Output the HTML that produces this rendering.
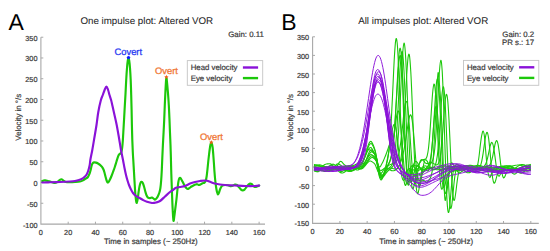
<!DOCTYPE html>
<html><head><meta charset="utf-8"><style>
html,body{margin:0;padding:0;background:#fff;}
svg{display:block;}
text{font-family:"Liberation Sans", sans-serif;stroke-width:0.2px;text-rendering:geometricPrecision;}
.tk{font-size:7.3px;fill:#3a3a3a;stroke:#3a3a3a;}
.lb{font-size:7.85px;fill:#3a3a3a;stroke:#3a3a3a;}
.lg{font-size:7.8px;fill:#3a3a3a;stroke:#3a3a3a;}
.ti{font-size:9.75px;fill:#262626;stroke:#262626;stroke-width:0.05px;}
.big{font-size:23px;fill:#000;}
</style></head><body>
<svg width="550" height="251" viewBox="0 0 550 251" xmlns="http://www.w3.org/2000/svg">
<path d="M40.90 37.20V224.10H265.00" fill="none" stroke="#a8a8a8" stroke-width="1.1"/>
<text x="37.50" y="227.51" text-anchor="end" class="tk">-100</text>
<path d="M40.90 203.25h2.4" stroke="#a8a8a8" stroke-width="1"/>
<text x="37.50" y="206.75" text-anchor="end" class="tk">-50</text>
<path d="M40.90 182.50h2.4" stroke="#a8a8a8" stroke-width="1"/>
<text x="37.50" y="186.00" text-anchor="end" class="tk">0</text>
<path d="M40.90 161.75h2.4" stroke="#a8a8a8" stroke-width="1"/>
<text x="37.50" y="165.25" text-anchor="end" class="tk">50</text>
<path d="M40.90 140.99h2.4" stroke="#a8a8a8" stroke-width="1"/>
<text x="37.50" y="144.49" text-anchor="end" class="tk">100</text>
<path d="M40.90 120.23h2.4" stroke="#a8a8a8" stroke-width="1"/>
<text x="37.50" y="123.73" text-anchor="end" class="tk">150</text>
<path d="M40.90 99.48h2.4" stroke="#a8a8a8" stroke-width="1"/>
<text x="37.50" y="102.98" text-anchor="end" class="tk">200</text>
<path d="M40.90 78.72h2.4" stroke="#a8a8a8" stroke-width="1"/>
<text x="37.50" y="82.22" text-anchor="end" class="tk">250</text>
<path d="M40.90 57.97h2.4" stroke="#a8a8a8" stroke-width="1"/>
<text x="37.50" y="61.47" text-anchor="end" class="tk">300</text>
<path d="M40.90 37.22h2.4" stroke="#a8a8a8" stroke-width="1"/>
<text x="37.50" y="40.72" text-anchor="end" class="tk">350</text>
<text x="40.90" y="234.70" text-anchor="middle" class="tk">0</text>
<path d="M68.18 224.10v-2.4" stroke="#a8a8a8" stroke-width="1"/>
<text x="68.18" y="234.70" text-anchor="middle" class="tk">20</text>
<path d="M95.45 224.10v-2.4" stroke="#a8a8a8" stroke-width="1"/>
<text x="95.45" y="234.70" text-anchor="middle" class="tk">40</text>
<path d="M122.73 224.10v-2.4" stroke="#a8a8a8" stroke-width="1"/>
<text x="122.73" y="234.70" text-anchor="middle" class="tk">60</text>
<path d="M150.00 224.10v-2.4" stroke="#a8a8a8" stroke-width="1"/>
<text x="150.00" y="234.70" text-anchor="middle" class="tk">80</text>
<path d="M177.28 224.10v-2.4" stroke="#a8a8a8" stroke-width="1"/>
<text x="177.28" y="234.70" text-anchor="middle" class="tk">100</text>
<path d="M204.56 224.10v-2.4" stroke="#a8a8a8" stroke-width="1"/>
<text x="204.56" y="234.70" text-anchor="middle" class="tk">120</text>
<path d="M231.83 224.10v-2.4" stroke="#a8a8a8" stroke-width="1"/>
<text x="231.83" y="234.70" text-anchor="middle" class="tk">140</text>
<path d="M259.11 224.10v-2.4" stroke="#a8a8a8" stroke-width="1"/>
<text x="259.11" y="234.70" text-anchor="middle" class="tk">160</text>
<path d="M312.60 36.80V223.40H538.80" fill="none" stroke="#a8a8a8" stroke-width="1.1"/>
<text x="309.20" y="226.30" text-anchor="end" class="tk">-150</text>
<path d="M312.60 204.20h2.4" stroke="#a8a8a8" stroke-width="1"/>
<text x="309.20" y="207.70" text-anchor="end" class="tk">-100</text>
<path d="M312.60 185.60h2.4" stroke="#a8a8a8" stroke-width="1"/>
<text x="309.20" y="189.10" text-anchor="end" class="tk">-50</text>
<path d="M312.60 167.00h2.4" stroke="#a8a8a8" stroke-width="1"/>
<text x="309.20" y="170.50" text-anchor="end" class="tk">0</text>
<path d="M312.60 148.40h2.4" stroke="#a8a8a8" stroke-width="1"/>
<text x="309.20" y="151.90" text-anchor="end" class="tk">50</text>
<path d="M312.60 129.80h2.4" stroke="#a8a8a8" stroke-width="1"/>
<text x="309.20" y="133.30" text-anchor="end" class="tk">100</text>
<path d="M312.60 111.20h2.4" stroke="#a8a8a8" stroke-width="1"/>
<text x="309.20" y="114.70" text-anchor="end" class="tk">150</text>
<path d="M312.60 92.60h2.4" stroke="#a8a8a8" stroke-width="1"/>
<text x="309.20" y="96.10" text-anchor="end" class="tk">200</text>
<path d="M312.60 74.00h2.4" stroke="#a8a8a8" stroke-width="1"/>
<text x="309.20" y="77.50" text-anchor="end" class="tk">250</text>
<path d="M312.60 55.40h2.4" stroke="#a8a8a8" stroke-width="1"/>
<text x="309.20" y="58.90" text-anchor="end" class="tk">300</text>
<path d="M312.60 36.80h2.4" stroke="#a8a8a8" stroke-width="1"/>
<text x="309.20" y="40.30" text-anchor="end" class="tk">350</text>
<text x="312.60" y="234.00" text-anchor="middle" class="tk">0</text>
<path d="M339.88 223.40v-2.4" stroke="#a8a8a8" stroke-width="1"/>
<text x="339.88" y="234.00" text-anchor="middle" class="tk">20</text>
<path d="M367.15 223.40v-2.4" stroke="#a8a8a8" stroke-width="1"/>
<text x="367.15" y="234.00" text-anchor="middle" class="tk">40</text>
<path d="M394.43 223.40v-2.4" stroke="#a8a8a8" stroke-width="1"/>
<text x="394.43" y="234.00" text-anchor="middle" class="tk">60</text>
<path d="M421.70 223.40v-2.4" stroke="#a8a8a8" stroke-width="1"/>
<text x="421.70" y="234.00" text-anchor="middle" class="tk">80</text>
<path d="M448.98 223.40v-2.4" stroke="#a8a8a8" stroke-width="1"/>
<text x="448.98" y="234.00" text-anchor="middle" class="tk">100</text>
<path d="M476.26 223.40v-2.4" stroke="#a8a8a8" stroke-width="1"/>
<text x="476.26" y="234.00" text-anchor="middle" class="tk">120</text>
<path d="M503.53 223.40v-2.4" stroke="#a8a8a8" stroke-width="1"/>
<text x="503.53" y="234.00" text-anchor="middle" class="tk">140</text>
<path d="M530.81 223.40v-2.4" stroke="#a8a8a8" stroke-width="1"/>
<text x="530.81" y="234.00" text-anchor="middle" class="tk">160</text>
<text x="8.6" y="29.7" class="big">A</text>
<text x="281.3" y="29.8" class="big">B</text>
<text x="80.4" y="24.4" class="ti">One impulse plot: Altered VOR</text>
<text x="358.2" y="24.4" class="ti">All impulses plot: Altered VOR</text>
<text x="263.9" y="36.6" text-anchor="end" class="lb">Gain: 0.11</text>
<text x="534.2" y="36.6" text-anchor="end" class="lb">Gain: 0.2</text>
<text x="534.2" y="45.1" text-anchor="end" class="lb">PR s.: 17</text>
<text x="150.9" y="243.9" text-anchor="middle" class="lb">Time in samples (~ 250Hz)</text>
<text x="426.2" y="243.9" text-anchor="middle" class="lb">Time in samples (~ 250Hz)</text>
<text transform="translate(20.5 117.3) rotate(-90)" text-anchor="middle" class="lb">Velocity in °/s</text>
<text transform="translate(292.6 117.4) rotate(-90)" text-anchor="middle" class="lb">Velocity in °/s</text>
<path d="M42.20 181.00C42.42 180.93 43.03 180.70 43.50 180.60C43.97 180.50 44.25 180.33 45.00 180.40C45.75 180.47 47.17 180.80 48.00 181.00C48.83 181.20 49.33 181.40 50.00 181.60C50.67 181.80 51.17 181.97 52.00 182.20C52.83 182.43 54.17 183.00 55.00 183.00C55.83 183.00 56.25 182.67 57.00 182.20C57.75 181.73 58.75 180.68 59.50 180.20C60.25 179.72 60.83 179.23 61.50 179.30C62.17 179.37 62.75 180.15 63.50 180.60C64.25 181.05 64.92 181.73 66.00 182.00C67.08 182.27 68.50 182.20 70.00 182.20C71.50 182.20 73.33 182.12 75.00 182.00C76.67 181.88 78.67 181.77 80.00 181.50C81.33 181.23 82.17 180.82 83.00 180.40C83.83 179.98 84.20 179.53 85.00 179.00C85.80 178.47 87.03 178.12 87.80 177.20C88.57 176.28 89.10 174.78 89.60 173.50C90.10 172.22 90.47 170.78 90.80 169.50C91.13 168.22 91.30 166.83 91.60 165.80C91.90 164.77 92.20 163.87 92.60 163.30C93.00 162.73 93.43 162.52 94.00 162.40C94.57 162.28 95.33 162.42 96.00 162.60C96.67 162.78 97.33 163.13 98.00 163.50C98.67 163.87 99.33 164.25 100.00 164.80C100.67 165.35 101.42 166.02 102.00 166.80C102.58 167.58 103.07 168.47 103.50 169.50C103.93 170.53 104.25 171.75 104.60 173.00C104.95 174.25 105.27 175.75 105.60 177.00C105.93 178.25 106.23 179.57 106.60 180.50C106.97 181.43 107.40 182.47 107.80 182.60C108.20 182.73 108.60 181.90 109.00 181.30C109.40 180.70 109.78 179.88 110.20 179.00C110.62 178.12 111.03 177.17 111.50 176.00C111.97 174.83 112.45 173.50 113.00 172.00C113.55 170.50 114.22 168.75 114.80 167.00C115.38 165.25 115.90 163.40 116.50 161.50C117.10 159.60 117.82 156.90 118.40 155.60C118.98 154.30 119.52 154.27 120.00 153.70C120.48 153.13 120.93 153.23 121.30 152.20C121.67 151.17 121.95 149.37 122.20 147.50C122.45 145.63 122.58 144.08 122.80 141.00C123.02 137.92 123.27 133.00 123.50 129.00C123.73 125.00 123.98 120.83 124.20 117.00C124.42 113.17 124.58 109.83 124.80 106.00C125.02 102.17 125.27 98.33 125.50 94.00C125.73 89.67 125.95 84.33 126.20 80.00C126.45 75.67 126.73 71.25 127.00 68.00C127.27 64.75 127.55 62.20 127.80 60.50C128.05 58.80 128.27 57.80 128.50 57.80C128.73 57.80 128.95 58.80 129.20 60.50C129.45 62.20 129.75 64.75 130.00 68.00C130.25 71.25 130.50 75.50 130.70 80.00C130.90 84.50 131.05 90.00 131.20 95.00C131.35 100.00 131.48 105.00 131.60 110.00C131.72 115.00 131.78 120.00 131.90 125.00C132.02 130.00 132.15 135.50 132.30 140.00C132.45 144.50 132.62 148.33 132.80 152.00C132.98 155.67 133.18 158.33 133.40 162.00C133.62 165.67 133.87 170.00 134.10 174.00C134.33 178.00 134.57 182.33 134.80 186.00C135.03 189.67 135.22 193.20 135.50 196.00C135.78 198.80 136.15 202.22 136.50 202.80C136.85 203.38 137.25 201.30 137.60 199.50C137.95 197.70 138.27 194.25 138.60 192.00C138.93 189.75 139.27 187.57 139.60 186.00C139.93 184.43 140.27 183.30 140.60 182.60C140.93 181.90 141.23 181.73 141.60 181.80C141.97 181.87 142.40 182.22 142.80 183.00C143.20 183.78 143.58 185.08 144.00 186.50C144.42 187.92 144.87 190.00 145.30 191.50C145.73 193.00 146.15 194.48 146.60 195.50C147.05 196.52 147.43 197.17 148.00 197.60C148.57 198.03 149.33 198.10 150.00 198.10C150.67 198.10 151.40 197.52 152.00 197.60C152.60 197.68 153.10 198.27 153.60 198.60C154.10 198.93 154.52 199.63 155.00 199.60C155.48 199.57 156.00 199.00 156.50 198.40C157.00 197.80 157.52 196.98 158.00 196.00C158.48 195.02 159.00 193.83 159.40 192.50C159.80 191.17 160.10 190.08 160.40 188.00C160.70 185.92 160.97 183.00 161.20 180.00C161.43 177.00 161.62 173.67 161.80 170.00C161.98 166.33 162.12 162.17 162.30 158.00C162.48 153.83 162.68 149.33 162.90 145.00C163.12 140.67 163.38 136.17 163.60 132.00C163.82 127.83 164.00 124.50 164.20 120.00C164.40 115.50 164.60 109.67 164.80 105.00C165.00 100.33 165.20 96.00 165.40 92.00C165.60 88.00 165.83 83.45 166.00 81.00C166.17 78.55 166.25 77.30 166.40 77.30C166.55 77.30 166.65 78.55 166.90 81.00C167.15 83.45 167.58 88.00 167.90 92.00C168.22 96.00 168.53 100.33 168.80 105.00C169.07 109.67 169.30 115.33 169.50 120.00C169.70 124.67 169.83 128.83 170.00 133.00C170.17 137.17 170.35 140.83 170.50 145.00C170.65 149.17 170.78 153.83 170.90 158.00C171.02 162.17 171.08 166.00 171.20 170.00C171.32 174.00 171.45 177.67 171.60 182.00C171.75 186.33 171.92 191.33 172.10 196.00C172.28 200.67 172.47 205.87 172.70 210.00C172.93 214.13 173.20 219.97 173.50 220.80C173.80 221.63 174.17 217.30 174.50 215.00C174.83 212.70 175.17 209.67 175.50 207.00C175.83 204.33 176.18 201.83 176.50 199.00C176.82 196.17 177.12 192.67 177.40 190.00C177.68 187.33 177.93 184.83 178.20 183.00C178.47 181.17 178.70 179.87 179.00 179.00C179.30 178.13 179.67 177.83 180.00 177.80C180.33 177.77 180.58 178.18 181.00 178.80C181.42 179.42 182.00 180.55 182.50 181.50C183.00 182.45 183.45 183.50 184.00 184.50C184.55 185.50 185.20 186.75 185.80 187.50C186.40 188.25 186.98 188.92 187.60 189.00C188.22 189.08 188.85 188.42 189.50 188.00C190.15 187.58 190.83 186.92 191.50 186.50C192.17 186.08 192.83 185.82 193.50 185.50C194.17 185.18 194.88 184.82 195.50 184.60C196.12 184.38 196.62 184.13 197.20 184.20C197.78 184.27 198.40 184.98 199.00 185.00C199.60 185.02 200.22 184.58 200.80 184.30C201.38 184.02 201.88 183.58 202.50 183.30C203.12 183.02 203.95 183.07 204.50 182.60C205.05 182.13 205.43 181.60 205.80 180.50C206.17 179.40 206.42 177.92 206.70 176.00C206.98 174.08 207.23 171.50 207.50 169.00C207.77 166.50 208.03 163.50 208.30 161.00C208.57 158.50 208.83 156.17 209.10 154.00C209.37 151.83 209.65 149.67 209.90 148.00C210.15 146.33 210.37 144.95 210.60 144.00C210.83 143.05 211.07 142.30 211.30 142.30C211.53 142.30 211.77 143.05 212.00 144.00C212.23 144.95 212.48 146.17 212.70 148.00C212.92 149.83 213.10 152.50 213.30 155.00C213.50 157.50 213.70 160.17 213.90 163.00C214.10 165.83 214.28 169.17 214.50 172.00C214.72 174.83 214.95 177.58 215.20 180.00C215.45 182.42 215.70 184.50 216.00 186.50C216.30 188.50 216.67 190.68 217.00 192.00C217.33 193.32 217.67 194.32 218.00 194.40C218.33 194.48 218.67 193.32 219.00 192.50C219.33 191.68 219.63 190.42 220.00 189.50C220.37 188.58 220.78 187.65 221.20 187.00C221.62 186.35 221.87 185.93 222.50 185.60C223.13 185.27 224.08 185.07 225.00 185.00C225.92 184.93 227.00 185.00 228.00 185.20C229.00 185.40 230.17 186.13 231.00 186.20C231.83 186.27 232.33 185.87 233.00 185.60C233.67 185.33 234.33 184.70 235.00 184.60C235.67 184.50 236.33 184.57 237.00 185.00C237.67 185.43 238.33 186.43 239.00 187.20C239.67 187.97 240.38 189.07 241.00 189.60C241.62 190.13 242.12 190.40 242.70 190.40C243.28 190.40 243.87 190.17 244.50 189.60C245.13 189.03 245.83 187.85 246.50 187.00C247.17 186.15 247.92 185.07 248.50 184.50C249.08 183.93 249.50 183.68 250.00 183.60C250.50 183.52 251.00 183.68 251.50 184.00C252.00 184.32 252.42 185.00 253.00 185.50C253.58 186.00 254.33 186.82 255.00 187.00C255.67 187.18 256.30 186.83 257.00 186.60C257.70 186.37 258.83 185.77 259.20 185.60" fill="none" stroke="#1cc80a" stroke-width="2.15" stroke-linejoin="round" stroke-linecap="round"/>
<path d="M42.20 182.50C43.50 182.47 47.03 182.38 50.00 182.30C52.97 182.22 56.67 182.13 60.00 182.00C63.33 181.87 67.50 181.67 70.00 181.50C72.50 181.33 73.67 181.22 75.00 181.00C76.33 180.78 76.90 180.53 78.00 180.20C79.10 179.87 80.48 179.57 81.60 179.00C82.72 178.43 83.83 177.60 84.70 176.80C85.57 176.00 86.20 175.25 86.80 174.20C87.40 173.15 87.83 171.95 88.30 170.50C88.77 169.05 89.23 167.42 89.60 165.50C89.97 163.58 90.05 161.58 90.50 159.00C90.95 156.42 91.63 153.67 92.30 150.00C92.97 146.33 93.80 141.17 94.50 137.00C95.20 132.83 95.87 129.17 96.50 125.00C97.13 120.83 97.57 116.17 98.30 112.00C99.03 107.83 100.15 102.83 100.90 100.00C101.65 97.17 102.18 96.67 102.80 95.00C103.42 93.33 104.00 91.42 104.60 90.00C105.20 88.58 105.82 86.50 106.40 86.50C106.98 86.50 107.58 88.58 108.10 90.00C108.62 91.42 109.00 93.33 109.50 95.00C110.00 96.67 110.60 98.17 111.10 100.00C111.60 101.83 111.93 103.50 112.50 106.00C113.07 108.50 113.80 111.83 114.50 115.00C115.20 118.17 115.95 121.17 116.70 125.00C117.45 128.83 118.28 133.83 119.00 138.00C119.72 142.17 120.33 146.33 121.00 150.00C121.67 153.67 122.42 157.00 123.00 160.00C123.58 163.00 124.00 165.50 124.50 168.00C125.00 170.50 125.50 172.92 126.00 175.00C126.50 177.08 127.00 178.83 127.50 180.50C128.00 182.17 128.42 183.50 129.00 185.00C129.58 186.50 130.33 188.17 131.00 189.50C131.67 190.83 132.17 191.92 133.00 193.00C133.83 194.08 134.83 195.13 136.00 196.00C137.17 196.87 138.83 197.53 140.00 198.20C141.17 198.87 141.83 199.40 143.00 200.00C144.17 200.60 145.50 201.30 147.00 201.80C148.50 202.30 150.50 202.88 152.00 203.00C153.50 203.12 154.67 202.83 156.00 202.50C157.33 202.17 158.50 202.00 160.00 201.00C161.50 200.00 163.33 198.00 165.00 196.50C166.67 195.00 168.67 193.08 170.00 192.00C171.33 190.92 172.00 190.70 173.00 190.00C174.00 189.30 174.83 188.30 176.00 187.80C177.17 187.30 178.50 187.30 180.00 187.00C181.50 186.70 183.33 186.57 185.00 186.00C186.67 185.43 188.33 184.27 190.00 183.60C191.67 182.93 193.33 182.43 195.00 182.00C196.67 181.57 198.17 181.25 200.00 181.00C201.83 180.75 204.33 180.37 206.00 180.50C207.67 180.63 208.50 181.30 210.00 181.80C211.50 182.30 213.33 183.05 215.00 183.50C216.67 183.95 218.33 184.25 220.00 184.50C221.67 184.75 222.50 184.83 225.00 185.00C227.50 185.17 231.67 185.33 235.00 185.50C238.33 185.67 241.67 185.92 245.00 186.00C248.33 186.08 252.63 186.08 255.00 186.00C257.37 185.92 258.50 185.58 259.20 185.50" fill="none" stroke="#8a12d8" stroke-width="2.15" stroke-linejoin="round" stroke-linecap="round"/>
<circle cx="128.5" cy="57.6" r="1.7" fill="#0a1aff"/>
<text x="128.3" y="54.6" text-anchor="middle" style="font-size:9.4px;fill:#2a3cf2;stroke:#2a3cf2;stroke-width:0.3px">Covert</text>
<text x="166.4" y="73.9" text-anchor="middle" style="font-size:9.4px;fill:#f07838;stroke:#f07838;stroke-width:0.3px">Overt</text>
<path d="M166.40 74.80L166.99 76.29L168.59 76.39L167.35 77.41L167.75 78.96L166.40 78.10L165.05 78.96L165.45 77.41L164.21 76.39L165.81 76.29z" fill="#f05a14"/>
<text x="211.5" y="139.5" text-anchor="middle" style="font-size:9.4px;fill:#f07838;stroke:#f07838;stroke-width:0.3px">Overt</text>
<path d="M211.30 140.10L211.89 141.59L213.49 141.69L212.25 142.71L212.65 144.26L211.30 143.40L209.95 144.26L210.35 142.71L209.11 141.69L210.71 141.59z" fill="#f05a14"/>
<path d="M313.96 167.94C314.19 167.86 314.87 167.62 315.33 167.47C315.78 167.33 316.24 167.18 316.69 167.07C317.15 166.96 317.60 166.86 318.06 166.79C318.51 166.73 318.96 166.69 319.42 166.68C319.87 166.68 320.33 166.70 320.78 166.76C321.24 166.83 321.69 166.91 322.15 167.05C322.60 167.20 323.06 167.36 323.51 167.63C323.97 167.89 324.42 168.23 324.87 168.62C325.33 169.01 325.78 169.56 326.24 169.96C326.69 170.37 327.15 170.84 327.60 171.03C328.06 171.21 328.51 171.21 328.97 171.06C329.42 170.91 329.87 170.48 330.33 170.12C330.78 169.76 331.24 169.29 331.69 168.90C332.15 168.51 332.60 168.17 333.06 167.79C333.51 167.41 333.97 167.03 334.42 166.60C334.88 166.17 335.33 165.63 335.78 165.21C336.24 164.79 336.69 164.30 337.15 164.07C337.60 163.85 338.06 163.78 338.51 163.87C338.97 163.96 339.42 164.31 339.88 164.61C340.33 164.91 340.79 165.33 341.24 165.67C341.69 166.01 342.15 166.33 342.60 166.63C343.06 166.94 343.51 167.21 343.97 167.50C344.42 167.78 344.88 168.07 345.33 168.35C345.79 168.64 346.24 168.93 346.70 169.19C347.15 169.45 347.60 169.71 348.06 169.92C348.51 170.12 348.97 170.31 349.42 170.43C349.88 170.55 350.33 170.63 350.79 170.64C351.24 170.66 351.70 170.62 352.15 170.52C352.60 170.41 353.06 170.25 353.51 170.04C353.97 169.83 354.42 169.56 354.88 169.26C355.33 168.96 355.79 168.61 356.24 168.24C356.70 167.88 357.15 167.47 357.61 167.06C358.06 166.65 358.51 166.22 358.97 165.77C359.42 165.32 359.88 164.86 360.33 164.35C360.79 163.84 361.24 163.31 361.70 162.70C362.15 162.09 362.61 161.44 363.06 160.68C363.52 159.92 363.97 159.08 364.42 158.16C364.88 157.24 365.33 156.20 365.79 155.18C366.24 154.16 366.70 153.01 367.15 152.04C367.61 151.07 368.06 150.05 368.52 149.34C368.97 148.63 369.43 148.04 369.88 147.78C370.33 147.52 370.79 147.46 371.24 147.78C371.70 148.11 372.15 148.96 372.61 149.76C373.06 150.55 373.52 151.55 373.97 152.55C374.43 153.55 374.88 154.26 375.33 155.75C375.79 157.25 376.24 159.27 376.70 161.54C377.15 163.81 377.61 167.06 378.06 169.38C378.52 171.71 378.97 174.07 379.43 175.51C379.88 176.95 380.34 177.73 380.79 178.04C381.24 178.34 381.70 177.95 382.15 177.34C382.61 176.74 383.06 175.57 383.52 174.40C383.97 173.22 384.43 171.77 384.88 170.30C385.34 168.83 385.79 167.38 386.25 165.59C386.70 163.80 387.15 162.12 387.61 159.58C388.06 157.04 388.52 154.39 388.97 150.34C389.43 146.28 389.88 141.55 390.34 135.25C390.79 128.96 391.25 121.13 391.70 112.58C392.15 104.02 392.61 93.32 393.06 83.92C393.52 74.52 393.97 63.53 394.43 56.17C394.88 48.81 395.34 42.01 395.79 39.77C396.25 37.54 396.70 38.52 397.16 42.77C397.61 47.03 398.06 55.84 398.52 65.30C398.97 74.77 399.43 87.95 399.88 99.56C400.34 111.18 400.79 124.39 401.25 135.02C401.70 145.64 402.16 155.80 402.61 163.32C403.07 170.84 403.52 176.47 403.97 180.14C404.43 183.81 404.88 184.96 405.34 185.34C405.79 185.72 406.25 183.92 406.70 182.43C407.16 180.95 407.61 178.33 408.07 176.42C408.52 174.51 408.98 172.47 409.43 170.96C409.88 169.44 410.34 168.24 410.79 167.34C411.25 166.44 411.70 165.90 412.16 165.54C412.61 165.18 413.07 165.17 413.52 165.18C413.98 165.20 414.43 165.50 414.88 165.63C415.34 165.77 415.79 166.02 416.25 166.00C416.70 165.98 417.16 165.85 417.61 165.52C418.07 165.20 418.52 164.62 418.98 164.04C419.43 163.46 419.89 162.67 420.34 162.06C420.79 161.45 421.25 160.80 421.70 160.37C422.16 159.95 422.61 159.70 423.07 159.54C423.52 159.37 423.98 159.51 424.43 159.40C424.89 159.29 425.34 159.47 425.80 158.90C426.25 158.33 426.70 157.81 427.16 155.98C427.61 154.16 428.07 151.78 428.52 147.94C428.98 144.10 429.43 138.84 429.89 132.94C430.34 127.03 430.80 119.15 431.25 112.52C431.71 105.90 432.16 97.94 432.61 93.20C433.07 88.45 433.52 84.40 433.98 84.05C434.43 83.70 434.89 86.26 435.34 91.11C435.80 95.95 436.25 104.57 436.71 113.13C437.16 121.70 437.62 133.14 438.07 142.50C438.52 151.86 438.98 162.11 439.43 169.30C439.89 176.49 440.34 182.32 440.80 185.63C441.25 188.94 441.71 189.45 442.16 189.14C442.62 188.83 443.07 185.93 443.52 183.77C443.98 181.60 444.43 178.33 444.89 176.13C445.34 173.94 445.80 171.97 446.25 170.59C446.71 169.22 447.16 168.48 447.62 167.88C448.07 167.27 448.53 167.14 448.98 166.97C449.43 166.80 449.89 166.85 450.34 166.87C450.80 166.89 451.25 166.99 451.71 167.09C452.16 167.18 452.62 167.31 453.07 167.43C453.53 167.55 453.98 167.68 454.44 167.79C454.89 167.90 455.34 168.01 455.80 168.09C456.25 168.17 456.71 168.23 457.16 168.27C457.62 168.30 458.07 168.31 458.53 168.29C458.98 168.27 459.44 168.23 459.89 168.16C460.35 168.09 460.80 168.00 461.25 167.90C461.71 167.80 462.16 167.67 462.62 167.56C463.07 167.44 463.53 167.31 463.98 167.20C464.44 167.09 464.89 166.97 465.35 166.89C465.80 166.81 466.25 166.73 466.71 166.69C467.16 166.65 467.62 166.63 468.07 166.65C468.53 166.66 468.98 166.70 469.44 166.77C469.89 166.83 470.35 166.93 470.80 167.03C471.26 167.14 471.71 167.28 472.16 167.41C472.62 167.55 473.07 167.70 473.53 167.84C473.98 167.99 474.44 168.13 474.89 168.26C475.35 168.39 475.80 168.51 476.26 168.60C476.71 168.69 477.17 168.77 477.62 168.81C478.07 168.86 478.53 168.88 478.98 168.87C479.44 168.86 479.89 168.83 480.35 168.77C480.80 168.72 481.26 168.64 481.71 168.55C482.17 168.46 482.62 168.35 483.08 168.24C483.53 168.13 483.98 168.01 484.44 167.91C484.89 167.81 485.35 167.70 485.80 167.62C486.26 167.54 486.71 167.47 487.17 167.42C487.62 167.38 488.08 167.35 488.53 167.35C488.98 167.34 489.44 167.37 489.89 167.40C490.35 167.44 490.80 167.50 491.26 167.57C491.71 167.64 492.17 167.73 492.62 167.81C493.08 167.89 493.53 167.98 493.99 168.05C494.44 168.12 494.89 168.19 495.35 168.24C495.80 168.28 496.26 168.31 496.71 168.31C497.17 168.31 497.62 168.28 498.08 168.23C498.53 168.17 498.99 168.08 499.44 167.97C499.90 167.86 500.35 167.72 500.80 167.57C501.26 167.42 501.71 167.24 502.17 167.07C502.62 166.90 503.08 166.71 503.53 166.55C503.99 166.39 504.44 166.22 504.90 166.09C505.35 165.96 505.80 165.85 506.26 165.78C506.71 165.72 507.17 165.68 507.62 165.70C508.08 165.72 508.53 165.78 508.99 165.89C509.44 166.00 509.90 166.16 510.35 166.36C510.81 166.55 511.26 166.80 511.71 167.07C512.17 167.33 512.62 167.65 513.08 167.95C513.53 168.26 513.99 168.60 514.44 168.91C514.90 169.22 515.35 169.54 515.81 169.81C516.26 170.09 516.72 170.35 517.17 170.55C517.62 170.74 518.08 170.91 518.53 171.00C518.99 171.10 519.44 171.14 519.90 171.11C520.35 171.09 520.81 170.99 521.26 170.84C521.72 170.69 522.17 170.47 522.63 170.21C523.08 169.95 523.53 169.62 523.99 169.28C524.44 168.94 524.90 168.55 525.35 168.16C525.81 167.78 526.26 167.36 526.72 166.98C527.17 166.60 527.63 166.21 528.08 165.87C528.54 165.54 528.99 165.22 529.44 164.97C529.90 164.72 530.58 164.47 530.81 164.37" fill="none" stroke="#1cc80a" stroke-width="1.1"/>
<path d="M313.96 170.75C314.19 170.81 314.87 171.03 315.33 171.08C315.78 171.14 316.24 171.13 316.69 171.09C317.15 171.05 317.60 170.93 318.06 170.82C318.51 170.70 318.96 170.52 319.42 170.39C319.87 170.27 320.33 170.11 320.78 170.08C321.24 170.06 321.69 170.10 322.15 170.24C322.60 170.38 323.06 170.71 323.51 170.93C323.97 171.14 324.42 171.47 324.87 171.52C325.33 171.58 325.78 171.47 326.24 171.26C326.69 171.05 327.15 170.59 327.60 170.27C328.06 169.95 328.51 169.57 328.97 169.34C329.42 169.11 329.87 168.99 330.33 168.89C330.78 168.78 331.24 168.77 331.69 168.72C332.15 168.68 332.60 168.64 333.06 168.61C333.51 168.57 333.97 168.51 334.42 168.50C334.88 168.50 335.33 168.51 335.78 168.58C336.24 168.64 336.69 168.80 337.15 168.90C337.60 169.00 338.06 169.16 338.51 169.18C338.97 169.20 339.42 169.13 339.88 169.02C340.33 168.92 340.79 168.68 341.24 168.57C341.69 168.46 342.15 168.34 342.60 168.35C343.06 168.36 343.51 168.48 343.97 168.63C344.42 168.78 344.88 169.04 345.33 169.27C345.79 169.50 346.24 169.78 346.70 170.01C347.15 170.24 347.60 170.48 348.06 170.65C348.51 170.82 348.97 170.97 349.42 171.05C349.88 171.14 350.33 171.17 350.79 171.15C351.24 171.13 351.70 171.04 352.15 170.92C352.60 170.79 353.06 170.61 353.51 170.40C353.97 170.20 354.42 169.95 354.88 169.70C355.33 169.46 355.79 169.18 356.24 168.93C356.70 168.68 357.15 168.43 357.61 168.21C358.06 167.98 358.51 167.78 358.97 167.61C359.42 167.43 359.88 167.29 360.33 167.14C360.79 166.99 361.24 166.88 361.70 166.73C362.15 166.57 362.61 166.43 363.06 166.21C363.52 165.99 363.97 165.74 364.42 165.39C364.88 165.05 365.33 164.62 365.79 164.13C366.24 163.64 366.70 163.04 367.15 162.44C367.61 161.84 368.06 161.14 368.52 160.54C368.97 159.94 369.43 159.29 369.88 158.82C370.33 158.35 370.79 157.93 371.24 157.71C371.70 157.49 372.15 157.41 372.61 157.51C373.06 157.62 373.52 158.00 373.97 158.34C374.43 158.69 374.88 158.96 375.33 159.58C375.79 160.20 376.24 160.88 376.70 162.07C377.15 163.26 377.61 165.08 378.06 166.73C378.52 168.38 378.97 170.48 379.43 171.96C379.88 173.45 380.34 174.79 380.79 175.65C381.24 176.50 381.70 176.94 382.15 177.09C382.61 177.24 383.06 176.93 383.52 176.55C383.97 176.17 384.43 175.43 384.88 174.81C385.34 174.20 385.79 173.45 386.25 172.86C386.70 172.27 387.15 171.73 387.61 171.26C388.06 170.79 388.52 170.43 388.97 170.05C389.43 169.67 389.88 169.36 390.34 168.98C390.79 168.59 391.25 168.25 391.70 167.76C392.15 167.28 392.61 166.81 393.06 166.07C393.52 165.32 393.97 164.60 394.43 163.29C394.88 161.99 395.34 160.64 395.79 158.24C396.25 155.84 396.70 153.13 397.16 148.89C397.61 144.64 398.06 139.46 398.52 132.77C398.97 126.08 399.43 117.58 399.88 108.76C400.34 99.94 400.79 88.92 401.25 79.87C401.70 70.81 402.16 60.58 402.61 54.46C403.07 48.33 403.52 43.51 403.97 43.13C404.43 42.75 404.88 46.15 405.34 52.17C405.79 58.20 406.25 68.74 406.70 79.28C407.16 89.81 407.61 103.57 408.07 115.37C408.52 127.17 408.98 140.04 409.43 150.07C409.88 160.09 410.34 169.22 410.79 175.51C411.25 181.79 411.70 185.73 412.16 187.77C412.61 189.81 413.07 188.91 413.52 187.73C413.98 186.54 414.43 183.12 414.88 180.68C415.34 178.24 415.79 175.08 416.25 173.08C416.70 171.09 417.16 169.60 417.61 168.69C418.07 167.79 418.52 167.73 418.98 167.67C419.43 167.62 419.89 168.10 420.34 168.37C420.79 168.65 421.25 169.07 421.70 169.30C422.16 169.53 422.61 169.70 423.07 169.77C423.52 169.84 423.98 169.79 424.43 169.73C424.89 169.66 425.34 169.51 425.80 169.38C426.25 169.24 426.70 169.07 427.16 168.94C427.61 168.82 428.07 168.69 428.52 168.62C428.98 168.55 429.43 168.51 429.89 168.51C430.34 168.52 430.80 168.58 431.25 168.65C431.71 168.72 432.16 168.84 432.61 168.94C433.07 169.04 433.52 169.17 433.98 169.27C434.43 169.37 434.89 169.46 435.34 169.54C435.80 169.61 436.25 169.67 436.71 169.70C437.16 169.74 437.62 169.76 438.07 169.76C438.52 169.76 438.98 169.75 439.43 169.71C439.89 169.67 440.34 169.61 440.80 169.53C441.25 169.45 441.71 169.35 442.16 169.23C442.62 169.11 443.07 168.97 443.52 168.83C443.98 168.70 444.43 168.54 444.89 168.41C445.34 168.29 445.80 168.16 446.25 168.07C446.71 167.98 447.16 167.91 447.62 167.89C448.07 167.87 448.53 167.88 448.98 167.94C449.43 167.99 449.89 168.10 450.34 168.23C450.80 168.36 451.25 168.53 451.71 168.71C452.16 168.89 452.62 169.11 453.07 169.31C453.53 169.50 453.98 169.72 454.44 169.89C454.89 170.07 455.34 170.24 455.80 170.35C456.25 170.47 456.71 170.56 457.16 170.59C457.62 170.62 458.07 170.61 458.53 170.55C458.98 170.49 459.44 170.37 459.89 170.23C460.35 170.08 460.80 169.89 461.25 169.68C461.71 169.48 462.16 169.24 462.62 169.02C463.07 168.80 463.53 168.56 463.98 168.36C464.44 168.16 464.89 167.96 465.35 167.81C465.80 167.67 466.25 167.55 466.71 167.47C467.16 167.40 467.62 167.38 468.07 167.39C468.53 167.40 468.98 167.46 469.44 167.54C469.89 167.62 470.35 167.75 470.80 167.87C471.26 168.00 471.71 168.15 472.16 168.29C472.62 168.43 473.07 168.58 473.53 168.69C473.98 168.81 474.44 168.92 474.89 168.99C475.35 169.06 475.80 169.11 476.26 169.12C476.71 169.14 477.17 169.12 477.62 169.08C478.07 169.05 478.53 168.97 478.98 168.91C479.44 168.84 479.89 168.75 480.35 168.67C480.80 168.60 481.26 168.52 481.71 168.48C482.17 168.43 482.62 168.40 483.08 168.40C483.53 168.41 483.98 168.44 484.44 168.51C484.89 168.58 485.35 168.68 485.80 168.81C486.26 168.94 486.71 169.10 487.17 169.27C487.62 169.43 488.08 169.63 488.53 169.80C488.98 169.98 489.44 170.16 489.89 170.30C490.35 170.44 490.80 170.58 491.26 170.65C491.71 170.73 492.17 170.77 492.62 170.76C493.08 170.74 493.53 170.68 493.99 170.57C494.44 170.45 494.89 170.28 495.35 170.09C495.80 169.89 496.26 169.63 496.71 169.38C497.17 169.12 497.62 168.83 498.08 168.55C498.53 168.28 498.99 167.99 499.44 167.75C499.90 167.50 500.35 167.27 500.80 167.09C501.26 166.91 501.71 166.77 502.17 166.69C502.62 166.61 503.08 166.58 503.53 166.60C503.99 166.62 504.44 166.71 504.90 166.82C505.35 166.94 505.80 167.11 506.26 167.30C506.71 167.48 507.17 167.71 507.62 167.93C508.08 168.15 508.53 168.39 508.99 168.60C509.44 168.80 509.90 169.01 510.35 169.18C510.81 169.35 511.26 169.49 511.71 169.60C512.17 169.70 512.62 169.77 513.08 169.81C513.53 169.84 513.99 169.84 514.44 169.82C514.90 169.80 515.35 169.74 515.81 169.69C516.26 169.64 516.72 169.56 517.17 169.50C517.62 169.44 518.08 169.38 518.53 169.34C518.99 169.30 519.44 169.28 519.90 169.28C520.35 169.28 520.81 169.30 521.26 169.34C521.72 169.38 522.17 169.45 522.63 169.52C523.08 169.59 523.53 169.69 523.99 169.77C524.44 169.84 524.90 169.93 525.35 169.99C525.81 170.04 526.26 170.09 526.72 170.10C527.17 170.10 527.63 170.08 528.08 170.01C528.54 169.94 528.99 169.83 529.44 169.69C529.90 169.54 530.58 169.23 530.81 169.14" fill="none" stroke="#1cc80a" stroke-width="1.1"/>
<path d="M313.96 167.12C314.19 166.97 314.87 166.50 315.33 166.22C315.78 165.95 316.24 165.69 316.69 165.49C317.15 165.29 317.60 165.12 318.06 165.01C318.51 164.91 318.96 164.85 319.42 164.85C319.87 164.85 320.33 164.91 320.78 165.01C321.24 165.11 321.69 165.27 322.15 165.45C322.60 165.63 323.06 165.86 323.51 166.09C323.97 166.32 324.42 166.57 324.87 166.84C325.33 167.10 325.78 167.37 326.24 167.66C326.69 167.96 327.15 168.28 327.60 168.63C328.06 168.97 328.51 169.40 328.97 169.73C329.42 170.06 329.87 170.45 330.33 170.60C330.78 170.75 331.24 170.79 331.69 170.65C332.15 170.52 332.60 170.13 333.06 169.79C333.51 169.45 333.97 168.96 334.42 168.60C334.88 168.24 335.33 167.89 335.78 167.62C336.24 167.34 336.69 167.13 337.15 166.96C337.60 166.79 338.06 166.66 338.51 166.61C338.97 166.57 339.42 166.58 339.88 166.70C340.33 166.82 340.79 167.09 341.24 167.34C341.69 167.58 342.15 167.98 342.60 168.17C343.06 168.36 343.51 168.49 343.97 168.46C344.42 168.43 344.88 168.18 345.33 167.99C345.79 167.79 346.24 167.47 346.70 167.30C347.15 167.13 347.60 167.02 348.06 166.97C348.51 166.93 348.97 166.99 349.42 167.04C349.88 167.10 350.33 167.21 350.79 167.29C351.24 167.38 351.70 167.48 352.15 167.56C352.60 167.65 353.06 167.73 353.51 167.79C353.97 167.85 354.42 167.91 354.88 167.93C355.33 167.96 355.79 167.98 356.24 167.95C356.70 167.92 357.15 167.89 357.61 167.78C358.06 167.66 358.51 167.53 358.97 167.29C359.42 167.04 359.88 166.76 360.33 166.31C360.79 165.87 361.24 165.34 361.70 164.61C362.15 163.89 362.61 163.02 363.06 161.96C363.52 160.90 363.97 159.63 364.42 158.25C364.88 156.87 365.33 155.25 365.79 153.67C366.24 152.10 366.70 150.32 367.15 148.80C367.61 147.28 368.06 145.70 368.52 144.55C368.97 143.41 369.43 142.43 369.88 141.91C370.33 141.40 370.79 141.17 371.24 141.46C371.70 141.75 372.15 142.76 372.61 143.67C373.06 144.57 373.52 145.60 373.97 146.88C374.43 148.17 374.88 149.26 375.33 151.38C375.79 153.49 376.24 156.54 376.70 159.57C377.15 162.61 377.61 166.72 378.06 169.60C378.52 172.49 378.97 175.18 379.43 176.87C379.88 178.56 380.34 179.41 380.79 179.75C381.24 180.08 381.70 179.56 382.15 178.88C382.61 178.20 383.06 176.84 383.52 175.65C383.97 174.47 384.43 172.97 384.88 171.76C385.34 170.54 385.79 169.39 386.25 168.37C386.70 167.36 387.15 166.55 387.61 165.67C388.06 164.79 388.52 164.08 388.97 163.08C389.43 162.07 389.88 161.14 390.34 159.67C390.79 158.19 391.25 156.66 391.70 154.25C392.15 151.84 392.61 149.15 393.06 145.21C393.52 141.27 393.97 136.59 394.43 130.63C394.88 124.67 395.34 117.27 395.79 109.45C396.25 101.64 396.70 91.95 397.16 83.75C397.61 75.55 398.06 66.15 398.52 60.26C398.97 54.36 399.43 49.31 399.88 48.37C400.34 47.43 400.79 49.68 401.25 54.61C401.70 59.55 402.16 68.65 402.61 77.96C403.07 87.27 403.52 99.74 403.97 110.48C404.43 121.22 404.88 133.08 405.34 142.41C405.79 151.75 406.25 160.34 406.70 166.49C407.16 172.65 407.61 176.84 408.07 179.35C408.52 181.85 408.98 181.95 409.43 181.52C409.88 181.10 410.34 178.72 410.79 176.81C411.25 174.90 411.70 172.10 412.16 170.08C412.61 168.06 413.07 166.08 413.52 164.71C413.98 163.33 414.43 162.39 414.88 161.85C415.34 161.30 415.79 161.24 416.25 161.44C416.70 161.64 417.16 162.30 417.61 163.04C418.07 163.78 418.52 164.92 418.98 165.88C419.43 166.85 419.89 168.01 420.34 168.84C420.79 169.66 421.25 170.41 421.70 170.83C422.16 171.25 422.61 171.41 423.07 171.36C423.52 171.32 423.98 170.97 424.43 170.58C424.89 170.18 425.34 169.57 425.80 169.01C426.25 168.44 426.70 167.78 427.16 167.20C427.61 166.63 428.07 166.06 428.52 165.55C428.98 165.05 429.43 164.63 429.89 164.17C430.34 163.71 430.80 163.42 431.25 162.78C431.71 162.14 432.16 161.69 432.61 160.35C433.07 159.02 433.52 157.67 433.98 154.78C434.43 151.88 434.89 148.32 435.34 143.00C435.80 137.67 436.25 130.62 436.71 122.84C437.16 115.05 437.62 104.82 438.07 96.27C438.52 87.71 438.98 77.52 439.43 71.51C439.89 65.51 440.34 60.40 440.80 60.24C441.25 60.09 441.71 63.66 442.16 70.58C442.62 77.51 443.07 89.47 443.52 101.78C443.98 114.09 444.43 130.67 444.89 144.47C445.34 158.26 445.80 173.83 446.25 184.54C446.71 195.24 447.16 204.17 447.62 208.68C448.07 213.18 448.53 213.11 448.98 211.54C449.43 209.98 449.89 203.93 450.34 199.26C450.80 194.60 451.25 188.05 451.71 183.57C452.16 179.08 452.62 175.16 453.07 172.37C453.53 169.59 453.98 168.10 454.44 166.86C454.89 165.62 455.34 165.30 455.80 164.93C456.25 164.56 456.71 164.61 457.16 164.63C457.62 164.64 458.07 164.83 458.53 165.02C458.98 165.20 459.44 165.48 459.89 165.75C460.35 166.02 460.80 166.35 461.25 166.65C461.71 166.95 462.16 167.27 462.62 167.55C463.07 167.83 463.53 168.11 463.98 168.33C464.44 168.56 464.89 168.75 465.35 168.88C465.80 169.01 466.25 169.09 466.71 169.12C467.16 169.15 467.62 169.12 468.07 169.04C468.53 168.97 468.98 168.83 469.44 168.67C469.89 168.51 470.35 168.30 470.80 168.09C471.26 167.87 471.71 167.62 472.16 167.38C472.62 167.15 473.07 166.89 473.53 166.67C473.98 166.45 474.44 166.24 474.89 166.06C475.35 165.88 475.80 165.73 476.26 165.62C476.71 165.51 477.17 165.44 477.62 165.40C478.07 165.37 478.53 165.38 478.98 165.42C479.44 165.45 479.89 165.54 480.35 165.64C480.80 165.74 481.26 165.88 481.71 166.02C482.17 166.16 482.62 166.33 483.08 166.49C483.53 166.65 483.98 166.83 484.44 166.99C484.89 167.14 485.35 167.30 485.80 167.44C486.26 167.57 486.71 167.70 487.17 167.80C487.62 167.90 488.08 167.98 488.53 168.03C488.98 168.09 489.44 168.12 489.89 168.14C490.35 168.15 490.80 168.13 491.26 168.11C491.71 168.08 492.17 168.03 492.62 167.96C493.08 167.90 493.53 167.82 493.99 167.74C494.44 167.65 494.89 167.55 495.35 167.45C495.80 167.35 496.26 167.24 496.71 167.14C497.17 167.03 497.62 166.92 498.08 166.82C498.53 166.72 498.99 166.62 499.44 166.52C499.90 166.43 500.35 166.34 500.80 166.27C501.26 166.19 501.71 166.13 502.17 166.07C502.62 166.02 503.08 165.98 503.53 165.96C503.99 165.94 504.44 165.93 504.90 165.95C505.35 165.96 505.80 165.99 506.26 166.04C506.71 166.10 507.17 166.17 507.62 166.25C508.08 166.34 508.53 166.45 508.99 166.57C509.44 166.69 509.90 166.83 510.35 166.97C510.81 167.11 511.26 167.26 511.71 167.41C512.17 167.55 512.62 167.71 513.08 167.84C513.53 167.97 513.99 168.10 514.44 168.20C514.90 168.30 515.35 168.39 515.81 168.43C516.26 168.48 516.72 168.51 517.17 168.49C517.62 168.48 518.08 168.43 518.53 168.34C518.99 168.26 519.44 168.13 519.90 167.99C520.35 167.84 520.81 167.65 521.26 167.46C521.72 167.26 522.17 167.03 522.63 166.82C523.08 166.60 523.53 166.36 523.99 166.15C524.44 165.94 524.90 165.73 525.35 165.57C525.81 165.40 526.26 165.25 526.72 165.15C527.17 165.05 527.63 164.99 528.08 164.99C528.54 164.98 528.99 165.03 529.44 165.12C529.90 165.21 530.58 165.48 530.81 165.55" fill="none" stroke="#1cc80a" stroke-width="1.1"/>
<path d="M313.96 169.56C314.19 169.56 314.87 169.56 315.33 169.58C315.78 169.61 316.24 169.64 316.69 169.69C317.15 169.74 317.60 169.80 318.06 169.87C318.51 169.94 318.96 170.02 319.42 170.10C319.87 170.19 320.33 170.28 320.78 170.36C321.24 170.45 321.69 170.54 322.15 170.61C322.60 170.69 323.06 170.76 323.51 170.82C323.97 170.87 324.42 170.92 324.87 170.94C325.33 170.96 325.78 170.97 326.24 170.95C326.69 170.94 327.15 170.90 327.60 170.84C328.06 170.79 328.51 170.71 328.97 170.62C329.42 170.52 329.87 170.41 330.33 170.29C330.78 170.17 331.24 170.03 331.69 169.89C332.15 169.75 332.60 169.60 333.06 169.47C333.51 169.33 333.97 169.19 334.42 169.06C334.88 168.94 335.33 168.83 335.78 168.74C336.24 168.65 336.69 168.57 337.15 168.53C337.60 168.48 338.06 168.46 338.51 168.47C338.97 168.48 339.42 168.52 339.88 168.58C340.33 168.64 340.79 168.74 341.24 168.85C341.69 168.97 342.15 169.11 342.60 169.27C343.06 169.43 343.51 169.61 343.97 169.79C344.42 169.97 344.88 170.17 345.33 170.35C345.79 170.54 346.24 170.73 346.70 170.90C347.15 171.06 347.60 171.23 348.06 171.34C348.51 171.45 348.97 171.55 349.42 171.54C349.88 171.53 350.33 171.45 350.79 171.27C351.24 171.09 351.70 170.74 352.15 170.45C352.60 170.16 353.06 169.73 353.51 169.55C353.97 169.37 354.42 169.31 354.88 169.36C355.33 169.40 355.79 169.70 356.24 169.81C356.70 169.91 357.15 170.04 357.61 169.98C358.06 169.92 358.51 169.68 358.97 169.43C359.42 169.19 359.88 168.83 360.33 168.52C360.79 168.20 361.24 167.88 361.70 167.54C362.15 167.20 362.61 166.87 363.06 166.47C363.52 166.07 363.97 165.65 364.42 165.14C364.88 164.64 365.33 164.06 365.79 163.43C366.24 162.79 366.70 162.06 367.15 161.34C367.61 160.62 368.06 159.81 368.52 159.11C368.97 158.42 369.43 157.69 369.88 157.18C370.33 156.67 370.79 156.24 371.24 156.05C371.70 155.86 372.15 155.82 372.61 156.05C373.06 156.28 373.52 156.89 373.97 157.45C374.43 158.01 374.88 158.71 375.33 159.39C375.79 160.08 376.24 160.54 376.70 161.54C377.15 162.54 377.61 163.89 378.06 165.41C378.52 166.92 378.97 169.09 379.43 170.60C379.88 172.12 380.34 173.60 380.79 174.47C381.24 175.34 381.70 175.72 382.15 175.83C382.61 175.94 383.06 175.57 383.52 175.14C383.97 174.71 384.43 173.92 384.88 173.24C385.34 172.56 385.79 171.71 386.25 171.06C386.70 170.41 387.15 169.80 387.61 169.35C388.06 168.90 388.52 168.60 388.97 168.38C389.43 168.16 389.88 168.08 390.34 168.04C390.79 168.00 391.25 168.06 391.70 168.14C392.15 168.21 392.61 168.35 393.06 168.48C393.52 168.60 393.97 168.78 394.43 168.89C394.88 168.99 395.34 169.13 395.79 169.11C396.25 169.09 396.70 169.07 397.16 168.75C397.61 168.43 398.06 168.06 398.52 167.18C398.97 166.30 399.43 165.29 399.88 163.48C400.34 161.67 400.79 159.57 401.25 156.34C401.70 153.11 402.16 149.25 402.61 144.08C403.07 138.90 403.52 132.53 403.97 125.31C404.43 118.09 404.88 109.11 405.34 100.77C405.79 92.43 406.25 82.50 406.70 75.27C407.16 68.05 407.61 60.72 408.07 57.41C408.52 54.10 408.98 53.01 409.43 55.40C409.88 57.80 410.34 64.06 410.79 71.79C411.25 79.51 411.70 90.98 412.16 101.76C412.61 112.54 413.07 125.57 413.52 136.47C413.98 147.37 414.43 158.69 414.88 167.15C415.34 175.61 415.79 182.78 416.25 187.22C416.70 191.65 417.16 193.45 417.61 193.76C418.07 194.06 418.52 191.42 418.98 189.05C419.43 186.69 419.89 182.47 420.34 179.56C420.79 176.64 421.25 173.53 421.70 171.58C422.16 169.63 422.61 168.51 423.07 167.88C423.52 167.25 423.98 167.54 424.43 167.78C424.89 168.02 425.34 168.83 425.80 169.32C426.25 169.82 426.70 170.57 427.16 170.76C427.61 170.94 428.07 171.20 428.52 170.46C428.98 169.73 429.43 168.72 429.89 166.34C430.34 163.97 430.80 160.62 431.25 156.21C431.71 151.79 432.16 145.67 432.61 139.88C433.07 134.08 433.52 126.67 433.98 121.42C434.43 116.18 434.89 110.73 435.34 108.41C435.80 106.10 436.25 105.58 436.71 107.53C437.16 109.49 437.62 114.46 438.07 120.15C438.52 125.84 438.98 134.31 439.43 141.68C439.89 149.05 440.34 157.85 440.80 164.38C441.25 170.90 441.71 177.03 442.16 180.83C442.62 184.64 443.07 186.50 443.52 187.21C443.98 187.91 444.43 186.34 444.89 185.06C445.34 183.78 445.80 181.20 446.25 179.51C446.71 177.82 447.16 176.07 447.62 174.91C448.07 173.75 448.53 173.09 448.98 172.56C449.43 172.03 449.89 171.91 450.34 171.73C450.80 171.55 451.25 171.54 451.71 171.46C452.16 171.37 452.62 171.32 453.07 171.22C453.53 171.13 453.98 171.01 454.44 170.88C454.89 170.75 455.34 170.59 455.80 170.43C456.25 170.27 456.71 170.09 457.16 169.92C457.62 169.75 458.07 169.57 458.53 169.41C458.98 169.25 459.44 169.09 459.89 168.96C460.35 168.83 460.80 168.71 461.25 168.63C461.71 168.55 462.16 168.49 462.62 168.46C463.07 168.44 463.53 168.44 463.98 168.48C464.44 168.51 464.89 168.58 465.35 168.67C465.80 168.76 466.25 168.89 466.71 169.02C467.16 169.16 467.62 169.33 468.07 169.49C468.53 169.66 468.98 169.85 469.44 170.03C469.89 170.20 470.35 170.39 470.80 170.56C471.26 170.72 471.71 170.89 472.16 171.02C472.62 171.16 473.07 171.28 473.53 171.37C473.98 171.46 474.44 171.52 474.89 171.56C475.35 171.59 475.80 171.59 476.26 171.56C476.71 171.53 477.17 171.46 477.62 171.37C478.07 171.29 478.53 171.17 478.98 171.03C479.44 170.89 479.89 170.73 480.35 170.56C480.80 170.40 481.26 170.21 481.71 170.03C482.17 169.85 482.62 169.66 483.08 169.49C483.53 169.32 483.98 169.15 484.44 169.00C484.89 168.86 485.35 168.73 485.80 168.63C486.26 168.54 486.71 168.46 487.17 168.42C487.62 168.38 488.08 168.37 488.53 168.38C488.98 168.40 489.44 168.46 489.89 168.53C490.35 168.61 490.80 168.72 491.26 168.84C491.71 168.97 492.17 169.12 492.62 169.28C493.08 169.43 493.53 169.61 493.99 169.78C494.44 169.96 494.89 170.14 495.35 170.31C495.80 170.47 496.26 170.64 496.71 170.78C497.17 170.92 497.62 171.06 498.08 171.16C498.53 171.26 498.99 171.34 499.44 171.39C499.90 171.44 500.35 171.46 500.80 171.46C501.26 171.45 501.71 171.41 502.17 171.35C502.62 171.29 503.08 171.20 503.53 171.10C503.99 170.99 504.44 170.86 504.90 170.72C505.35 170.58 505.80 170.42 506.26 170.27C506.71 170.12 507.17 169.95 507.62 169.80C508.08 169.65 508.53 169.50 508.99 169.37C509.44 169.24 509.90 169.12 510.35 169.02C510.81 168.93 511.26 168.85 511.71 168.80C512.17 168.75 512.62 168.73 513.08 168.73C513.53 168.73 513.99 168.75 514.44 168.80C514.90 168.85 515.35 168.92 515.81 169.01C516.26 169.10 516.72 169.21 517.17 169.32C517.62 169.44 518.08 169.57 518.53 169.70C518.99 169.83 519.44 169.96 519.90 170.09C520.35 170.21 520.81 170.34 521.26 170.44C521.72 170.54 522.17 170.64 522.63 170.71C523.08 170.79 523.53 170.85 523.99 170.88C524.44 170.91 524.90 170.93 525.35 170.92C525.81 170.91 526.26 170.88 526.72 170.84C527.17 170.79 527.63 170.72 528.08 170.65C528.54 170.57 528.99 170.47 529.44 170.38C529.90 170.28 530.58 170.12 530.81 170.07" fill="none" stroke="#1cc80a" stroke-width="1.1"/>
<path d="M313.96 170.06C314.19 170.19 314.87 170.63 315.33 170.87C315.78 171.12 316.24 171.45 316.69 171.54C317.15 171.62 317.60 171.61 318.06 171.38C318.51 171.16 318.96 170.66 319.42 170.20C319.87 169.74 320.33 169.10 320.78 168.63C321.24 168.17 321.69 167.74 322.15 167.43C322.60 167.12 323.06 166.93 323.51 166.78C323.97 166.64 324.42 166.59 324.87 166.57C325.33 166.54 325.78 166.59 326.24 166.65C326.69 166.71 327.15 166.81 327.60 166.93C328.06 167.04 328.51 167.19 328.97 167.33C329.42 167.47 329.87 167.63 330.33 167.76C330.78 167.89 331.24 168.03 331.69 168.13C332.15 168.23 332.60 168.32 333.06 168.38C333.51 168.45 333.97 168.47 334.42 168.51C334.88 168.55 335.33 168.54 335.78 168.60C336.24 168.66 336.69 168.71 337.15 168.90C337.60 169.08 338.06 169.37 338.51 169.70C338.97 170.02 339.42 170.54 339.88 170.86C340.33 171.18 340.79 171.53 341.24 171.61C341.69 171.68 342.15 171.52 342.60 171.33C343.06 171.14 343.51 170.72 343.97 170.48C344.42 170.23 344.88 170.00 345.33 169.87C345.79 169.75 346.24 169.75 346.70 169.73C347.15 169.71 347.60 169.76 348.06 169.75C348.51 169.74 348.97 169.72 349.42 169.65C349.88 169.57 350.33 169.45 350.79 169.29C351.24 169.13 351.70 168.92 352.15 168.68C352.60 168.45 353.06 168.16 353.51 167.88C353.97 167.60 354.42 167.28 354.88 166.99C355.33 166.70 355.79 166.40 356.24 166.15C356.70 165.90 357.15 165.66 357.61 165.47C358.06 165.27 358.51 165.12 358.97 165.00C359.42 164.87 359.88 164.79 360.33 164.69C360.79 164.59 361.24 164.53 361.70 164.39C362.15 164.24 362.61 164.10 363.06 163.82C363.52 163.54 363.97 163.19 364.42 162.70C364.88 162.20 365.33 161.57 365.79 160.84C366.24 160.11 366.70 159.21 367.15 158.34C367.61 157.47 368.06 156.45 368.52 155.61C368.97 154.76 369.43 153.89 369.88 153.28C370.33 152.66 370.79 152.14 371.24 151.93C371.70 151.73 372.15 151.80 372.61 152.03C373.06 152.25 373.52 152.83 373.97 153.29C374.43 153.76 374.88 153.97 375.33 154.81C375.79 155.65 376.24 156.67 376.70 158.31C377.15 159.95 377.61 162.55 378.06 164.64C378.52 166.72 378.97 169.20 379.43 170.81C379.88 172.43 380.34 173.61 380.79 174.33C381.24 175.05 381.70 175.18 382.15 175.12C382.61 175.05 383.06 174.49 383.52 173.96C383.97 173.43 384.43 172.59 384.88 171.94C385.34 171.29 385.79 170.61 386.25 170.09C386.70 169.56 387.15 169.17 387.61 168.81C388.06 168.45 388.52 168.24 388.97 167.93C389.43 167.61 389.88 167.38 390.34 166.93C390.79 166.49 391.25 166.06 391.70 165.23C392.15 164.40 392.61 163.55 393.06 161.94C393.52 160.33 393.97 158.57 394.43 155.56C394.88 152.56 395.34 149.00 395.79 143.91C396.25 138.82 396.70 132.43 397.16 125.04C397.61 117.64 398.06 108.24 398.52 99.54C398.97 90.85 399.43 80.37 399.88 72.87C400.34 65.37 400.79 57.82 401.25 54.54C401.70 51.26 402.16 50.51 402.61 53.19C403.07 55.87 403.52 62.72 403.97 70.62C404.43 78.52 404.88 90.17 405.34 100.60C405.79 111.03 406.25 123.29 406.70 133.19C407.16 143.09 407.61 152.78 408.07 160.00C408.52 167.22 408.98 172.82 409.43 176.53C409.88 180.25 410.34 181.68 410.79 182.30C411.25 182.91 411.70 181.45 412.16 180.21C412.61 178.97 413.07 176.56 413.52 174.85C413.98 173.14 414.43 171.25 414.88 169.95C415.34 168.65 415.79 167.68 416.25 167.04C416.70 166.40 417.16 166.18 417.61 166.11C418.07 166.04 418.52 166.33 418.98 166.63C419.43 166.93 419.89 167.49 420.34 167.91C420.79 168.34 421.25 168.88 421.70 169.20C422.16 169.53 422.61 169.78 423.07 169.85C423.52 169.93 423.98 169.83 424.43 169.64C424.89 169.45 425.34 169.10 425.80 168.71C426.25 168.31 426.70 167.86 427.16 167.27C427.61 166.68 428.07 166.13 428.52 165.14C428.98 164.15 429.43 163.22 429.89 161.33C430.34 159.43 430.80 157.31 431.25 153.78C431.71 150.25 432.16 145.78 432.61 140.14C433.07 134.51 433.52 127.09 433.98 119.97C434.43 112.84 434.89 103.87 435.34 97.40C435.80 90.93 436.25 84.07 436.71 81.16C437.16 78.26 437.62 77.40 438.07 79.97C438.52 82.55 438.98 88.94 439.43 96.61C439.89 104.27 440.34 115.73 440.80 125.96C441.25 136.20 441.71 148.61 442.16 158.03C442.62 167.45 443.07 176.64 443.52 182.48C443.98 188.33 444.43 191.72 444.89 193.11C445.34 194.51 445.80 192.65 446.25 190.85C446.71 189.05 447.16 185.09 447.62 182.32C448.07 179.55 448.53 176.38 448.98 174.21C449.43 172.04 449.89 170.49 450.34 169.31C450.80 168.13 451.25 167.61 451.71 167.13C452.16 166.65 452.62 166.54 453.07 166.40C453.53 166.27 453.98 166.30 454.44 166.32C454.89 166.34 455.34 166.44 455.80 166.53C456.25 166.63 456.71 166.77 457.16 166.89C457.62 167.01 458.07 167.16 458.53 167.28C458.98 167.41 459.44 167.53 459.89 167.63C460.35 167.73 460.80 167.81 461.25 167.88C461.71 167.94 462.16 167.98 462.62 168.02C463.07 168.05 463.53 168.06 463.98 168.07C464.44 168.08 464.89 168.08 465.35 168.09C465.80 168.10 466.25 168.11 466.71 168.14C467.16 168.17 467.62 168.21 468.07 168.27C468.53 168.34 468.98 168.42 469.44 168.52C469.89 168.61 470.35 168.73 470.80 168.86C471.26 168.98 471.71 169.12 472.16 169.25C472.62 169.38 473.07 169.52 473.53 169.62C473.98 169.72 474.44 169.82 474.89 169.86C475.35 169.91 475.80 169.94 476.26 169.88C476.71 169.82 477.17 169.75 477.62 169.52C478.07 169.28 478.53 169.03 478.98 168.45C479.44 167.87 479.89 167.23 480.35 166.04C480.80 164.85 481.26 163.38 481.71 161.31C482.17 159.23 482.62 156.51 483.08 153.60C483.53 150.69 483.98 146.89 484.44 143.85C484.89 140.80 485.35 137.25 485.80 135.34C486.26 133.43 486.71 132.02 487.17 132.40C487.62 132.79 488.08 134.71 488.53 137.67C488.98 140.62 489.44 145.50 489.89 150.15C490.35 154.79 490.80 160.90 491.26 165.54C491.71 170.18 492.17 175.04 492.62 177.98C493.08 180.91 493.53 182.61 493.99 183.17C494.44 183.74 494.89 182.47 495.35 181.37C495.80 180.27 496.26 178.06 496.71 176.58C497.17 175.10 497.62 173.57 498.08 172.51C498.53 171.44 498.99 170.78 499.44 170.20C499.90 169.62 500.35 169.35 500.80 169.03C501.26 168.71 501.71 168.51 502.17 168.30C502.62 168.09 503.08 167.91 503.53 167.76C503.99 167.61 504.44 167.49 504.90 167.41C505.35 167.34 505.80 167.30 506.26 167.31C506.71 167.31 507.17 167.37 507.62 167.45C508.08 167.54 508.53 167.68 508.99 167.82C509.44 167.96 509.90 168.14 510.35 168.30C510.81 168.47 511.26 168.65 511.71 168.80C512.17 168.94 512.62 169.09 513.08 169.18C513.53 169.28 513.99 169.35 514.44 169.37C514.90 169.38 515.35 169.36 515.81 169.30C516.26 169.23 516.72 169.11 517.17 168.97C517.62 168.84 518.08 168.65 518.53 168.46C518.99 168.27 519.44 168.04 519.90 167.84C520.35 167.64 520.81 167.42 521.26 167.24C521.72 167.06 522.17 166.89 522.63 166.76C523.08 166.64 523.53 166.55 523.99 166.50C524.44 166.45 524.90 166.45 525.35 166.48C525.81 166.52 526.26 166.60 526.72 166.71C527.17 166.81 527.63 166.96 528.08 167.12C528.54 167.27 528.99 167.46 529.44 167.63C529.90 167.79 530.58 168.05 530.81 168.13" fill="none" stroke="#1cc80a" stroke-width="1.1"/>
<path d="M313.96 167.99C314.19 167.88 314.87 167.48 315.33 167.35C315.78 167.22 316.24 167.10 316.69 167.21C317.15 167.33 317.60 167.73 318.06 168.06C318.51 168.39 318.96 168.94 319.42 169.17C319.87 169.40 320.33 169.48 320.78 169.44C321.24 169.39 321.69 169.06 322.15 168.88C322.60 168.70 323.06 168.48 323.51 168.36C323.97 168.25 324.42 168.27 324.87 168.19C325.33 168.11 325.78 168.06 326.24 167.90C326.69 167.73 327.15 167.45 327.60 167.19C328.06 166.93 328.51 166.58 328.97 166.33C329.42 166.08 329.87 165.83 330.33 165.70C330.78 165.57 331.24 165.51 331.69 165.55C332.15 165.60 332.60 165.74 333.06 165.97C333.51 166.19 333.97 166.53 334.42 166.90C334.88 167.28 335.33 167.75 335.78 168.22C336.24 168.68 336.69 169.22 337.15 169.70C337.60 170.19 338.06 170.70 338.51 171.12C338.97 171.54 339.42 171.94 339.88 172.24C340.33 172.53 340.79 172.76 341.24 172.87C341.69 172.99 342.15 173.01 342.60 172.94C343.06 172.87 343.51 172.69 343.97 172.45C344.42 172.21 344.88 171.87 345.33 171.50C345.79 171.14 346.24 170.69 346.70 170.27C347.15 169.85 347.60 169.38 348.06 168.97C348.51 168.56 348.97 168.15 349.42 167.81C349.88 167.48 350.33 167.18 350.79 166.96C351.24 166.75 351.70 166.60 352.15 166.53C352.60 166.45 353.06 166.46 353.51 166.52C353.97 166.57 354.42 166.71 354.88 166.87C355.33 167.03 355.79 167.26 356.24 167.47C356.70 167.68 357.15 167.93 357.61 168.13C358.06 168.33 358.51 168.55 358.97 168.68C359.42 168.81 359.88 168.92 360.33 168.92C360.79 168.93 361.24 168.88 361.70 168.71C362.15 168.55 362.61 168.30 363.06 167.95C363.52 167.61 363.97 167.15 364.42 166.65C364.88 166.16 365.33 165.54 365.79 164.97C366.24 164.40 366.70 163.75 367.15 163.22C367.61 162.70 368.06 162.17 368.52 161.81C368.97 161.45 369.43 161.17 369.88 161.07C370.33 160.96 370.79 161.00 371.24 161.18C371.70 161.35 372.15 161.77 372.61 162.10C373.06 162.44 373.52 162.70 373.97 163.19C374.43 163.67 374.88 164.16 375.33 165.02C375.79 165.88 376.24 167.20 376.70 168.33C377.15 169.47 377.61 170.91 378.06 171.82C378.52 172.73 378.97 173.46 379.43 173.78C379.88 174.11 380.34 174.05 380.79 173.79C381.24 173.54 381.70 172.88 382.15 172.26C382.61 171.64 383.06 170.76 383.52 170.06C383.97 169.37 384.43 168.66 384.88 168.11C385.34 167.55 385.79 167.15 386.25 166.71C386.70 166.27 387.15 166.00 387.61 165.47C388.06 164.94 388.52 164.44 388.97 163.53C389.43 162.61 389.88 161.56 390.34 159.98C390.79 158.39 391.25 156.49 391.70 154.03C392.15 151.57 392.61 148.58 393.06 145.22C393.52 141.87 393.97 137.77 394.43 133.89C394.88 130.02 395.34 125.44 395.79 121.98C396.25 118.52 396.70 114.93 397.16 113.13C397.61 111.33 398.06 110.40 398.52 111.20C398.97 112.00 399.43 114.49 399.88 117.93C400.34 121.37 400.79 126.61 401.25 131.82C401.70 137.03 402.16 143.52 402.61 149.21C403.07 154.89 403.52 161.09 403.97 165.94C404.43 170.78 404.88 175.29 405.34 178.26C405.79 181.22 406.25 183.00 406.70 183.72C407.16 184.45 407.61 183.56 408.07 182.60C408.52 181.63 408.98 179.48 409.43 177.94C409.88 176.39 410.34 174.54 410.79 173.32C411.25 172.11 411.70 171.22 412.16 170.65C412.61 170.07 413.07 169.96 413.52 169.87C413.98 169.79 414.43 170.03 414.88 170.15C415.34 170.28 415.79 170.54 416.25 170.64C416.70 170.74 417.16 170.83 417.61 170.76C418.07 170.70 418.52 170.52 418.98 170.25C419.43 169.99 419.89 169.57 420.34 169.16C420.79 168.76 421.25 168.23 421.70 167.81C422.16 167.38 422.61 166.93 423.07 166.62C423.52 166.31 423.98 166.07 424.43 165.96C424.89 165.85 425.34 165.87 425.80 165.94C426.25 166.02 426.70 166.23 427.16 166.41C427.61 166.59 428.07 166.85 428.52 167.04C428.98 167.23 429.43 167.43 429.89 167.55C430.34 167.68 430.80 167.77 431.25 167.79C431.71 167.81 432.16 167.81 432.61 167.67C433.07 167.53 433.52 167.42 433.98 166.95C434.43 166.47 434.89 166.05 435.34 164.84C435.80 163.63 436.25 162.29 436.71 159.66C437.16 157.04 437.62 153.73 438.07 149.11C438.52 144.50 438.98 138.36 439.43 131.96C439.89 125.56 440.34 117.27 440.80 110.73C441.25 104.18 441.71 96.67 442.16 92.71C442.62 88.76 443.07 85.99 443.52 87.02C443.98 88.05 444.43 92.34 444.89 98.92C445.34 105.49 445.80 116.07 446.25 126.47C446.71 136.87 447.16 150.44 447.62 161.31C448.07 172.18 448.53 184.03 448.98 191.71C449.43 199.39 449.89 205.06 450.34 207.37C450.80 209.68 451.25 207.96 451.71 205.56C452.16 203.17 452.62 197.33 453.07 192.98C453.53 188.64 453.98 183.22 454.44 179.50C454.89 175.79 455.34 172.83 455.80 170.71C456.25 168.59 456.71 167.60 457.16 166.78C457.62 165.96 458.07 165.88 458.53 165.78C458.98 165.68 459.44 165.94 459.89 166.19C460.35 166.44 460.80 166.87 461.25 167.29C461.71 167.71 462.16 168.22 462.62 168.71C463.07 169.19 463.53 169.72 463.98 170.19C464.44 170.65 464.89 171.11 465.35 171.48C465.80 171.85 466.25 172.17 466.71 172.39C467.16 172.60 467.62 172.74 468.07 172.78C468.53 172.82 468.98 172.76 469.44 172.62C469.89 172.49 470.35 172.26 470.80 171.99C471.26 171.71 471.71 171.35 472.16 171.00C472.62 170.64 473.07 170.23 473.53 169.85C473.98 169.47 474.44 169.07 474.89 168.74C475.35 168.40 475.80 168.08 476.26 167.83C476.71 167.58 477.17 167.37 477.62 167.23C478.07 167.09 478.53 167.02 478.98 166.99C479.44 166.97 479.89 167.01 480.35 167.09C480.80 167.16 481.26 167.29 481.71 167.43C482.17 167.56 482.62 167.74 483.08 167.90C483.53 168.07 483.98 168.25 484.44 168.40C484.89 168.56 485.35 168.71 485.80 168.84C486.26 168.97 486.71 169.08 487.17 169.17C487.62 169.26 488.08 169.33 488.53 169.40C488.98 169.46 489.44 169.51 489.89 169.56C490.35 169.61 490.80 169.65 491.26 169.70C491.71 169.76 492.17 169.82 492.62 169.89C493.08 169.97 493.53 170.06 493.99 170.15C494.44 170.25 494.89 170.36 495.35 170.46C495.80 170.57 496.26 170.68 496.71 170.77C497.17 170.86 497.62 170.95 498.08 171.00C498.53 171.04 498.99 171.07 499.44 171.04C499.90 171.01 500.35 170.95 500.80 170.83C501.26 170.70 501.71 170.53 502.17 170.31C502.62 170.09 503.08 169.82 503.53 169.52C503.99 169.23 504.44 168.88 504.90 168.54C505.35 168.21 505.80 167.84 506.26 167.52C506.71 167.21 507.17 166.88 507.62 166.64C508.08 166.39 508.53 166.18 508.99 166.06C509.44 165.94 509.90 165.88 510.35 165.92C510.81 165.96 511.26 166.08 511.71 166.29C512.17 166.50 512.62 166.80 513.08 167.15C513.53 167.50 513.99 167.95 514.44 168.39C514.90 168.84 515.35 169.36 515.81 169.83C516.26 170.30 516.72 170.80 517.17 171.22C517.62 171.64 518.08 172.05 518.53 172.35C518.99 172.65 519.44 172.89 519.90 173.02C520.35 173.14 520.81 173.18 521.26 173.11C521.72 173.04 522.17 172.85 522.63 172.60C523.08 172.35 523.53 171.98 523.99 171.59C524.44 171.20 524.90 170.71 525.35 170.24C525.81 169.77 526.26 169.24 526.72 168.78C527.17 168.31 527.63 167.83 528.08 167.44C528.54 167.05 528.99 166.69 529.44 166.43C529.90 166.18 530.58 165.99 530.81 165.90" fill="none" stroke="#1cc80a" stroke-width="1.1"/>
<path d="M313.96 164.56C314.19 164.58 314.87 164.61 315.33 164.68C315.78 164.76 316.24 164.86 316.69 164.98C317.15 165.11 317.60 165.26 318.06 165.43C318.51 165.59 318.96 165.78 319.42 165.97C319.87 166.15 320.33 166.36 320.78 166.55C321.24 166.74 321.69 166.94 322.15 167.12C322.60 167.29 323.06 167.46 323.51 167.60C323.97 167.74 324.42 167.87 324.87 167.96C325.33 168.05 325.78 168.11 326.24 168.14C326.69 168.17 327.15 168.16 327.60 168.13C328.06 168.09 328.51 168.01 328.97 167.92C329.42 167.83 329.87 167.69 330.33 167.57C330.78 167.45 331.24 167.28 331.69 167.20C332.15 167.12 332.60 167.05 333.06 167.07C333.51 167.08 333.97 167.24 334.42 167.27C334.88 167.30 335.33 167.46 335.78 167.25C336.24 167.05 336.69 166.65 337.15 166.05C337.60 165.45 338.06 164.39 338.51 163.66C338.97 162.93 339.42 162.04 339.88 161.68C340.33 161.32 340.79 161.32 341.24 161.50C341.69 161.68 342.15 162.31 342.60 162.78C343.06 163.24 343.51 163.85 343.97 164.30C344.42 164.74 344.88 165.11 345.33 165.44C345.79 165.77 346.24 166.02 346.70 166.28C347.15 166.53 347.60 166.76 348.06 166.98C348.51 167.20 348.97 167.41 349.42 167.58C349.88 167.76 350.33 167.93 350.79 168.05C351.24 168.18 351.70 168.27 352.15 168.33C352.60 168.39 353.06 168.41 353.51 168.40C353.97 168.38 354.42 168.32 354.88 168.23C355.33 168.13 355.79 168.00 356.24 167.83C356.70 167.65 357.15 167.44 357.61 167.19C358.06 166.93 358.51 166.64 358.97 166.29C359.42 165.93 359.88 165.54 360.33 165.05C360.79 164.56 361.24 164.03 361.70 163.35C362.15 162.68 362.61 161.93 363.06 161.03C363.52 160.13 363.97 159.09 364.42 157.96C364.88 156.82 365.33 155.51 365.79 154.22C366.24 152.92 366.70 151.47 367.15 150.19C367.61 148.92 368.06 147.57 368.52 146.57C368.97 145.57 369.43 144.68 369.88 144.18C370.33 143.69 370.79 143.42 371.24 143.61C371.70 143.79 372.15 144.52 372.61 145.30C373.06 146.08 373.52 147.21 373.97 148.30C374.43 149.39 374.88 150.22 375.33 151.85C375.79 153.49 376.24 155.60 376.70 158.12C377.15 160.65 377.61 164.27 378.06 166.99C378.52 169.71 378.97 172.60 379.43 174.44C379.88 176.28 380.34 177.44 380.79 178.03C381.24 178.61 381.70 178.40 382.15 177.96C382.61 177.51 383.06 176.39 383.52 175.36C383.97 174.34 384.43 172.93 384.88 171.82C385.34 170.71 385.79 169.58 386.25 168.70C386.70 167.83 387.15 167.14 387.61 166.57C388.06 166.00 388.52 165.64 388.97 165.30C389.43 164.97 389.88 164.77 390.34 164.57C390.79 164.37 391.25 164.25 391.70 164.10C392.15 163.96 392.61 163.87 393.06 163.69C393.52 163.52 393.97 163.38 394.43 163.06C394.88 162.75 395.34 162.42 395.79 161.80C396.25 161.19 396.70 160.48 397.16 159.36C397.61 158.24 398.06 156.94 398.52 155.09C398.97 153.24 399.43 151.06 399.88 148.28C400.34 145.51 400.79 142.16 401.25 138.42C401.70 134.69 402.16 130.13 402.61 125.86C403.07 121.58 403.52 116.52 403.97 112.77C404.43 109.01 404.88 105.12 405.34 103.31C405.79 101.50 406.25 100.71 406.70 101.90C407.16 103.09 407.61 106.25 408.07 110.44C408.52 114.62 408.98 120.89 409.43 127.01C409.88 133.14 410.34 140.69 410.79 147.19C411.25 153.70 411.70 160.71 412.16 166.05C412.61 171.39 413.07 176.24 413.52 179.22C413.98 182.21 414.43 183.73 414.88 183.97C415.34 184.20 415.79 182.49 416.25 180.65C416.70 178.81 417.16 175.48 417.61 172.94C418.07 170.40 418.52 167.42 418.98 165.40C419.43 163.37 419.89 161.79 420.34 160.80C420.79 159.82 421.25 159.58 421.70 159.51C422.16 159.44 422.61 159.98 423.07 160.39C423.52 160.79 423.98 161.50 424.43 161.96C424.89 162.42 425.34 162.89 425.80 163.17C426.25 163.44 426.70 163.57 427.16 163.61C427.61 163.65 428.07 163.51 428.52 163.40C428.98 163.30 429.43 163.08 429.89 162.97C430.34 162.87 430.80 162.76 431.25 162.77C431.71 162.79 432.16 162.89 432.61 163.06C433.07 163.23 433.52 163.52 433.98 163.78C434.43 164.03 434.89 164.38 435.34 164.57C435.80 164.75 436.25 164.99 436.71 164.89C437.16 164.80 437.62 164.71 438.07 163.99C438.52 163.28 438.98 162.45 439.43 160.61C439.89 158.76 440.34 156.44 440.80 152.92C441.25 149.40 441.71 144.75 442.16 139.49C442.62 134.24 443.07 127.34 443.52 121.39C443.98 115.43 444.43 108.25 444.89 103.76C445.34 99.28 445.80 95.17 446.25 94.46C446.71 93.76 447.16 95.37 447.62 99.53C448.07 103.69 448.53 111.24 448.98 119.41C449.43 127.58 449.89 138.87 450.34 148.55C450.80 158.23 451.25 169.53 451.71 177.49C452.16 185.46 452.62 192.58 453.07 196.36C453.53 200.14 453.98 200.84 454.44 200.18C454.89 199.52 455.34 195.53 455.80 192.38C456.25 189.23 456.71 184.51 457.16 181.30C457.62 178.09 458.07 175.17 458.53 173.11C458.98 171.06 459.44 169.93 459.89 168.97C460.35 168.01 460.80 167.71 461.25 167.33C461.71 166.94 462.16 166.84 462.62 166.66C463.07 166.47 463.53 166.37 463.98 166.24C464.44 166.12 464.89 166.01 465.35 165.90C465.80 165.80 466.25 165.71 466.71 165.63C467.16 165.55 467.62 165.49 468.07 165.44C468.53 165.40 468.98 165.37 469.44 165.36C469.89 165.35 470.35 165.36 470.80 165.39C471.26 165.42 471.71 165.47 472.16 165.53C472.62 165.59 473.07 165.68 473.53 165.76C473.98 165.85 474.44 165.95 474.89 166.05C475.35 166.14 475.80 166.25 476.26 166.35C476.71 166.45 477.17 166.55 477.62 166.64C478.07 166.72 478.53 166.81 478.98 166.87C479.44 166.93 479.89 166.98 480.35 167.01C480.80 167.03 481.26 167.05 481.71 167.00C482.17 166.95 482.62 166.91 483.08 166.72C483.53 166.52 483.98 166.33 484.44 165.83C484.89 165.33 485.35 164.75 485.80 163.73C486.26 162.71 486.71 161.39 487.17 159.72C487.62 158.05 488.08 155.81 488.53 153.71C488.98 151.62 489.44 148.96 489.89 147.14C490.35 145.32 490.80 143.43 491.26 142.81C491.71 142.18 492.17 142.26 492.62 143.37C493.08 144.49 493.53 146.84 493.99 149.50C494.44 152.16 494.89 156.04 495.35 159.31C495.80 162.58 496.26 166.48 496.71 169.13C497.17 171.77 497.62 174.03 498.08 175.17C498.53 176.31 498.99 176.27 499.44 175.95C499.90 175.63 500.35 174.23 500.80 173.26C501.26 172.30 501.71 170.98 502.17 170.16C502.62 169.33 503.08 168.72 503.53 168.29C503.99 167.85 504.44 167.72 504.90 167.56C505.35 167.39 505.80 167.38 506.26 167.31C506.71 167.25 507.17 167.21 507.62 167.14C508.08 167.07 508.53 166.99 508.99 166.89C509.44 166.80 509.90 166.68 510.35 166.57C510.81 166.45 511.26 166.31 511.71 166.19C512.17 166.06 512.62 165.92 513.08 165.80C513.53 165.68 513.99 165.55 514.44 165.45C514.90 165.35 515.35 165.25 515.81 165.18C516.26 165.11 516.72 165.05 517.17 165.03C517.62 165.00 518.08 164.99 518.53 165.01C518.99 165.03 519.44 165.08 519.90 165.14C520.35 165.21 520.81 165.30 521.26 165.41C521.72 165.52 522.17 165.65 522.63 165.78C523.08 165.92 523.53 166.08 523.99 166.23C524.44 166.38 524.90 166.54 525.35 166.69C525.81 166.84 526.26 167.00 526.72 167.13C527.17 167.26 527.63 167.38 528.08 167.48C528.54 167.57 528.99 167.65 529.44 167.70C529.90 167.75 530.58 167.76 530.81 167.77" fill="none" stroke="#1cc80a" stroke-width="1.1"/>
<path d="M313.96 170.53C314.19 170.63 314.87 170.95 315.33 171.13C315.78 171.31 316.24 171.53 316.69 171.62C317.15 171.71 317.60 171.82 318.06 171.69C318.51 171.55 318.96 171.26 319.42 170.81C319.87 170.36 320.33 169.63 320.78 168.99C321.24 168.35 321.69 167.57 322.15 166.97C322.60 166.37 323.06 165.82 323.51 165.40C323.97 164.99 324.42 164.70 324.87 164.47C325.33 164.24 325.78 164.13 326.24 164.04C326.69 163.94 327.15 163.92 327.60 163.88C328.06 163.85 328.51 163.81 328.97 163.81C329.42 163.81 329.87 163.75 330.33 163.88C330.78 164.01 331.24 164.21 331.69 164.58C332.15 164.95 332.60 165.55 333.06 166.10C333.51 166.66 333.97 167.38 334.42 167.90C334.88 168.43 335.33 168.93 335.78 169.27C336.24 169.61 336.69 169.81 337.15 169.94C337.60 170.07 338.06 170.08 338.51 170.05C338.97 170.02 339.42 169.90 339.88 169.75C340.33 169.61 340.79 169.39 341.24 169.17C341.69 168.95 342.15 168.68 342.60 168.42C343.06 168.16 343.51 167.88 343.97 167.62C344.42 167.36 344.88 167.10 345.33 166.87C345.79 166.65 346.24 166.44 346.70 166.27C347.15 166.10 347.60 165.96 348.06 165.86C348.51 165.76 348.97 165.70 349.42 165.67C349.88 165.64 350.33 165.65 350.79 165.68C351.24 165.71 351.70 165.77 352.15 165.85C352.60 165.92 353.06 166.02 353.51 166.11C353.97 166.21 354.42 166.32 354.88 166.43C355.33 166.53 355.79 166.64 356.24 166.72C356.70 166.80 357.15 166.89 357.61 166.93C358.06 166.98 358.51 167.02 358.97 166.99C359.42 166.97 359.88 166.93 360.33 166.79C360.79 166.66 361.24 166.48 361.70 166.20C362.15 165.91 362.61 165.55 363.06 165.07C363.52 164.59 363.97 164.00 364.42 163.34C364.88 162.68 365.33 161.88 365.79 161.10C366.24 160.31 366.70 159.41 367.15 158.63C367.61 157.85 368.06 157.03 368.52 156.42C368.97 155.81 369.43 155.27 369.88 154.96C370.33 154.64 370.79 154.46 371.24 154.52C371.70 154.58 372.15 155.00 372.61 155.29C373.06 155.59 373.52 155.84 373.97 156.29C374.43 156.73 374.88 157.04 375.33 157.95C375.79 158.86 376.24 160.32 376.70 161.72C377.15 163.12 377.61 165.06 378.06 166.35C378.52 167.64 378.97 168.77 379.43 169.46C379.88 170.14 380.34 170.39 380.79 170.48C381.24 170.57 381.70 170.28 382.15 170.01C382.61 169.74 383.06 169.22 383.52 168.88C383.97 168.53 384.43 168.14 384.88 167.95C385.34 167.76 385.79 167.70 386.25 167.75C386.70 167.80 387.15 168.02 387.61 168.25C388.06 168.48 388.52 168.83 388.97 169.12C389.43 169.41 389.88 169.74 390.34 169.99C390.79 170.24 391.25 170.47 391.70 170.60C392.15 170.74 392.61 170.82 393.06 170.81C393.52 170.80 393.97 170.72 394.43 170.54C394.88 170.37 395.34 170.11 395.79 169.77C396.25 169.43 396.70 169.01 397.16 168.49C397.61 167.97 398.06 167.38 398.52 166.65C398.97 165.93 399.43 165.12 399.88 164.12C400.34 163.11 400.79 161.99 401.25 160.62C401.70 159.26 402.16 157.72 402.61 155.90C403.07 154.09 403.52 152.05 403.97 149.74C404.43 147.43 404.88 144.83 405.34 142.06C405.79 139.29 406.25 136.13 406.70 133.12C407.16 130.11 407.61 126.68 408.07 123.98C408.52 121.28 408.98 118.42 409.43 116.91C409.88 115.40 410.34 114.38 410.79 114.92C411.25 115.45 411.70 117.23 412.16 120.11C412.61 123.00 413.07 127.46 413.52 132.22C413.98 136.97 414.43 143.06 414.88 148.64C415.34 154.23 415.79 160.59 416.25 165.73C416.70 170.86 417.16 176.05 417.61 179.47C418.07 182.89 418.52 185.40 418.98 186.23C419.43 187.07 419.89 186.11 420.34 184.50C420.79 182.89 421.25 179.42 421.70 176.59C422.16 173.75 422.61 170.01 423.07 167.48C423.52 164.96 423.98 162.72 424.43 161.42C424.89 160.13 425.34 159.74 425.80 159.70C426.25 159.65 426.70 160.45 427.16 161.16C427.61 161.88 428.07 163.05 428.52 163.98C428.98 164.91 429.43 165.96 429.89 166.75C430.34 167.55 430.80 168.26 431.25 168.75C431.71 169.25 432.16 169.56 432.61 169.74C433.07 169.91 433.52 169.88 433.98 169.79C434.43 169.70 434.89 169.45 435.34 169.21C435.80 168.97 436.25 168.63 436.71 168.33C437.16 168.03 437.62 167.70 438.07 167.43C438.52 167.15 438.98 166.89 439.43 166.68C439.89 166.48 440.34 166.31 440.80 166.18C441.25 166.05 441.71 165.98 442.16 165.92C442.62 165.87 443.07 165.85 443.52 165.85C443.98 165.85 444.43 165.87 444.89 165.91C445.34 165.95 445.80 166.00 446.25 166.08C446.71 166.15 447.16 166.25 447.62 166.36C448.07 166.47 448.53 166.61 448.98 166.76C449.43 166.90 449.89 167.07 450.34 167.23C450.80 167.39 451.25 167.57 451.71 167.72C452.16 167.87 452.62 168.03 453.07 168.14C453.53 168.25 453.98 168.35 454.44 168.40C454.89 168.45 455.34 168.47 455.80 168.46C456.25 168.44 456.71 168.38 457.16 168.29C457.62 168.20 458.07 168.07 458.53 167.93C458.98 167.79 459.44 167.62 459.89 167.45C460.35 167.28 460.80 167.09 461.25 166.93C461.71 166.76 462.16 166.59 462.62 166.46C463.07 166.33 463.53 166.22 463.98 166.14C464.44 166.07 464.89 166.03 465.35 166.03C465.80 166.03 466.25 166.06 466.71 166.14C467.16 166.21 467.62 166.32 468.07 166.45C468.53 166.58 468.98 166.75 469.44 166.92C469.89 167.08 470.35 167.28 470.80 167.45C471.26 167.63 471.71 167.82 472.16 167.97C472.62 168.13 473.07 168.27 473.53 168.38C473.98 168.49 474.44 168.58 474.89 168.62C475.35 168.67 475.80 168.68 476.26 168.66C476.71 168.64 477.17 168.58 477.62 168.50C478.07 168.42 478.53 168.30 478.98 168.17C479.44 168.05 479.89 167.90 480.35 167.76C480.80 167.62 481.26 167.46 481.71 167.32C482.17 167.19 482.62 167.05 483.08 166.95C483.53 166.84 483.98 166.75 484.44 166.68C484.89 166.62 485.35 166.58 485.80 166.54C486.26 166.50 486.71 166.52 487.17 166.45C487.62 166.37 488.08 166.36 488.53 166.11C488.98 165.86 489.44 165.61 489.89 164.92C490.35 164.24 490.80 163.36 491.26 161.98C491.71 160.60 492.17 158.70 492.62 156.62C493.08 154.53 493.53 151.72 493.99 149.45C494.44 147.18 494.89 144.46 495.35 142.98C495.80 141.50 496.26 140.36 496.71 140.59C497.17 140.82 497.62 142.19 498.08 144.35C498.53 146.51 498.99 150.13 499.44 153.56C499.90 157.00 500.35 161.53 500.80 164.95C501.26 168.38 501.71 171.96 502.17 174.10C502.62 176.25 503.08 177.45 503.53 177.84C503.99 178.23 504.44 177.24 504.90 176.44C505.35 175.64 505.80 174.04 506.26 173.04C506.71 172.04 507.17 171.05 507.62 170.44C508.08 169.82 508.53 169.56 508.99 169.34C509.44 169.12 509.90 169.15 510.35 169.10C510.81 169.05 511.26 169.09 511.71 169.04C512.17 168.99 512.62 168.92 513.08 168.80C513.53 168.68 513.99 168.51 514.44 168.30C514.90 168.10 515.35 167.84 515.81 167.58C516.26 167.32 516.72 167.01 517.17 166.72C517.62 166.44 518.08 166.12 518.53 165.86C518.99 165.59 519.44 165.32 519.90 165.12C520.35 164.92 520.81 164.75 521.26 164.65C521.72 164.56 522.17 164.52 522.63 164.55C523.08 164.59 523.53 164.70 523.99 164.87C524.44 165.04 524.90 165.29 525.35 165.58C525.81 165.87 526.26 166.24 526.72 166.62C527.17 166.99 527.63 167.43 528.08 167.83C528.54 168.24 528.99 168.68 529.44 169.06C529.90 169.44 530.58 169.94 530.81 170.11" fill="none" stroke="#1cc80a" stroke-width="1.1"/>
<path d="M313.96 169.13C314.19 169.14 314.87 169.18 315.33 169.18C315.78 169.19 316.24 169.17 316.69 169.15C317.15 169.13 317.60 169.10 318.06 169.06C318.51 169.03 318.96 168.99 319.42 168.95C319.87 168.91 320.33 168.87 320.78 168.85C321.24 168.82 321.69 168.80 322.15 168.79C322.60 168.78 323.06 168.79 323.51 168.81C323.97 168.83 324.42 168.86 324.87 168.91C325.33 168.96 325.78 169.03 326.24 169.10C326.69 169.17 327.15 169.26 327.60 169.34C328.06 169.43 328.51 169.52 328.97 169.60C329.42 169.68 329.87 169.77 330.33 169.83C330.78 169.89 331.24 169.95 331.69 169.97C332.15 170.00 332.60 170.01 333.06 169.98C333.51 169.96 333.97 169.91 334.42 169.84C334.88 169.76 335.33 169.65 335.78 169.53C336.24 169.40 336.69 169.24 337.15 169.07C337.60 168.90 338.06 168.70 338.51 168.50C338.97 168.31 339.42 168.10 339.88 167.90C340.33 167.71 340.79 167.50 341.24 167.34C341.69 167.17 342.15 167.01 342.60 166.89C343.06 166.77 343.51 166.67 343.97 166.62C344.42 166.58 344.88 166.57 345.33 166.60C345.79 166.63 346.24 166.71 346.70 166.81C347.15 166.92 347.60 167.08 348.06 167.21C348.51 167.34 348.97 167.51 349.42 167.60C349.88 167.70 350.33 167.75 350.79 167.79C351.24 167.82 351.70 167.78 352.15 167.81C352.60 167.83 353.06 167.89 353.51 167.94C353.97 168.00 354.42 168.12 354.88 168.14C355.33 168.16 355.79 168.10 356.24 168.07C356.70 168.04 357.15 167.92 357.61 167.96C358.06 168.00 358.51 168.18 358.97 168.31C359.42 168.45 359.88 168.75 360.33 168.77C360.79 168.79 361.24 168.75 361.70 168.44C362.15 168.13 362.61 167.59 363.06 166.90C363.52 166.20 363.97 165.28 364.42 164.28C364.88 163.28 365.33 162.09 365.79 160.90C366.24 159.72 366.70 158.38 367.15 157.17C367.61 155.96 368.06 154.67 368.52 153.65C368.97 152.62 369.43 151.66 369.88 151.03C370.33 150.40 370.79 149.96 371.24 149.87C371.70 149.79 372.15 150.06 372.61 150.52C373.06 150.98 373.52 151.84 373.97 152.61C374.43 153.39 374.88 154.03 375.33 155.19C375.79 156.35 376.24 157.72 376.70 159.58C377.15 161.44 377.61 164.16 378.06 166.34C378.52 168.53 378.97 171.04 379.43 172.69C379.88 174.34 380.34 175.57 380.79 176.23C381.24 176.89 381.70 176.97 382.15 176.67C382.61 176.37 383.06 175.51 383.52 174.43C383.97 173.35 384.43 171.82 384.88 170.19C385.34 168.55 385.79 166.64 386.25 164.60C386.70 162.56 387.15 160.35 387.61 157.96C388.06 155.58 388.52 153.00 388.97 150.30C389.43 147.60 389.88 144.62 390.34 141.78C390.79 138.95 391.25 135.80 391.70 133.27C392.15 130.74 392.61 128.13 393.06 126.61C393.52 125.10 393.97 124.03 394.43 124.20C394.88 124.38 395.34 125.59 395.79 127.67C396.25 129.76 396.70 133.13 397.16 136.73C397.61 140.32 398.06 144.96 398.52 149.22C398.97 153.49 399.43 158.31 399.88 162.29C400.34 166.27 400.79 170.26 401.25 173.11C401.70 175.95 402.16 178.18 402.61 179.35C403.07 180.53 403.52 180.57 403.97 180.16C404.43 179.76 404.88 178.21 405.34 176.93C405.79 175.66 406.25 173.77 406.70 172.51C407.16 171.25 407.61 170.03 408.07 169.38C408.52 168.73 408.98 168.52 409.43 168.62C409.88 168.72 410.34 169.37 410.79 170.01C411.25 170.64 411.70 171.69 412.16 172.45C412.61 173.20 413.07 174.05 413.52 174.56C413.98 175.07 414.43 175.36 414.88 175.50C415.34 175.65 415.79 175.50 416.25 175.42C416.70 175.33 417.16 175.12 417.61 174.99C418.07 174.86 418.52 174.77 418.98 174.66C419.43 174.55 419.89 174.49 420.34 174.33C420.79 174.16 421.25 173.97 421.70 173.68C422.16 173.39 422.61 172.99 423.07 172.57C423.52 172.15 423.98 171.63 424.43 171.17C424.89 170.70 425.34 170.19 425.80 169.77C426.25 169.35 426.70 168.95 427.16 168.64C427.61 168.32 428.07 168.07 428.52 167.88C428.98 167.68 429.43 167.56 429.89 167.48C430.34 167.39 430.80 167.37 431.25 167.38C431.71 167.39 432.16 167.44 432.61 167.52C433.07 167.59 433.52 167.70 433.98 167.82C434.43 167.94 434.89 168.09 435.34 168.23C435.80 168.37 436.25 168.53 436.71 168.67C437.16 168.81 437.62 168.96 438.07 169.08C438.52 169.20 438.98 169.31 439.43 169.39C439.89 169.48 440.34 169.54 440.80 169.58C441.25 169.61 441.71 169.62 442.16 169.61C442.62 169.60 443.07 169.56 443.52 169.50C443.98 169.45 444.43 169.37 444.89 169.28C445.34 169.20 445.80 169.10 446.25 169.00C446.71 168.90 447.16 168.80 447.62 168.71C448.07 168.62 448.53 168.54 448.98 168.48C449.43 168.42 449.89 168.37 450.34 168.35C450.80 168.33 451.25 168.33 451.71 168.35C452.16 168.38 452.62 168.43 453.07 168.50C453.53 168.57 453.98 168.66 454.44 168.77C454.89 168.87 455.34 169.00 455.80 169.12C456.25 169.25 456.71 169.38 457.16 169.50C457.62 169.63 458.07 169.75 458.53 169.85C458.98 169.94 459.44 170.03 459.89 170.09C460.35 170.14 460.80 170.17 461.25 170.17C461.71 170.17 462.16 170.14 462.62 170.07C463.07 170.01 463.53 169.91 463.98 169.78C464.44 169.66 464.89 169.50 465.35 169.33C465.80 169.16 466.25 168.96 466.71 168.77C467.16 168.57 467.62 168.35 468.07 168.16C468.53 167.96 468.98 167.75 469.44 167.58C469.89 167.41 470.35 167.24 470.80 167.12C471.26 166.99 471.71 166.89 472.16 166.83C472.62 166.78 473.07 166.75 473.53 166.77C473.98 166.79 474.44 166.85 474.89 166.94C475.35 167.04 475.80 167.18 476.26 167.34C476.71 167.50 477.17 167.70 477.62 167.91C478.07 168.12 478.53 168.36 478.98 168.60C479.44 168.83 479.89 169.09 480.35 169.32C480.80 169.56 481.26 169.80 481.71 170.00C482.17 170.21 482.62 170.40 483.08 170.56C483.53 170.71 483.98 170.84 484.44 170.93C484.89 171.02 485.35 171.08 485.80 171.09C486.26 171.11 486.71 171.08 487.17 171.03C487.62 170.97 488.08 170.87 488.53 170.76C488.98 170.64 489.44 170.48 489.89 170.32C490.35 170.15 490.80 169.96 491.26 169.76C491.71 169.57 492.17 169.36 492.62 169.16C493.08 168.96 493.53 168.75 493.99 168.57C494.44 168.38 494.89 168.20 495.35 168.04C495.80 167.89 496.26 167.74 496.71 167.63C497.17 167.51 497.62 167.41 498.08 167.34C498.53 167.26 498.99 167.21 499.44 167.19C499.90 167.16 500.35 167.15 500.80 167.17C501.26 167.18 501.71 167.21 502.17 167.26C502.62 167.31 503.08 167.37 503.53 167.45C503.99 167.52 504.44 167.61 504.90 167.70C505.35 167.79 505.80 167.89 506.26 168.00C506.71 168.10 507.17 168.21 507.62 168.32C508.08 168.44 508.53 168.55 508.99 168.67C509.44 168.79 509.90 168.90 510.35 169.02C510.81 169.14 511.26 169.26 511.71 169.38C512.17 169.49 512.62 169.61 513.08 169.72C513.53 169.84 513.99 169.95 514.44 170.05C514.90 170.15 515.35 170.24 515.81 170.33C516.26 170.41 516.72 170.48 517.17 170.54C517.62 170.59 518.08 170.63 518.53 170.65C518.99 170.67 519.44 170.67 519.90 170.64C520.35 170.62 520.81 170.57 521.26 170.49C521.72 170.41 522.17 170.31 522.63 170.18C523.08 170.06 523.53 169.90 523.99 169.73C524.44 169.56 524.90 169.36 525.35 169.16C525.81 168.96 526.26 168.73 526.72 168.51C527.17 168.29 527.63 168.06 528.08 167.85C528.54 167.64 528.99 167.42 529.44 167.23C529.90 167.05 530.58 166.82 530.81 166.74" fill="none" stroke="#1cc80a" stroke-width="1.1"/>
<path d="M313.96 165.64C314.19 165.58 314.87 165.36 315.33 165.27C315.78 165.18 316.24 165.11 316.69 165.12C317.15 165.13 317.60 165.24 318.06 165.32C318.51 165.40 318.96 165.49 319.42 165.60C319.87 165.70 320.33 165.81 320.78 165.93C321.24 166.05 321.69 166.19 322.15 166.32C322.60 166.44 323.06 166.56 323.51 166.68C323.97 166.81 324.42 166.95 324.87 167.07C325.33 167.19 325.78 167.37 326.24 167.41C326.69 167.45 327.15 167.44 327.60 167.30C328.06 167.16 328.51 166.86 328.97 166.57C329.42 166.28 329.87 165.87 330.33 165.55C330.78 165.23 331.24 164.88 331.69 164.65C332.15 164.41 332.60 164.11 333.06 164.13C333.51 164.15 333.97 164.52 334.42 164.77C334.88 165.03 335.33 165.38 335.78 165.65C336.24 165.92 336.69 166.22 337.15 166.39C337.60 166.56 338.06 166.62 338.51 166.67C338.97 166.73 339.42 166.73 339.88 166.74C340.33 166.75 340.79 166.73 341.24 166.73C341.69 166.73 342.15 166.73 342.60 166.72C343.06 166.72 343.51 166.70 343.97 166.69C344.42 166.67 344.88 166.65 345.33 166.63C345.79 166.61 346.24 166.58 346.70 166.55C347.15 166.53 347.60 166.50 348.06 166.47C348.51 166.44 348.97 166.41 349.42 166.37C349.88 166.33 350.33 166.30 350.79 166.24C351.24 166.18 351.70 166.12 352.15 166.01C352.60 165.91 353.06 165.78 353.51 165.61C353.97 165.45 354.42 165.28 354.88 165.03C355.33 164.79 355.79 164.43 356.24 164.16C356.70 163.89 357.15 163.66 357.61 163.42C358.06 163.17 358.51 163.10 358.97 162.70C359.42 162.30 359.88 161.83 360.33 161.04C360.79 160.24 361.24 159.28 361.70 157.92C362.15 156.57 362.61 154.31 363.06 152.93C363.52 151.55 363.97 150.31 364.42 149.65C364.88 148.99 365.33 149.07 365.79 148.97C366.24 148.87 366.70 148.97 367.15 149.05C367.61 149.12 368.06 149.26 368.52 149.43C368.97 149.60 369.43 149.83 369.88 150.06C370.33 150.29 370.79 150.52 371.24 150.82C371.70 151.12 372.15 151.44 372.61 151.85C373.06 152.26 373.52 152.64 373.97 153.27C374.43 153.91 374.88 154.55 375.33 155.65C375.79 156.75 376.24 158.39 376.70 159.88C377.15 161.37 377.61 163.40 378.06 164.60C378.52 165.79 378.97 166.86 379.43 167.06C379.88 167.26 380.34 166.41 380.79 165.80C381.24 165.19 381.70 164.27 382.15 163.37C382.61 162.48 383.06 161.48 383.52 160.45C383.97 159.41 384.43 158.26 384.88 157.15C385.34 156.04 385.79 154.99 386.25 153.78C386.70 152.57 387.15 151.22 387.61 149.91C388.06 148.59 388.52 147.12 388.97 145.88C389.43 144.64 389.88 143.26 390.34 142.48C390.79 141.70 391.25 141.66 391.70 141.19C392.15 140.72 392.61 141.42 393.06 139.67C393.52 137.92 393.97 135.66 394.43 130.71C394.88 125.77 395.34 117.05 395.79 110.00C396.25 102.95 396.70 95.67 397.16 88.42C397.61 81.17 398.06 71.92 398.52 66.49C398.97 61.05 399.43 56.86 399.88 55.80C400.34 54.73 400.79 56.03 401.25 60.08C401.70 64.14 402.16 68.75 402.61 80.11C403.07 91.46 403.52 116.18 403.97 128.21C404.43 140.24 404.88 144.80 405.34 152.27C405.79 159.75 406.25 167.64 406.70 173.07C407.16 178.50 407.61 183.45 408.07 184.87C408.52 186.28 408.98 183.60 409.43 181.56C409.88 179.52 410.34 174.99 410.79 172.63C411.25 170.27 411.70 168.42 412.16 167.38C412.61 166.35 413.07 166.29 413.52 166.44C413.98 166.59 414.43 167.26 414.88 168.26C415.34 169.27 415.79 171.01 416.25 172.45C416.70 173.90 417.16 175.70 417.61 176.93C418.07 178.16 418.52 179.16 418.98 179.81C419.43 180.46 419.89 180.63 420.34 180.83C420.79 181.02 421.25 181.02 421.70 180.98C422.16 180.94 422.61 180.64 423.07 180.61C423.52 180.59 423.98 180.63 424.43 180.83C424.89 181.03 425.34 181.59 425.80 181.82C426.25 182.04 426.70 182.33 427.16 182.17C427.61 182.01 428.07 181.45 428.52 180.88C428.98 180.31 429.43 179.65 429.89 178.75C430.34 177.86 430.80 177.33 431.25 175.51C431.71 173.68 432.16 172.80 432.61 167.80C433.07 162.80 433.52 153.29 433.98 145.50C434.43 137.70 434.89 129.71 435.34 121.02C435.80 112.33 436.25 101.40 436.71 93.35C437.16 85.30 437.62 74.29 438.07 72.74C438.52 71.20 438.98 79.07 439.43 84.07C439.89 89.08 440.34 94.69 440.80 102.75C441.25 110.82 441.71 120.84 442.16 132.45C442.62 144.06 443.07 161.29 443.52 172.39C443.98 183.49 444.43 195.14 444.89 199.04C445.34 202.94 445.80 197.96 446.25 195.79C446.71 193.63 447.16 189.56 447.62 186.05C448.07 182.55 448.53 178.26 448.98 174.77C449.43 171.27 449.89 167.08 450.34 165.08C450.80 163.08 451.25 162.93 451.71 162.79C452.16 162.65 452.62 163.60 453.07 164.22C453.53 164.85 453.98 165.73 454.44 166.52C454.89 167.30 455.34 168.20 455.80 168.95C456.25 169.71 456.71 170.48 457.16 171.07C457.62 171.65 458.07 172.20 458.53 172.48C458.98 172.76 459.44 172.82 459.89 172.72C460.35 172.62 460.80 172.19 461.25 171.90C461.71 171.60 462.16 171.24 462.62 170.95C463.07 170.67 463.53 170.42 463.98 170.20C464.44 169.98 464.89 169.82 465.35 169.63C465.80 169.44 466.25 169.22 466.71 169.05C467.16 168.88 467.62 168.66 468.07 168.60C468.53 168.55 468.98 168.60 469.44 168.71C469.89 168.81 470.35 169.23 470.80 169.24C471.26 169.25 471.71 168.97 472.16 168.77C472.62 168.57 473.07 168.26 473.53 168.05C473.98 167.85 474.44 167.70 474.89 167.53C475.35 167.36 475.80 167.49 476.26 167.05C476.71 166.60 477.17 166.57 477.62 164.86C478.07 163.14 478.53 160.07 478.98 156.75C479.44 153.42 479.89 148.45 480.35 144.90C480.80 141.35 481.26 137.74 481.71 135.42C482.17 133.11 482.62 130.84 483.08 131.00C483.53 131.16 483.98 132.85 484.44 136.39C484.89 139.94 485.35 147.18 485.80 152.27C486.26 157.36 486.71 163.18 487.17 166.95C487.62 170.71 488.08 173.09 488.53 174.86C488.98 176.63 489.44 177.66 489.89 177.59C490.35 177.52 490.80 175.47 491.26 174.44C491.71 173.42 492.17 172.22 492.62 171.46C493.08 170.70 493.53 170.23 493.99 169.89C494.44 169.55 494.89 169.53 495.35 169.42C495.80 169.31 496.26 169.27 496.71 169.24C497.17 169.21 497.62 169.21 498.08 169.24C498.53 169.26 498.99 169.29 499.44 169.38C499.90 169.46 500.35 169.60 500.80 169.74C501.26 169.88 501.71 170.14 502.17 170.22C502.62 170.30 503.08 170.32 503.53 170.23C503.99 170.14 504.44 169.90 504.90 169.70C505.35 169.49 505.80 169.14 506.26 169.00C506.71 168.87 507.17 168.80 507.62 168.87C508.08 168.94 508.53 169.11 508.99 169.44C509.44 169.77 509.90 170.35 510.35 170.84C510.81 171.32 511.26 171.90 511.71 172.36C512.17 172.83 512.62 173.35 513.08 173.63C513.53 173.92 513.99 174.08 514.44 174.08C514.90 174.08 515.35 173.94 515.81 173.64C516.26 173.35 516.72 172.81 517.17 172.31C517.62 171.81 518.08 171.18 518.53 170.64C518.99 170.10 519.44 169.50 519.90 169.08C520.35 168.66 520.81 168.27 521.26 168.10C521.72 167.93 522.17 167.93 522.63 168.08C523.08 168.24 523.53 168.67 523.99 169.03C524.44 169.38 524.90 169.88 525.35 170.22C525.81 170.55 526.26 170.93 526.72 171.04C527.17 171.15 527.63 170.98 528.08 170.88C528.54 170.77 528.99 170.58 529.44 170.40C529.90 170.23 530.58 169.91 530.81 169.82" fill="none" stroke="#1cc80a" stroke-width="1.1"/>
<path d="M313.96 167.02C314.19 167.04 314.87 167.08 315.33 167.12C315.78 167.15 316.24 167.20 316.69 167.25C317.15 167.29 317.60 167.34 318.06 167.40C318.51 167.45 318.96 167.51 319.42 167.56C319.87 167.61 320.33 167.67 320.78 167.72C321.24 167.77 321.69 167.82 322.15 167.87C322.60 167.91 323.06 167.96 323.51 168.00C323.97 168.03 324.42 168.07 324.87 168.09C325.33 168.12 325.78 168.15 326.24 168.16C326.69 168.18 327.15 168.19 327.60 168.20C328.06 168.21 328.51 168.21 328.97 168.21C329.42 168.21 329.87 168.20 330.33 168.20C330.78 168.19 331.24 168.18 331.69 168.17C332.15 168.16 332.60 168.14 333.06 168.13C333.51 168.12 333.97 168.11 334.42 168.10C334.88 168.09 335.33 168.08 335.78 168.08C336.24 168.07 336.69 168.07 337.15 168.07C337.60 168.07 338.06 168.08 338.51 168.09C338.97 168.09 339.42 168.10 339.88 168.11C340.33 168.13 340.79 168.14 341.24 168.15C341.69 168.16 342.15 168.18 342.60 168.19C343.06 168.19 343.51 168.20 343.97 168.19C344.42 168.19 344.88 168.18 345.33 168.15C345.79 168.12 346.24 168.08 346.70 168.01C347.15 167.93 347.60 167.85 348.06 167.72C348.51 167.59 348.97 167.44 349.42 167.23C349.88 167.02 350.33 166.78 350.79 166.46C351.24 166.14 351.70 165.78 352.15 165.33C352.60 164.88 353.06 164.37 353.51 163.75C353.97 163.14 354.42 162.44 354.88 161.63C355.33 160.82 355.79 159.91 356.24 158.87C356.70 157.82 357.15 156.67 357.61 155.37C358.06 154.08 358.51 152.65 358.97 151.08C359.42 149.50 359.88 147.79 360.33 145.92C360.79 144.05 361.24 142.04 361.70 139.88C362.15 137.72 362.61 135.40 363.06 132.96C363.52 130.52 363.97 127.92 364.42 125.22C364.88 122.52 365.33 119.67 365.79 116.76C366.24 113.85 366.70 110.81 367.15 107.77C367.61 104.72 368.06 101.57 368.52 98.48C368.97 95.39 369.43 92.24 369.88 89.21C370.33 86.19 370.79 83.16 371.24 80.33C371.70 77.50 372.15 74.74 372.61 72.24C373.06 69.74 373.52 67.38 373.97 65.34C374.43 63.30 374.88 61.47 375.33 60.02C375.79 58.56 376.24 57.38 376.70 56.61C377.15 55.84 377.61 55.45 378.06 55.40C378.52 55.36 378.97 55.68 379.43 56.33C379.88 56.97 380.34 57.95 380.79 59.27C381.24 60.58 381.70 62.27 382.15 64.23C382.61 66.18 383.06 68.50 383.52 71.01C383.97 73.52 384.43 76.35 384.88 79.28C385.34 82.22 385.79 85.42 386.25 88.64C386.70 91.86 387.15 95.26 387.61 98.61C388.06 101.96 388.52 105.40 388.97 108.74C389.43 112.08 389.88 115.43 390.34 118.62C390.79 121.82 391.25 124.95 391.70 127.91C392.15 130.87 392.61 133.71 393.06 136.36C393.52 139.01 393.97 141.51 394.43 143.82C394.88 146.14 395.34 148.27 395.79 150.24C396.25 152.22 396.70 154.00 397.16 155.65C397.61 157.30 398.06 158.77 398.52 160.13C398.97 161.49 399.43 162.69 399.88 163.80C400.34 164.91 400.79 165.89 401.25 166.81C401.70 167.72 402.16 168.53 402.61 169.29C403.07 170.05 403.52 170.73 403.97 171.37C404.43 172.02 404.88 172.61 405.34 173.17C405.79 173.73 406.25 174.25 406.70 174.75C407.16 175.25 407.61 175.72 408.07 176.17C408.52 176.62 408.98 177.05 409.43 177.46C409.88 177.87 410.34 178.27 410.79 178.63C411.25 179.00 411.70 179.35 412.16 179.67C412.61 180.00 413.07 180.30 413.52 180.57C413.98 180.84 414.43 181.08 414.88 181.30C415.34 181.51 415.79 181.69 416.25 181.83C416.70 181.98 417.16 182.09 417.61 182.16C418.07 182.23 418.52 182.26 418.98 182.27C419.43 182.28 419.89 182.25 420.34 182.21C420.79 182.18 421.25 182.13 421.70 182.06C422.16 182.00 422.61 181.91 423.07 181.81C423.52 181.72 423.98 181.60 424.43 181.48C424.89 181.35 425.34 181.21 425.80 181.06C426.25 180.90 426.70 180.74 427.16 180.56C427.61 180.38 428.07 180.19 428.52 180.00C428.98 179.80 429.43 179.59 429.89 179.38C430.34 179.16 430.80 178.93 431.25 178.70C431.71 178.47 432.16 178.23 432.61 177.99C433.07 177.74 433.52 177.49 433.98 177.24C434.43 176.98 434.89 176.72 435.34 176.46C435.80 176.19 436.25 175.92 436.71 175.65C437.16 175.38 437.62 175.11 438.07 174.84C438.52 174.56 438.98 174.29 439.43 174.01C439.89 173.74 440.34 173.46 440.80 173.19C441.25 172.92 441.71 172.65 442.16 172.39C442.62 172.13 443.07 171.87 443.52 171.61C443.98 171.36 444.43 171.11 444.89 170.87C445.34 170.63 445.80 170.40 446.25 170.17C446.71 169.95 447.16 169.73 447.62 169.53C448.07 169.32 448.53 169.13 448.98 168.94C449.43 168.76 449.89 168.59 450.34 168.42C450.80 168.26 451.25 168.11 451.71 167.97C452.16 167.83 452.62 167.71 453.07 167.59C453.53 167.47 453.98 167.37 454.44 167.27C454.89 167.18 455.34 167.10 455.80 167.03C456.25 166.96 456.71 166.90 457.16 166.85C457.62 166.80 458.07 166.76 458.53 166.73C458.98 166.69 459.44 166.67 459.89 166.66C460.35 166.65 460.80 166.64 461.25 166.65C461.71 166.65 462.16 166.66 462.62 166.68C463.07 166.70 463.53 166.73 463.98 166.76C464.44 166.79 464.89 166.83 465.35 166.87C465.80 166.92 466.25 166.96 466.71 167.02C467.16 167.07 467.62 167.13 468.07 167.20C468.53 167.26 468.98 167.33 469.44 167.40C469.89 167.47 470.35 167.55 470.80 167.62C471.26 167.70 471.71 167.79 472.16 167.87C472.62 167.96 473.07 168.05 473.53 168.14C473.98 168.23 474.44 168.32 474.89 168.42C475.35 168.52 475.80 168.62 476.26 168.72C476.71 168.82 477.17 168.92 477.62 169.03C478.07 169.13 478.53 169.24 478.98 169.34C479.44 169.45 479.89 169.56 480.35 169.67C480.80 169.78 481.26 169.89 481.71 169.99C482.17 170.10 482.62 170.21 483.08 170.32C483.53 170.43 483.98 170.54 484.44 170.64C484.89 170.75 485.35 170.86 485.80 170.96C486.26 171.06 486.71 171.17 487.17 171.26C487.62 171.36 488.08 171.46 488.53 171.55C488.98 171.64 489.44 171.73 489.89 171.82C490.35 171.90 490.80 171.99 491.26 172.06C491.71 172.14 492.17 172.21 492.62 172.28C493.08 172.35 493.53 172.41 493.99 172.46C494.44 172.52 494.89 172.57 495.35 172.61C495.80 172.66 496.26 172.69 496.71 172.72C497.17 172.76 497.62 172.78 498.08 172.80C498.53 172.81 498.99 172.82 499.44 172.83C499.90 172.83 500.35 172.83 500.80 172.82C501.26 172.81 501.71 172.79 502.17 172.76C502.62 172.74 503.08 172.71 503.53 172.67C503.99 172.63 504.44 172.59 504.90 172.54C505.35 172.48 505.80 172.43 506.26 172.36C506.71 172.30 507.17 172.23 507.62 172.16C508.08 172.08 508.53 172.00 508.99 171.92C509.44 171.83 509.90 171.74 510.35 171.65C510.81 171.55 511.26 171.46 511.71 171.36C512.17 171.26 512.62 171.15 513.08 171.05C513.53 170.94 513.99 170.83 514.44 170.73C514.90 170.62 515.35 170.51 515.81 170.40C516.26 170.29 516.72 170.18 517.17 170.07C517.62 169.96 518.08 169.85 518.53 169.75C518.99 169.64 519.44 169.53 519.90 169.43C520.35 169.33 520.81 169.23 521.26 169.14C521.72 169.04 522.17 168.95 522.63 168.87C523.08 168.78 523.53 168.70 523.99 168.62C524.44 168.55 524.90 168.48 525.35 168.42C525.81 168.35 526.26 168.29 526.72 168.24C527.17 168.19 527.63 168.15 528.08 168.11C528.54 168.08 528.99 168.05 529.44 168.03C529.90 168.01 530.58 167.99 530.81 167.99" fill="none" stroke="#8a12d8" stroke-width="0.95"/>
<path d="M313.96 168.60C314.19 168.65 314.87 168.82 315.33 168.90C315.78 168.99 316.24 169.07 316.69 169.12C317.15 169.18 317.60 169.22 318.06 169.24C318.51 169.25 318.96 169.26 319.42 169.24C319.87 169.22 320.33 169.18 320.78 169.13C321.24 169.08 321.69 169.01 322.15 168.93C322.60 168.85 323.06 168.76 323.51 168.65C323.97 168.55 324.42 168.44 324.87 168.33C325.33 168.21 325.78 168.09 326.24 167.98C326.69 167.86 327.15 167.74 327.60 167.63C328.06 167.52 328.51 167.42 328.97 167.33C329.42 167.23 329.87 167.15 330.33 167.08C330.78 167.01 331.24 166.95 331.69 166.91C332.15 166.87 332.60 166.84 333.06 166.83C333.51 166.82 333.97 166.82 334.42 166.83C334.88 166.85 335.33 166.88 335.78 166.92C336.24 166.95 336.69 167.01 337.15 167.06C337.60 167.12 338.06 167.19 338.51 167.25C338.97 167.32 339.42 167.40 339.88 167.46C340.33 167.53 340.79 167.60 341.24 167.67C341.69 167.73 342.15 167.79 342.60 167.84C343.06 167.89 343.51 167.93 343.97 167.97C344.42 168.00 344.88 168.02 345.33 168.03C345.79 168.04 346.24 168.04 346.70 168.02C347.15 168.01 347.60 167.99 348.06 167.96C348.51 167.92 348.97 167.88 349.42 167.83C349.88 167.78 350.33 167.72 350.79 167.66C351.24 167.60 351.70 167.53 352.15 167.45C352.60 167.38 353.06 167.30 353.51 167.21C353.97 167.11 354.42 167.02 354.88 166.89C355.33 166.76 355.79 166.63 356.24 166.43C356.70 166.23 357.15 166.01 357.61 165.69C358.06 165.36 358.51 165.00 358.97 164.46C359.42 163.92 359.88 163.31 360.33 162.47C360.79 161.62 361.24 160.64 361.70 159.37C362.15 158.10 362.61 156.64 363.06 154.85C363.52 153.06 363.97 151.00 364.42 148.63C364.88 146.25 365.33 143.56 365.79 140.61C366.24 137.66 366.70 134.36 367.15 130.92C367.61 127.48 368.06 123.72 368.52 119.97C368.97 116.21 369.43 112.21 369.88 108.40C370.33 104.58 370.79 100.66 371.24 97.07C371.70 93.49 372.15 89.97 372.61 86.90C373.06 83.84 373.52 81.01 373.97 78.71C374.43 76.40 374.88 74.48 375.33 73.05C375.79 71.62 376.24 70.70 376.70 70.13C377.15 69.55 377.61 69.45 378.06 69.59C378.52 69.74 378.97 70.21 379.43 71.00C379.88 71.78 380.34 72.93 380.79 74.33C381.24 75.73 381.70 77.46 382.15 79.39C382.61 81.32 383.06 83.55 383.52 85.90C383.97 88.24 384.43 90.84 384.88 93.48C385.34 96.13 385.79 98.95 386.25 101.76C386.70 104.58 387.15 107.50 387.61 110.36C388.06 113.21 388.52 116.11 388.97 118.90C389.43 121.69 389.88 124.46 390.34 127.10C390.79 129.74 391.25 132.31 391.70 134.73C392.15 137.15 392.61 139.46 393.06 141.63C393.52 143.79 393.97 145.82 394.43 147.72C394.88 149.61 395.34 151.36 395.79 152.99C396.25 154.61 396.70 156.09 397.16 157.47C397.61 158.84 398.06 160.08 398.52 161.23C398.97 162.38 399.43 163.41 399.88 164.37C400.34 165.32 400.79 166.18 401.25 166.98C401.70 167.77 402.16 168.48 402.61 169.14C403.07 169.81 403.52 170.40 403.97 170.95C404.43 171.50 404.88 172.00 405.34 172.46C405.79 172.92 406.25 173.33 406.70 173.70C407.16 174.08 407.61 174.42 408.07 174.72C408.52 175.02 408.98 175.28 409.43 175.50C409.88 175.73 410.34 175.92 410.79 176.07C411.25 176.23 411.70 176.34 412.16 176.42C412.61 176.50 413.07 176.54 413.52 176.55C413.98 176.57 414.43 176.55 414.88 176.53C415.34 176.50 415.79 176.46 416.25 176.40C416.70 176.34 417.16 176.26 417.61 176.17C418.07 176.08 418.52 175.97 418.98 175.85C419.43 175.73 419.89 175.60 420.34 175.45C420.79 175.30 421.25 175.14 421.70 174.96C422.16 174.79 422.61 174.60 423.07 174.40C423.52 174.20 423.98 173.99 424.43 173.78C424.89 173.56 425.34 173.34 425.80 173.11C426.25 172.88 426.70 172.65 427.16 172.41C427.61 172.18 428.07 171.95 428.52 171.72C428.98 171.49 429.43 171.26 429.89 171.04C430.34 170.82 430.80 170.61 431.25 170.41C431.71 170.21 432.16 170.02 432.61 169.84C433.07 169.66 433.52 169.50 433.98 169.35C434.43 169.20 434.89 169.06 435.34 168.93C435.80 168.81 436.25 168.69 436.71 168.58C437.16 168.48 437.62 168.38 438.07 168.28C438.52 168.19 438.98 168.10 439.43 168.01C439.89 167.92 440.34 167.83 440.80 167.74C441.25 167.64 441.71 167.55 442.16 167.45C442.62 167.35 443.07 167.24 443.52 167.13C443.98 167.01 444.43 166.89 444.89 166.77C445.34 166.64 445.80 166.51 446.25 166.37C446.71 166.23 447.16 166.09 447.62 165.94C448.07 165.80 448.53 165.65 448.98 165.50C449.43 165.36 449.89 165.21 450.34 165.07C450.80 164.93 451.25 164.79 451.71 164.66C452.16 164.53 452.62 164.41 453.07 164.31C453.53 164.20 453.98 164.10 454.44 164.03C454.89 163.95 455.34 163.89 455.80 163.85C456.25 163.81 456.71 163.78 457.16 163.78C457.62 163.78 458.07 163.80 458.53 163.85C458.98 163.89 459.44 163.95 459.89 164.04C460.35 164.12 460.80 164.23 461.25 164.36C461.71 164.49 462.16 164.64 462.62 164.80C463.07 164.96 463.53 165.15 463.98 165.34C464.44 165.54 464.89 165.75 465.35 165.96C465.80 166.18 466.25 166.41 466.71 166.64C467.16 166.87 467.62 167.10 468.07 167.33C468.53 167.56 468.98 167.79 469.44 168.01C469.89 168.23 470.35 168.45 470.80 168.65C471.26 168.84 471.71 169.03 472.16 169.20C472.62 169.37 473.07 169.52 473.53 169.65C473.98 169.78 474.44 169.89 474.89 169.98C475.35 170.06 475.80 170.12 476.26 170.16C476.71 170.19 477.17 170.21 477.62 170.19C478.07 170.18 478.53 170.14 478.98 170.08C479.44 170.02 479.89 169.94 480.35 169.84C480.80 169.74 481.26 169.61 481.71 169.48C482.17 169.34 482.62 169.19 483.08 169.03C483.53 168.87 483.98 168.69 484.44 168.52C484.89 168.34 485.35 168.16 485.80 167.99C486.26 167.81 486.71 167.63 487.17 167.47C487.62 167.30 488.08 167.14 488.53 167.00C488.98 166.85 489.44 166.72 489.89 166.61C490.35 166.49 490.80 166.40 491.26 166.33C491.71 166.25 492.17 166.20 492.62 166.17C493.08 166.14 493.53 166.14 493.99 166.16C494.44 166.18 494.89 166.22 495.35 166.29C495.80 166.35 496.26 166.45 496.71 166.56C497.17 166.66 497.62 166.80 498.08 166.94C498.53 167.09 498.99 167.26 499.44 167.43C499.90 167.60 500.35 167.79 500.80 167.98C501.26 168.17 501.71 168.37 502.17 168.57C502.62 168.76 503.08 168.97 503.53 169.15C503.99 169.34 504.44 169.53 504.90 169.70C505.35 169.86 505.80 170.03 506.26 170.16C506.71 170.30 507.17 170.43 507.62 170.53C508.08 170.62 508.53 170.70 508.99 170.76C509.44 170.81 509.90 170.84 510.35 170.85C510.81 170.85 511.26 170.83 511.71 170.78C512.17 170.74 512.62 170.66 513.08 170.57C513.53 170.48 513.99 170.36 514.44 170.22C514.90 170.09 515.35 169.93 515.81 169.76C516.26 169.60 516.72 169.41 517.17 169.22C517.62 169.03 518.08 168.83 518.53 168.63C518.99 168.43 519.44 168.22 519.90 168.02C520.35 167.82 520.81 167.62 521.26 167.44C521.72 167.26 522.17 167.08 522.63 166.92C523.08 166.77 523.53 166.62 523.99 166.50C524.44 166.38 524.90 166.28 525.35 166.21C525.81 166.13 526.26 166.08 526.72 166.06C527.17 166.03 527.63 166.03 528.08 166.06C528.54 166.08 528.99 166.14 529.44 166.21C529.90 166.29 530.58 166.46 530.81 166.51" fill="none" stroke="#8a12d8" stroke-width="0.95"/>
<path d="M313.96 168.80C314.19 168.83 314.87 168.93 315.33 169.00C315.78 169.07 316.24 169.14 316.69 169.21C317.15 169.28 317.60 169.35 318.06 169.41C318.51 169.47 318.96 169.53 319.42 169.58C319.87 169.63 320.33 169.68 320.78 169.71C321.24 169.75 321.69 169.77 322.15 169.79C322.60 169.81 323.06 169.82 323.51 169.82C323.97 169.82 324.42 169.81 324.87 169.79C325.33 169.78 325.78 169.75 326.24 169.72C326.69 169.69 327.15 169.65 327.60 169.62C328.06 169.58 328.51 169.53 328.97 169.49C329.42 169.44 329.87 169.40 330.33 169.35C330.78 169.31 331.24 169.26 331.69 169.22C332.15 169.18 332.60 169.15 333.06 169.11C333.51 169.08 333.97 169.05 334.42 169.03C334.88 169.01 335.33 169.00 335.78 168.99C336.24 168.98 336.69 168.97 337.15 168.97C337.60 168.97 338.06 168.98 338.51 168.99C338.97 169.00 339.42 169.01 339.88 169.03C340.33 169.04 340.79 169.06 341.24 169.08C341.69 169.09 342.15 169.11 342.60 169.13C343.06 169.14 343.51 169.15 343.97 169.16C344.42 169.17 344.88 169.17 345.33 169.16C345.79 169.15 346.24 169.14 346.70 169.11C347.15 169.09 347.60 169.05 348.06 169.00C348.51 168.95 348.97 168.88 349.42 168.80C349.88 168.71 350.33 168.61 350.79 168.48C351.24 168.35 351.70 168.20 352.15 168.01C352.60 167.81 353.06 167.60 353.51 167.32C353.97 167.05 354.42 166.75 354.88 166.37C355.33 165.98 355.79 165.56 356.24 165.04C356.70 164.51 357.15 163.93 357.61 163.23C358.06 162.52 358.51 161.74 358.97 160.80C359.42 159.87 359.88 158.83 360.33 157.62C360.79 156.41 361.24 155.08 361.70 153.55C362.15 152.03 362.61 150.35 363.06 148.48C363.52 146.62 363.97 144.57 364.42 142.35C364.88 140.14 365.33 137.73 365.79 135.19C366.24 132.64 366.70 129.90 367.15 127.08C367.61 124.26 368.06 121.27 368.52 118.26C368.97 115.26 369.43 112.12 369.88 109.05C370.33 105.98 370.79 102.84 371.24 99.86C371.70 96.88 372.15 93.90 372.61 91.18C373.06 88.46 373.52 85.83 373.97 83.55C374.43 81.27 374.88 79.17 375.33 77.48C375.79 75.80 376.24 74.39 376.70 73.44C377.15 72.50 377.61 72.03 378.06 71.82C378.52 71.61 378.97 71.76 379.43 72.20C379.88 72.64 380.34 73.24 380.79 74.45C381.24 75.67 381.70 77.31 382.15 79.51C382.61 81.71 383.06 84.49 383.52 87.67C383.97 90.86 384.43 94.65 384.88 98.61C385.34 102.57 385.79 107.06 386.25 111.43C386.70 115.80 387.15 120.49 387.61 124.84C388.06 129.19 388.52 133.60 388.97 137.52C389.43 141.45 389.88 145.17 390.34 148.40C390.79 151.64 391.25 154.48 391.70 156.91C392.15 159.35 392.61 161.32 393.06 163.01C393.52 164.70 393.97 165.96 394.43 167.07C394.88 168.17 395.34 168.93 395.79 169.64C396.25 170.34 396.70 170.82 397.16 171.29C397.61 171.76 398.06 172.11 398.52 172.47C398.97 172.83 399.43 173.13 399.88 173.46C400.34 173.78 400.79 174.09 401.25 174.42C401.70 174.75 402.16 175.08 402.61 175.43C403.07 175.78 403.52 176.14 403.97 176.51C404.43 176.88 404.88 177.26 405.34 177.65C405.79 178.04 406.25 178.44 406.70 178.84C407.16 179.23 407.61 179.64 408.07 180.04C408.52 180.43 408.98 180.83 409.43 181.22C409.88 181.60 410.34 181.99 410.79 182.35C411.25 182.71 411.70 183.06 412.16 183.38C412.61 183.71 413.07 184.02 413.52 184.29C413.98 184.57 414.43 184.82 414.88 185.03C415.34 185.24 415.79 185.43 416.25 185.57C416.70 185.72 417.16 185.83 417.61 185.90C418.07 185.96 418.52 185.98 418.98 185.98C419.43 185.98 419.89 185.93 420.34 185.88C420.79 185.82 421.25 185.74 421.70 185.64C422.16 185.55 422.61 185.43 423.07 185.29C423.52 185.15 423.98 184.99 424.43 184.81C424.89 184.64 425.34 184.44 425.80 184.23C426.25 184.02 426.70 183.80 427.16 183.56C427.61 183.32 428.07 183.07 428.52 182.81C428.98 182.55 429.43 182.28 429.89 182.00C430.34 181.73 430.80 181.44 431.25 181.16C431.71 180.87 432.16 180.58 432.61 180.28C433.07 179.99 433.52 179.69 433.98 179.40C434.43 179.10 434.89 178.80 435.34 178.50C435.80 178.20 436.25 177.90 436.71 177.60C437.16 177.30 437.62 177.00 438.07 176.70C438.52 176.40 438.98 176.10 439.43 175.81C439.89 175.51 440.34 175.21 440.80 174.92C441.25 174.63 441.71 174.34 442.16 174.06C442.62 173.77 443.07 173.49 443.52 173.22C443.98 172.95 444.43 172.69 444.89 172.43C445.34 172.18 445.80 171.94 446.25 171.71C446.71 171.48 447.16 171.27 447.62 171.07C448.07 170.87 448.53 170.68 448.98 170.52C449.43 170.35 449.89 170.20 450.34 170.07C450.80 169.95 451.25 169.84 451.71 169.75C452.16 169.66 452.62 169.59 453.07 169.54C453.53 169.49 453.98 169.46 454.44 169.45C454.89 169.43 455.34 169.44 455.80 169.46C456.25 169.49 456.71 169.53 457.16 169.58C457.62 169.63 458.07 169.70 458.53 169.77C458.98 169.85 459.44 169.93 459.89 170.02C460.35 170.11 460.80 170.21 461.25 170.31C461.71 170.41 462.16 170.51 462.62 170.61C463.07 170.71 463.53 170.81 463.98 170.89C464.44 170.98 464.89 171.07 465.35 171.14C465.80 171.22 466.25 171.28 466.71 171.34C467.16 171.39 467.62 171.43 468.07 171.46C468.53 171.48 468.98 171.50 469.44 171.50C469.89 171.50 470.35 171.48 470.80 171.45C471.26 171.42 471.71 171.38 472.16 171.32C472.62 171.27 473.07 171.20 473.53 171.12C473.98 171.04 474.44 170.95 474.89 170.85C475.35 170.76 475.80 170.65 476.26 170.54C476.71 170.43 477.17 170.32 477.62 170.21C478.07 170.09 478.53 169.98 478.98 169.87C479.44 169.76 479.89 169.66 480.35 169.56C480.80 169.47 481.26 169.38 481.71 169.30C482.17 169.22 482.62 169.16 483.08 169.11C483.53 169.06 483.98 169.02 484.44 169.00C484.89 168.98 485.35 168.97 485.80 168.99C486.26 169.00 486.71 169.03 487.17 169.08C487.62 169.12 488.08 169.19 488.53 169.27C488.98 169.35 489.44 169.45 489.89 169.56C490.35 169.67 490.80 169.80 491.26 169.93C491.71 170.07 492.17 170.22 492.62 170.37C493.08 170.53 493.53 170.69 493.99 170.86C494.44 171.02 494.89 171.19 495.35 171.36C495.80 171.53 496.26 171.70 496.71 171.86C497.17 172.02 497.62 172.18 498.08 172.33C498.53 172.47 498.99 172.61 499.44 172.74C499.90 172.86 500.35 172.98 500.80 173.07C501.26 173.17 501.71 173.25 502.17 173.31C502.62 173.38 503.08 173.42 503.53 173.45C503.99 173.48 504.44 173.49 504.90 173.48C505.35 173.47 505.80 173.44 506.26 173.40C506.71 173.36 507.17 173.30 507.62 173.22C508.08 173.15 508.53 173.06 508.99 172.96C509.44 172.85 509.90 172.74 510.35 172.62C510.81 172.50 511.26 172.37 511.71 172.23C512.17 172.10 512.62 171.96 513.08 171.82C513.53 171.68 513.99 171.54 514.44 171.41C514.90 171.27 515.35 171.14 515.81 171.01C516.26 170.89 516.72 170.77 517.17 170.66C517.62 170.56 518.08 170.46 518.53 170.37C518.99 170.29 519.44 170.21 519.90 170.15C520.35 170.09 520.81 170.04 521.26 170.01C521.72 169.98 522.17 169.96 522.63 169.96C523.08 169.95 523.53 169.96 523.99 169.98C524.44 170.00 524.90 170.03 525.35 170.08C525.81 170.12 526.26 170.17 526.72 170.23C527.17 170.29 527.63 170.37 528.08 170.44C528.54 170.51 528.99 170.59 529.44 170.67C529.90 170.75 530.58 170.88 530.81 170.92" fill="none" stroke="#8a12d8" stroke-width="0.95"/>
<path d="M313.96 167.14C314.19 167.19 314.87 167.33 315.33 167.42C315.78 167.52 316.24 167.62 316.69 167.71C317.15 167.80 317.60 167.89 318.06 167.98C318.51 168.06 318.96 168.15 319.42 168.22C319.87 168.29 320.33 168.36 320.78 168.41C321.24 168.47 321.69 168.52 322.15 168.55C322.60 168.58 323.06 168.61 323.51 168.62C323.97 168.63 324.42 168.63 324.87 168.61C325.33 168.60 325.78 168.57 326.24 168.53C326.69 168.50 327.15 168.45 327.60 168.39C328.06 168.33 328.51 168.26 328.97 168.18C329.42 168.10 329.87 168.02 330.33 167.93C330.78 167.84 331.24 167.74 331.69 167.64C332.15 167.54 332.60 167.44 333.06 167.34C333.51 167.24 333.97 167.14 334.42 167.04C334.88 166.94 335.33 166.85 335.78 166.76C336.24 166.67 336.69 166.59 337.15 166.51C337.60 166.44 338.06 166.37 338.51 166.31C338.97 166.26 339.42 166.21 339.88 166.16C340.33 166.12 340.79 166.09 341.24 166.07C341.69 166.04 342.15 166.03 342.60 166.01C343.06 166.00 343.51 166.00 343.97 165.99C344.42 165.98 344.88 165.98 345.33 165.97C345.79 165.96 346.24 165.95 346.70 165.92C347.15 165.90 347.60 165.87 348.06 165.80C348.51 165.74 348.97 165.67 349.42 165.55C349.88 165.44 350.33 165.30 350.79 165.11C351.24 164.91 351.70 164.69 352.15 164.39C352.60 164.08 353.06 163.74 353.51 163.30C353.97 162.86 354.42 162.36 354.88 161.76C355.33 161.15 355.79 160.47 356.24 159.66C356.70 158.86 357.15 157.96 357.61 156.93C358.06 155.90 358.51 154.76 358.97 153.48C359.42 152.20 359.88 150.79 360.33 149.25C360.79 147.71 361.24 146.03 361.70 144.22C362.15 142.41 362.61 140.46 363.06 138.40C363.52 136.34 363.97 134.14 364.42 131.85C364.88 129.56 365.33 127.14 365.79 124.67C366.24 122.19 366.70 119.61 367.15 117.01C367.61 114.42 368.06 111.74 368.52 109.11C368.97 106.48 369.43 103.80 369.88 101.23C370.33 98.67 370.79 96.10 371.24 93.71C371.70 91.32 372.15 88.99 372.61 86.91C373.06 84.82 373.52 82.85 373.97 81.19C374.43 79.52 374.88 78.04 375.33 76.92C375.79 75.80 376.24 74.93 376.70 74.46C377.15 73.98 377.61 73.90 378.06 74.09C378.52 74.28 378.97 74.71 379.43 75.58C379.88 76.46 380.34 77.69 380.79 79.33C381.24 80.98 381.70 83.06 382.15 85.46C382.61 87.85 383.06 90.69 383.52 93.69C383.97 96.70 384.43 100.08 384.88 103.49C385.34 106.90 385.79 110.57 386.25 114.12C386.70 117.68 387.15 121.36 387.61 124.82C388.06 128.27 388.52 131.71 388.97 134.87C389.43 138.02 389.88 141.03 390.34 143.74C390.79 146.46 391.25 148.94 391.70 151.15C392.15 153.36 392.61 155.30 393.06 157.01C393.52 158.73 393.97 160.17 394.43 161.45C394.88 162.73 395.34 163.76 395.79 164.68C396.25 165.61 396.70 166.34 397.16 167.00C397.61 167.67 398.06 168.18 398.52 168.67C398.97 169.15 399.43 169.54 399.88 169.91C400.34 170.29 400.79 170.60 401.25 170.90C401.70 171.20 402.16 171.47 402.61 171.73C403.07 171.99 403.52 172.23 403.97 172.47C404.43 172.70 404.88 172.92 405.34 173.12C405.79 173.32 406.25 173.52 406.70 173.69C407.16 173.86 407.61 174.02 408.07 174.16C408.52 174.30 408.98 174.41 409.43 174.51C409.88 174.60 410.34 174.67 410.79 174.71C411.25 174.75 411.70 174.76 412.16 174.76C412.61 174.75 413.07 174.72 413.52 174.69C413.98 174.65 414.43 174.60 414.88 174.54C415.34 174.48 415.79 174.40 416.25 174.31C416.70 174.22 417.16 174.12 417.61 174.01C418.07 173.89 418.52 173.77 418.98 173.63C419.43 173.49 419.89 173.34 420.34 173.18C420.79 173.02 421.25 172.84 421.70 172.66C422.16 172.48 422.61 172.29 423.07 172.10C423.52 171.90 423.98 171.70 424.43 171.49C424.89 171.28 425.34 171.07 425.80 170.86C426.25 170.65 426.70 170.44 427.16 170.23C427.61 170.02 428.07 169.81 428.52 169.61C428.98 169.41 429.43 169.21 429.89 169.03C430.34 168.84 430.80 168.66 431.25 168.49C431.71 168.32 432.16 168.16 432.61 168.01C433.07 167.85 433.52 167.71 433.98 167.57C434.43 167.44 434.89 167.31 435.34 167.18C435.80 167.06 436.25 166.94 436.71 166.82C437.16 166.71 437.62 166.59 438.07 166.48C438.52 166.37 438.98 166.25 439.43 166.14C439.89 166.02 440.34 165.91 440.80 165.79C441.25 165.68 441.71 165.56 442.16 165.44C442.62 165.32 443.07 165.20 443.52 165.08C443.98 164.96 444.43 164.84 444.89 164.73C445.34 164.61 445.80 164.50 446.25 164.40C446.71 164.29 447.16 164.19 447.62 164.10C448.07 164.02 448.53 163.93 448.98 163.87C449.43 163.80 449.89 163.74 450.34 163.70C450.80 163.66 451.25 163.63 451.71 163.62C452.16 163.61 452.62 163.62 453.07 163.64C453.53 163.66 453.98 163.70 454.44 163.76C454.89 163.81 455.34 163.89 455.80 163.98C456.25 164.07 456.71 164.17 457.16 164.29C457.62 164.41 458.07 164.55 458.53 164.70C458.98 164.85 459.44 165.01 459.89 165.18C460.35 165.34 460.80 165.52 461.25 165.71C461.71 165.89 462.16 166.08 462.62 166.27C463.07 166.46 463.53 166.65 463.98 166.84C464.44 167.02 464.89 167.21 465.35 167.39C465.80 167.57 466.25 167.74 466.71 167.90C467.16 168.06 467.62 168.21 468.07 168.34C468.53 168.48 468.98 168.60 469.44 168.70C469.89 168.81 470.35 168.89 470.80 168.96C471.26 169.03 471.71 169.08 472.16 169.11C472.62 169.14 473.07 169.15 473.53 169.15C473.98 169.14 474.44 169.11 474.89 169.06C475.35 169.02 475.80 168.95 476.26 168.87C476.71 168.79 477.17 168.69 477.62 168.58C478.07 168.47 478.53 168.35 478.98 168.21C479.44 168.08 479.89 167.94 480.35 167.79C480.80 167.64 481.26 167.49 481.71 167.33C482.17 167.18 482.62 167.02 483.08 166.87C483.53 166.72 483.98 166.57 484.44 166.43C484.89 166.29 485.35 166.15 485.80 166.03C486.26 165.91 486.71 165.80 487.17 165.71C487.62 165.62 488.08 165.54 488.53 165.49C488.98 165.43 489.44 165.39 489.89 165.37C490.35 165.35 490.80 165.35 491.26 165.37C491.71 165.39 492.17 165.43 492.62 165.49C493.08 165.56 493.53 165.64 493.99 165.74C494.44 165.84 494.89 165.96 495.35 166.10C495.80 166.23 496.26 166.39 496.71 166.55C497.17 166.71 497.62 166.89 498.08 167.08C498.53 167.26 498.99 167.46 499.44 167.66C499.90 167.85 500.35 168.06 500.80 168.26C501.26 168.46 501.71 168.66 502.17 168.86C502.62 169.05 503.08 169.25 503.53 169.42C503.99 169.60 504.44 169.77 504.90 169.93C505.35 170.08 505.80 170.22 506.26 170.35C506.71 170.47 507.17 170.57 507.62 170.66C508.08 170.74 508.53 170.81 508.99 170.85C509.44 170.90 509.90 170.92 510.35 170.92C510.81 170.92 511.26 170.90 511.71 170.86C512.17 170.82 512.62 170.76 513.08 170.67C513.53 170.59 513.99 170.49 514.44 170.38C514.90 170.26 515.35 170.13 515.81 169.98C516.26 169.84 516.72 169.68 517.17 169.51C517.62 169.35 518.08 169.17 518.53 168.99C518.99 168.82 519.44 168.63 519.90 168.45C520.35 168.27 520.81 168.09 521.26 167.91C521.72 167.74 522.17 167.57 522.63 167.41C523.08 167.25 523.53 167.09 523.99 166.96C524.44 166.82 524.90 166.69 525.35 166.58C525.81 166.47 526.26 166.38 526.72 166.30C527.17 166.22 527.63 166.16 528.08 166.12C528.54 166.08 528.99 166.05 529.44 166.05C529.90 166.04 530.58 166.08 530.81 166.08" fill="none" stroke="#8a12d8" stroke-width="0.95"/>
<path d="M313.96 168.58C314.19 168.58 314.87 168.60 315.33 168.60C315.78 168.61 316.24 168.60 316.69 168.59C317.15 168.59 317.60 168.57 318.06 168.55C318.51 168.53 318.96 168.51 319.42 168.48C319.87 168.45 320.33 168.41 320.78 168.38C321.24 168.34 321.69 168.30 322.15 168.26C322.60 168.23 323.06 168.19 323.51 168.15C323.97 168.11 324.42 168.08 324.87 168.05C325.33 168.02 325.78 168.00 326.24 167.98C326.69 167.96 327.15 167.95 327.60 167.95C328.06 167.94 328.51 167.95 328.97 167.96C329.42 167.98 329.87 168.00 330.33 168.03C330.78 168.07 331.24 168.11 331.69 168.16C332.15 168.20 332.60 168.26 333.06 168.32C333.51 168.38 333.97 168.45 334.42 168.52C334.88 168.58 335.33 168.66 335.78 168.73C336.24 168.80 336.69 168.87 337.15 168.94C337.60 169.01 338.06 169.07 338.51 169.13C338.97 169.19 339.42 169.24 339.88 169.28C340.33 169.32 340.79 169.35 341.24 169.37C341.69 169.39 342.15 169.41 342.60 169.40C343.06 169.40 343.51 169.39 343.97 169.36C344.42 169.34 344.88 169.30 345.33 169.25C345.79 169.20 346.24 169.14 346.70 169.07C347.15 169.01 347.60 168.93 348.06 168.85C348.51 168.77 348.97 168.69 349.42 168.60C349.88 168.51 350.33 168.42 350.79 168.34C351.24 168.26 351.70 168.17 352.15 168.09C352.60 168.02 353.06 167.94 353.51 167.87C353.97 167.80 354.42 167.74 354.88 167.67C355.33 167.61 355.79 167.55 356.24 167.46C356.70 167.37 357.15 167.29 357.61 167.14C358.06 166.99 358.51 166.84 358.97 166.56C359.42 166.28 359.88 165.97 360.33 165.46C360.79 164.95 361.24 164.37 361.70 163.52C362.15 162.66 362.61 161.66 363.06 160.33C363.52 159.00 363.97 157.44 364.42 155.52C364.88 153.60 365.33 151.37 365.79 148.81C366.24 146.24 366.70 143.31 367.15 140.14C367.61 136.97 368.06 133.42 368.52 129.78C368.97 126.15 369.43 122.18 369.88 118.33C370.33 114.49 370.79 110.43 371.24 106.70C371.70 102.96 372.15 99.20 372.61 95.92C373.06 92.63 373.52 89.53 373.97 86.99C374.43 84.44 374.88 82.28 375.33 80.64C375.79 79.00 376.24 77.89 376.70 77.16C377.15 76.43 377.61 76.23 378.06 76.26C378.52 76.29 378.97 76.67 379.43 77.32C379.88 77.98 380.34 78.97 380.79 80.17C381.24 81.37 381.70 82.86 382.15 84.51C382.61 86.15 383.06 88.05 383.52 90.04C383.97 92.04 384.43 94.24 384.88 96.49C385.34 98.73 385.79 101.13 386.25 103.53C386.70 105.93 387.15 108.42 387.61 110.88C388.06 113.34 388.52 115.85 388.97 118.28C389.43 120.72 389.88 123.16 390.34 125.50C390.79 127.85 391.25 130.16 391.70 132.37C392.15 134.57 392.61 136.71 393.06 138.74C393.52 140.77 393.97 142.71 394.43 144.55C394.88 146.39 395.34 148.12 395.79 149.75C396.25 151.39 396.70 152.92 397.16 154.36C397.61 155.79 398.06 157.13 398.52 158.38C398.97 159.64 399.43 160.79 399.88 161.88C400.34 162.97 400.79 163.97 401.25 164.92C401.70 165.86 402.16 166.73 402.61 167.55C403.07 168.37 403.52 169.12 403.97 169.84C404.43 170.55 404.88 171.21 405.34 171.84C405.79 172.46 406.25 173.04 406.70 173.59C407.16 174.14 407.61 174.65 408.07 175.12C408.52 175.60 408.98 176.04 409.43 176.46C409.88 176.87 410.34 177.25 410.79 177.60C411.25 177.95 411.70 178.26 412.16 178.55C412.61 178.83 413.07 179.08 413.52 179.30C413.98 179.51 414.43 179.70 414.88 179.84C415.34 179.99 415.79 180.10 416.25 180.18C416.70 180.25 417.16 180.28 417.61 180.29C418.07 180.30 418.52 180.28 418.98 180.24C419.43 180.21 419.89 180.15 420.34 180.08C420.79 180.01 421.25 179.92 421.70 179.81C422.16 179.71 422.61 179.58 423.07 179.44C423.52 179.30 423.98 179.15 424.43 178.98C424.89 178.81 425.34 178.62 425.80 178.42C426.25 178.22 426.70 178.01 427.16 177.79C427.61 177.57 428.07 177.33 428.52 177.09C428.98 176.85 429.43 176.60 429.89 176.35C430.34 176.09 430.80 175.83 431.25 175.57C431.71 175.31 432.16 175.04 432.61 174.78C433.07 174.51 433.52 174.25 433.98 173.98C434.43 173.72 434.89 173.46 435.34 173.20C435.80 172.94 436.25 172.68 436.71 172.43C437.16 172.18 437.62 171.93 438.07 171.68C438.52 171.44 438.98 171.20 439.43 170.96C439.89 170.73 440.34 170.50 440.80 170.27C441.25 170.04 441.71 169.82 442.16 169.61C442.62 169.40 443.07 169.19 443.52 168.99C443.98 168.78 444.43 168.59 444.89 168.40C445.34 168.22 445.80 168.04 446.25 167.87C446.71 167.71 447.16 167.55 447.62 167.40C448.07 167.25 448.53 167.12 448.98 167.00C449.43 166.88 449.89 166.77 450.34 166.67C450.80 166.58 451.25 166.50 451.71 166.43C452.16 166.37 452.62 166.32 453.07 166.28C453.53 166.25 453.98 166.23 454.44 166.23C454.89 166.23 455.34 166.25 455.80 166.28C456.25 166.31 456.71 166.36 457.16 166.42C457.62 166.48 458.07 166.56 458.53 166.65C458.98 166.74 459.44 166.85 459.89 166.96C460.35 167.08 460.80 167.21 461.25 167.35C461.71 167.48 462.16 167.63 462.62 167.79C463.07 167.94 463.53 168.10 463.98 168.26C464.44 168.43 464.89 168.60 465.35 168.77C465.80 168.93 466.25 169.10 466.71 169.27C467.16 169.43 467.62 169.60 468.07 169.76C468.53 169.91 468.98 170.07 469.44 170.21C469.89 170.35 470.35 170.49 470.80 170.61C471.26 170.73 471.71 170.85 472.16 170.94C472.62 171.04 473.07 171.13 473.53 171.20C473.98 171.27 474.44 171.32 474.89 171.36C475.35 171.40 475.80 171.43 476.26 171.44C476.71 171.44 477.17 171.44 477.62 171.41C478.07 171.39 478.53 171.35 478.98 171.30C479.44 171.25 479.89 171.18 480.35 171.10C480.80 171.02 481.26 170.93 481.71 170.83C482.17 170.73 482.62 170.62 483.08 170.50C483.53 170.38 483.98 170.25 484.44 170.12C484.89 169.99 485.35 169.86 485.80 169.72C486.26 169.59 486.71 169.45 487.17 169.32C487.62 169.18 488.08 169.05 488.53 168.92C488.98 168.80 489.44 168.67 489.89 168.56C490.35 168.45 490.80 168.34 491.26 168.25C491.71 168.15 492.17 168.07 492.62 167.99C493.08 167.92 493.53 167.86 493.99 167.81C494.44 167.76 494.89 167.73 495.35 167.71C495.80 167.69 496.26 167.68 496.71 167.69C497.17 167.69 497.62 167.72 498.08 167.75C498.53 167.78 498.99 167.83 499.44 167.88C499.90 167.94 500.35 168.01 500.80 168.09C501.26 168.16 501.71 168.25 502.17 168.34C502.62 168.44 503.08 168.54 503.53 168.65C503.99 168.75 504.44 168.86 504.90 168.97C505.35 169.08 505.80 169.20 506.26 169.31C506.71 169.43 507.17 169.54 507.62 169.65C508.08 169.76 508.53 169.86 508.99 169.97C509.44 170.07 509.90 170.16 510.35 170.25C510.81 170.34 511.26 170.42 511.71 170.50C512.17 170.57 512.62 170.64 513.08 170.69C513.53 170.75 513.99 170.80 514.44 170.84C514.90 170.88 515.35 170.91 515.81 170.93C516.26 170.95 516.72 170.96 517.17 170.97C517.62 170.97 518.08 170.97 518.53 170.96C518.99 170.95 519.44 170.94 519.90 170.92C520.35 170.90 520.81 170.87 521.26 170.84C521.72 170.81 522.17 170.78 522.63 170.75C523.08 170.72 523.53 170.68 523.99 170.65C524.44 170.62 524.90 170.58 525.35 170.55C525.81 170.52 526.26 170.49 526.72 170.47C527.17 170.44 527.63 170.42 528.08 170.40C528.54 170.38 528.99 170.37 529.44 170.36C529.90 170.35 530.58 170.35 530.81 170.35" fill="none" stroke="#8a12d8" stroke-width="0.95"/>
<path d="M313.96 169.15C314.19 169.16 314.87 169.19 315.33 169.20C315.78 169.21 316.24 169.22 316.69 169.22C317.15 169.23 317.60 169.23 318.06 169.22C318.51 169.21 318.96 169.20 319.42 169.19C319.87 169.17 320.33 169.15 320.78 169.13C321.24 169.10 321.69 169.07 322.15 169.04C322.60 169.01 323.06 168.97 323.51 168.93C323.97 168.89 324.42 168.84 324.87 168.80C325.33 168.75 325.78 168.70 326.24 168.65C326.69 168.59 327.15 168.54 327.60 168.48C328.06 168.42 328.51 168.37 328.97 168.31C329.42 168.25 329.87 168.19 330.33 168.13C330.78 168.07 331.24 168.00 331.69 167.95C332.15 167.89 332.60 167.83 333.06 167.77C333.51 167.71 333.97 167.65 334.42 167.60C334.88 167.54 335.33 167.49 335.78 167.44C336.24 167.39 336.69 167.35 337.15 167.30C337.60 167.26 338.06 167.22 338.51 167.18C338.97 167.15 339.42 167.12 339.88 167.09C340.33 167.06 340.79 167.04 341.24 167.02C341.69 167.00 342.15 166.99 342.60 166.98C343.06 166.97 343.51 166.97 343.97 166.97C344.42 166.97 344.88 166.98 345.33 166.99C345.79 167.00 346.24 167.02 346.70 167.04C347.15 167.05 347.60 167.08 348.06 167.10C348.51 167.13 348.97 167.15 349.42 167.18C349.88 167.20 350.33 167.23 350.79 167.25C351.24 167.27 351.70 167.29 352.15 167.29C352.60 167.29 353.06 167.29 353.51 167.25C353.97 167.21 354.42 167.17 354.88 167.07C355.33 166.97 355.79 166.86 356.24 166.66C356.70 166.47 357.15 166.24 357.61 165.91C358.06 165.57 358.51 165.18 358.97 164.64C359.42 164.11 359.88 163.49 360.33 162.70C360.79 161.90 361.24 160.99 361.70 159.87C362.15 158.75 362.61 157.48 363.06 155.98C363.52 154.48 363.97 152.79 364.42 150.87C364.88 148.96 365.33 146.82 365.79 144.47C366.24 142.13 366.70 139.55 367.15 136.81C367.61 134.08 368.06 131.10 368.52 128.06C368.97 125.02 369.43 121.78 369.88 118.57C370.33 115.36 370.79 112.01 371.24 108.82C371.70 105.63 372.15 102.39 372.61 99.43C373.06 96.47 373.52 93.57 373.97 91.06C374.43 88.55 374.88 86.23 375.33 84.36C375.79 82.49 376.24 80.94 376.70 79.85C377.15 78.77 377.61 78.16 378.06 77.85C378.52 77.54 378.97 77.67 379.43 77.98C379.88 78.28 380.34 78.76 380.79 79.67C381.24 80.58 381.70 81.82 382.15 83.46C382.61 85.10 383.06 87.14 383.52 89.49C383.97 91.84 384.43 94.60 384.88 97.54C385.34 100.48 385.79 103.79 386.25 107.13C386.70 110.46 387.15 114.06 387.61 117.54C388.06 121.01 388.52 124.62 388.97 128.00C389.43 131.38 389.88 134.74 390.34 137.81C390.79 140.89 391.25 143.81 391.70 146.44C392.15 149.06 392.61 151.45 393.06 153.57C393.52 155.69 393.97 157.52 394.43 159.15C394.88 160.77 395.34 162.11 395.79 163.30C396.25 164.49 396.70 165.44 397.16 166.29C397.61 167.15 398.06 167.81 398.52 168.42C398.97 169.03 399.43 169.51 399.88 169.96C400.34 170.42 400.79 170.79 401.25 171.15C401.70 171.52 402.16 171.84 402.61 172.16C403.07 172.48 403.52 172.78 403.97 173.08C404.43 173.38 404.88 173.68 405.34 173.97C405.79 174.26 406.25 174.55 406.70 174.83C407.16 175.11 407.61 175.39 408.07 175.66C408.52 175.93 408.98 176.19 409.43 176.43C409.88 176.68 410.34 176.91 410.79 177.12C411.25 177.33 411.70 177.52 412.16 177.69C412.61 177.85 413.07 177.99 413.52 178.11C413.98 178.22 414.43 178.31 414.88 178.36C415.34 178.41 415.79 178.43 416.25 178.43C416.70 178.43 417.16 178.40 417.61 178.37C418.07 178.34 418.52 178.30 418.98 178.24C419.43 178.18 419.89 178.12 420.34 178.04C420.79 177.96 421.25 177.87 421.70 177.77C422.16 177.67 422.61 177.56 423.07 177.45C423.52 177.33 423.98 177.20 424.43 177.07C424.89 176.94 425.34 176.80 425.80 176.66C426.25 176.51 426.70 176.36 427.16 176.21C427.61 176.06 428.07 175.90 428.52 175.74C428.98 175.58 429.43 175.42 429.89 175.25C430.34 175.09 430.80 174.92 431.25 174.75C431.71 174.58 432.16 174.41 432.61 174.24C433.07 174.07 433.52 173.89 433.98 173.72C434.43 173.54 434.89 173.36 435.34 173.18C435.80 173.00 436.25 172.81 436.71 172.63C437.16 172.44 437.62 172.25 438.07 172.06C438.52 171.86 438.98 171.67 439.43 171.47C439.89 171.28 440.34 171.08 440.80 170.88C441.25 170.68 441.71 170.48 442.16 170.28C442.62 170.09 443.07 169.89 443.52 169.69C443.98 169.50 444.43 169.30 444.89 169.11C445.34 168.92 445.80 168.74 446.25 168.56C446.71 168.38 447.16 168.20 447.62 168.04C448.07 167.87 448.53 167.71 448.98 167.55C449.43 167.40 449.89 167.25 450.34 167.12C450.80 166.98 451.25 166.85 451.71 166.73C452.16 166.61 452.62 166.50 453.07 166.40C453.53 166.30 453.98 166.21 454.44 166.13C454.89 166.05 455.34 165.97 455.80 165.91C456.25 165.85 456.71 165.79 457.16 165.75C457.62 165.70 458.07 165.66 458.53 165.63C458.98 165.60 459.44 165.58 459.89 165.57C460.35 165.55 460.80 165.54 461.25 165.54C461.71 165.54 462.16 165.55 462.62 165.56C463.07 165.57 463.53 165.59 463.98 165.61C464.44 165.63 464.89 165.66 465.35 165.69C465.80 165.72 466.25 165.75 466.71 165.79C467.16 165.83 467.62 165.87 468.07 165.92C468.53 165.96 468.98 166.01 469.44 166.07C469.89 166.12 470.35 166.17 470.80 166.23C471.26 166.29 471.71 166.35 472.16 166.41C472.62 166.47 473.07 166.54 473.53 166.60C473.98 166.67 474.44 166.74 474.89 166.81C475.35 166.88 475.80 166.95 476.26 167.03C476.71 167.10 477.17 167.18 477.62 167.25C478.07 167.33 478.53 167.41 478.98 167.49C479.44 167.57 479.89 167.65 480.35 167.73C480.80 167.81 481.26 167.89 481.71 167.98C482.17 168.06 482.62 168.14 483.08 168.23C483.53 168.31 483.98 168.39 484.44 168.47C484.89 168.56 485.35 168.64 485.80 168.72C486.26 168.80 486.71 168.88 487.17 168.96C487.62 169.04 488.08 169.12 488.53 169.20C488.98 169.27 489.44 169.35 489.89 169.42C490.35 169.49 490.80 169.56 491.26 169.63C491.71 169.70 492.17 169.76 492.62 169.82C493.08 169.88 493.53 169.94 493.99 170.00C494.44 170.05 494.89 170.10 495.35 170.15C495.80 170.20 496.26 170.24 496.71 170.28C497.17 170.32 497.62 170.36 498.08 170.39C498.53 170.42 498.99 170.45 499.44 170.48C499.90 170.50 500.35 170.52 500.80 170.53C501.26 170.55 501.71 170.56 502.17 170.57C502.62 170.57 503.08 170.58 503.53 170.57C503.99 170.57 504.44 170.57 504.90 170.56C505.35 170.55 505.80 170.53 506.26 170.51C506.71 170.50 507.17 170.48 507.62 170.45C508.08 170.43 508.53 170.40 508.99 170.37C509.44 170.34 509.90 170.30 510.35 170.27C510.81 170.23 511.26 170.19 511.71 170.15C512.17 170.11 512.62 170.07 513.08 170.02C513.53 169.98 513.99 169.93 514.44 169.88C514.90 169.83 515.35 169.78 515.81 169.73C516.26 169.68 516.72 169.63 517.17 169.58C517.62 169.53 518.08 169.48 518.53 169.43C518.99 169.38 519.44 169.33 519.90 169.28C520.35 169.23 520.81 169.18 521.26 169.13C521.72 169.08 522.17 169.03 522.63 168.99C523.08 168.94 523.53 168.90 523.99 168.86C524.44 168.81 524.90 168.77 525.35 168.73C525.81 168.70 526.26 168.66 526.72 168.63C527.17 168.59 527.63 168.56 528.08 168.53C528.54 168.50 528.99 168.48 529.44 168.45C529.90 168.43 530.58 168.40 530.81 168.39" fill="none" stroke="#8a12d8" stroke-width="0.95"/>
<path d="M313.96 169.94C314.19 169.92 314.87 169.85 315.33 169.81C315.78 169.77 316.24 169.74 316.69 169.72C317.15 169.70 317.60 169.68 318.06 169.68C318.51 169.67 318.96 169.68 319.42 169.70C319.87 169.72 320.33 169.75 320.78 169.79C321.24 169.83 321.69 169.89 322.15 169.95C322.60 170.01 323.06 170.08 323.51 170.16C323.97 170.24 324.42 170.32 324.87 170.41C325.33 170.50 325.78 170.59 326.24 170.68C326.69 170.76 327.15 170.85 327.60 170.93C328.06 171.01 328.51 171.09 328.97 171.15C329.42 171.22 329.87 171.28 330.33 171.32C330.78 171.36 331.24 171.39 331.69 171.41C332.15 171.42 332.60 171.43 333.06 171.42C333.51 171.40 333.97 171.38 334.42 171.34C334.88 171.30 335.33 171.24 335.78 171.18C336.24 171.12 336.69 171.04 337.15 170.96C337.60 170.88 338.06 170.79 338.51 170.70C338.97 170.61 339.42 170.51 339.88 170.42C340.33 170.32 340.79 170.23 341.24 170.14C341.69 170.05 342.15 169.97 342.60 169.90C343.06 169.82 343.51 169.75 343.97 169.70C344.42 169.64 344.88 169.59 345.33 169.55C345.79 169.51 346.24 169.48 346.70 169.45C347.15 169.42 347.60 169.40 348.06 169.38C348.51 169.36 348.97 169.34 349.42 169.31C349.88 169.28 350.33 169.25 350.79 169.19C351.24 169.13 351.70 169.07 352.15 168.95C352.60 168.84 353.06 168.71 353.51 168.52C353.97 168.32 354.42 168.10 354.88 167.79C355.33 167.48 355.79 167.12 356.24 166.65C356.70 166.19 357.15 165.66 357.61 165.00C358.06 164.34 358.51 163.60 358.97 162.71C359.42 161.82 359.88 160.83 360.33 159.67C360.79 158.52 361.24 157.23 361.70 155.78C362.15 154.33 362.61 152.73 363.06 150.97C363.52 149.21 363.97 147.28 364.42 145.20C364.88 143.12 365.33 140.87 365.79 138.49C366.24 136.12 366.70 133.57 367.15 130.95C367.61 128.33 368.06 125.55 368.52 122.76C368.97 119.97 369.43 117.06 369.88 114.21C370.33 111.36 370.79 108.45 371.24 105.68C371.70 102.92 372.15 100.15 372.61 97.63C373.06 95.11 373.52 92.66 373.97 90.54C374.43 88.42 374.88 86.47 375.33 84.90C375.79 83.34 376.24 82.02 376.70 81.15C377.15 80.27 377.61 79.80 378.06 79.63C378.52 79.47 378.97 79.70 379.43 80.14C379.88 80.58 380.34 81.26 380.79 82.26C381.24 83.27 381.70 84.58 382.15 86.16C382.61 87.74 383.06 89.65 383.52 91.75C383.97 93.86 384.43 96.26 384.88 98.79C385.34 101.31 385.79 104.09 386.25 106.89C386.70 109.70 387.15 112.68 387.61 115.62C388.06 118.56 388.52 121.60 388.97 124.52C389.43 127.44 389.88 130.38 390.34 133.16C390.79 135.94 391.25 138.65 391.70 141.19C392.15 143.73 392.61 146.15 393.06 148.39C393.52 150.62 393.97 152.70 394.43 154.61C394.88 156.52 395.34 158.26 395.79 159.85C396.25 161.45 396.70 162.87 397.16 164.18C397.61 165.48 398.06 166.64 398.52 167.71C398.97 168.78 399.43 169.72 399.88 170.60C400.34 171.49 400.79 172.28 401.25 173.03C401.70 173.79 402.16 174.47 402.61 175.15C403.07 175.82 403.52 176.45 403.97 177.07C404.43 177.70 404.88 178.30 405.34 178.91C405.79 179.51 406.25 180.11 406.70 180.71C407.16 181.31 407.61 181.91 408.07 182.51C408.52 183.11 408.98 183.72 409.43 184.32C409.88 184.92 410.34 185.52 410.79 186.12C411.25 186.71 411.70 187.30 412.16 187.87C412.61 188.45 413.07 189.01 413.52 189.55C413.98 190.09 414.43 190.61 414.88 191.10C415.34 191.58 415.79 192.04 416.25 192.46C416.70 192.88 417.16 193.27 417.61 193.61C418.07 193.94 418.52 194.24 418.98 194.48C419.43 194.72 419.89 194.92 420.34 195.06C420.79 195.20 421.25 195.27 421.70 195.32C422.16 195.37 422.61 195.36 423.07 195.34C423.52 195.32 423.98 195.28 424.43 195.21C424.89 195.15 425.34 195.05 425.80 194.93C426.25 194.81 426.70 194.66 427.16 194.48C427.61 194.30 428.07 194.09 428.52 193.85C428.98 193.61 429.43 193.34 429.89 193.04C430.34 192.74 430.80 192.40 431.25 192.04C431.71 191.68 432.16 191.28 432.61 190.87C433.07 190.45 433.52 190.00 433.98 189.54C434.43 189.08 434.89 188.59 435.34 188.09C435.80 187.59 436.25 187.08 436.71 186.57C437.16 186.05 437.62 185.53 438.07 185.02C438.52 184.51 438.98 183.99 439.43 183.49C439.89 183.00 440.34 182.51 440.80 182.04C441.25 181.58 441.71 181.12 442.16 180.70C442.62 180.27 443.07 179.87 443.52 179.49C443.98 179.11 444.43 178.76 444.89 178.44C445.34 178.11 445.80 177.81 446.25 177.53C446.71 177.26 447.16 177.01 447.62 176.78C448.07 176.55 448.53 176.35 448.98 176.17C449.43 175.98 449.89 175.82 450.34 175.66C450.80 175.51 451.25 175.38 451.71 175.26C452.16 175.13 452.62 175.02 453.07 174.92C453.53 174.81 453.98 174.71 454.44 174.62C454.89 174.52 455.34 174.43 455.80 174.34C456.25 174.25 456.71 174.16 457.16 174.07C457.62 173.98 458.07 173.88 458.53 173.78C458.98 173.69 459.44 173.59 459.89 173.48C460.35 173.38 460.80 173.27 461.25 173.16C461.71 173.05 462.16 172.94 462.62 172.82C463.07 172.71 463.53 172.59 463.98 172.47C464.44 172.36 464.89 172.24 465.35 172.13C465.80 172.02 466.25 171.91 466.71 171.81C467.16 171.70 467.62 171.61 468.07 171.52C468.53 171.43 468.98 171.35 469.44 171.29C469.89 171.22 470.35 171.16 470.80 171.12C471.26 171.08 471.71 171.06 472.16 171.05C472.62 171.04 473.07 171.04 473.53 171.06C473.98 171.08 474.44 171.12 474.89 171.18C475.35 171.23 475.80 171.30 476.26 171.39C476.71 171.47 477.17 171.58 477.62 171.69C478.07 171.80 478.53 171.93 478.98 172.07C479.44 172.21 479.89 172.36 480.35 172.51C480.80 172.66 481.26 172.83 481.71 172.99C482.17 173.15 482.62 173.32 483.08 173.48C483.53 173.64 483.98 173.80 484.44 173.95C484.89 174.11 485.35 174.25 485.80 174.39C486.26 174.52 486.71 174.65 487.17 174.75C487.62 174.86 488.08 174.96 488.53 175.03C488.98 175.10 489.44 175.16 489.89 175.20C490.35 175.24 490.80 175.25 491.26 175.25C491.71 175.24 492.17 175.22 492.62 175.17C493.08 175.13 493.53 175.06 493.99 174.97C494.44 174.89 494.89 174.78 495.35 174.66C495.80 174.53 496.26 174.39 496.71 174.24C497.17 174.09 497.62 173.92 498.08 173.74C498.53 173.57 498.99 173.38 499.44 173.19C499.90 173.00 500.35 172.80 500.80 172.61C501.26 172.42 501.71 172.22 502.17 172.04C502.62 171.85 503.08 171.67 503.53 171.50C503.99 171.33 504.44 171.16 504.90 171.02C505.35 170.87 505.80 170.74 506.26 170.62C506.71 170.51 507.17 170.41 507.62 170.34C508.08 170.26 508.53 170.20 508.99 170.17C509.44 170.13 509.90 170.12 510.35 170.12C510.81 170.13 511.26 170.16 511.71 170.20C512.17 170.25 512.62 170.32 513.08 170.40C513.53 170.49 513.99 170.59 514.44 170.70C514.90 170.82 515.35 170.95 515.81 171.09C516.26 171.23 516.72 171.38 517.17 171.54C517.62 171.69 518.08 171.85 518.53 172.01C518.99 172.17 519.44 172.34 519.90 172.50C520.35 172.66 520.81 172.82 521.26 172.96C521.72 173.11 522.17 173.25 522.63 173.38C523.08 173.51 523.53 173.63 523.99 173.73C524.44 173.83 524.90 173.92 525.35 173.99C525.81 174.07 526.26 174.12 526.72 174.16C527.17 174.20 527.63 174.23 528.08 174.24C528.54 174.24 528.99 174.23 529.44 174.21C529.90 174.19 530.58 174.12 530.81 174.10" fill="none" stroke="#8a12d8" stroke-width="0.95"/>
<path d="M313.96 169.02C314.19 169.00 314.87 168.97 315.33 168.93C315.78 168.89 316.24 168.84 316.69 168.77C317.15 168.71 317.60 168.64 318.06 168.56C318.51 168.48 318.96 168.39 319.42 168.29C319.87 168.19 320.33 168.09 320.78 167.99C321.24 167.88 321.69 167.77 322.15 167.66C322.60 167.55 323.06 167.44 323.51 167.33C323.97 167.22 324.42 167.12 324.87 167.02C325.33 166.92 325.78 166.82 326.24 166.74C326.69 166.65 327.15 166.57 327.60 166.51C328.06 166.44 328.51 166.38 328.97 166.34C329.42 166.29 329.87 166.26 330.33 166.24C330.78 166.22 331.24 166.22 331.69 166.23C332.15 166.23 332.60 166.26 333.06 166.29C333.51 166.32 333.97 166.37 334.42 166.43C334.88 166.49 335.33 166.56 335.78 166.64C336.24 166.72 336.69 166.82 337.15 166.91C337.60 167.01 338.06 167.12 338.51 167.23C338.97 167.34 339.42 167.46 339.88 167.57C340.33 167.69 340.79 167.81 341.24 167.92C341.69 168.04 342.15 168.15 342.60 168.26C343.06 168.36 343.51 168.47 343.97 168.56C344.42 168.65 344.88 168.74 345.33 168.81C345.79 168.88 346.24 168.95 346.70 168.99C347.15 169.03 347.60 169.07 348.06 169.08C348.51 169.09 348.97 169.09 349.42 169.06C349.88 169.03 350.33 168.98 350.79 168.90C351.24 168.82 351.70 168.72 352.15 168.58C352.60 168.43 353.06 168.27 353.51 168.04C353.97 167.82 354.42 167.56 354.88 167.23C355.33 166.89 355.79 166.52 356.24 166.04C356.70 165.57 357.15 165.03 357.61 164.37C358.06 163.71 358.51 162.97 358.97 162.06C359.42 161.16 359.88 160.15 360.33 158.96C360.79 157.76 361.24 156.43 361.70 154.89C362.15 153.36 362.61 151.65 363.06 149.73C363.52 147.82 363.97 145.71 364.42 143.42C364.88 141.13 365.33 138.62 365.79 136.00C366.24 133.37 366.70 130.53 367.15 127.65C367.61 124.77 368.06 121.72 368.52 118.73C368.97 115.73 369.43 112.63 369.88 109.69C370.33 106.75 370.79 103.79 371.24 101.10C371.70 98.40 372.15 95.79 372.61 93.53C373.06 91.26 373.52 89.19 373.97 87.50C374.43 85.81 374.88 84.42 375.33 83.39C375.79 82.37 376.24 81.72 376.70 81.36C377.15 81.00 377.61 80.98 378.06 81.23C378.52 81.47 378.97 82.01 379.43 82.82C379.88 83.63 380.34 84.75 380.79 86.09C381.24 87.42 381.70 89.05 382.15 90.83C382.61 92.62 383.06 94.66 383.52 96.79C383.97 98.92 384.43 101.26 384.88 103.63C385.34 106.00 385.79 108.51 386.25 111.01C386.70 113.50 387.15 116.08 387.61 118.59C388.06 121.10 388.52 123.64 388.97 126.07C389.43 128.50 389.88 130.91 390.34 133.19C390.79 135.48 391.25 137.69 391.70 139.77C392.15 141.86 392.61 143.84 393.06 145.69C393.52 147.54 393.97 149.27 394.43 150.88C394.88 152.49 395.34 153.97 395.79 155.34C396.25 156.72 396.70 157.97 397.16 159.13C397.61 160.30 398.06 161.35 398.52 162.33C398.97 163.31 399.43 164.19 399.88 165.02C400.34 165.85 400.79 166.59 401.25 167.31C401.70 168.02 402.16 168.66 402.61 169.29C403.07 169.91 403.52 170.49 403.97 171.05C404.43 171.61 404.88 172.14 405.34 172.66C405.79 173.18 406.25 173.68 406.70 174.17C407.16 174.66 407.61 175.13 408.07 175.60C408.52 176.07 408.98 176.53 409.43 176.98C409.88 177.43 410.34 177.87 410.79 178.29C411.25 178.72 411.70 179.13 412.16 179.53C412.61 179.92 413.07 180.30 413.52 180.65C413.98 181.01 414.43 181.34 414.88 181.65C415.34 181.95 415.79 182.23 416.25 182.47C416.70 182.71 417.16 182.93 417.61 183.10C418.07 183.27 418.52 183.41 418.98 183.50C419.43 183.60 419.89 183.64 420.34 183.67C420.79 183.70 421.25 183.69 421.70 183.67C422.16 183.65 422.61 183.61 423.07 183.56C423.52 183.51 423.98 183.44 424.43 183.35C424.89 183.27 425.34 183.16 425.80 183.04C426.25 182.91 426.70 182.77 427.16 182.61C427.61 182.44 428.07 182.26 428.52 182.06C428.98 181.86 429.43 181.64 429.89 181.40C430.34 181.16 430.80 180.90 431.25 180.62C431.71 180.35 432.16 180.06 432.61 179.75C433.07 179.45 433.52 179.12 433.98 178.80C434.43 178.47 434.89 178.12 435.34 177.78C435.80 177.43 436.25 177.08 436.71 176.73C437.16 176.38 437.62 176.02 438.07 175.67C438.52 175.32 438.98 174.97 439.43 174.64C439.89 174.30 440.34 173.97 440.80 173.66C441.25 173.34 441.71 173.03 442.16 172.74C442.62 172.46 443.07 172.18 443.52 171.92C443.98 171.66 444.43 171.42 444.89 171.20C445.34 170.97 445.80 170.77 446.25 170.58C446.71 170.39 447.16 170.22 447.62 170.06C448.07 169.91 448.53 169.78 448.98 169.66C449.43 169.54 449.89 169.43 450.34 169.35C450.80 169.26 451.25 169.19 451.71 169.12C452.16 169.06 452.62 169.02 453.07 168.98C453.53 168.94 453.98 168.92 454.44 168.90C454.89 168.88 455.34 168.88 455.80 168.87C456.25 168.87 456.71 168.88 457.16 168.88C457.62 168.89 458.07 168.91 458.53 168.92C458.98 168.94 459.44 168.95 459.89 168.97C460.35 168.99 460.80 169.01 461.25 169.02C461.71 169.04 462.16 169.06 462.62 169.07C463.07 169.08 463.53 169.09 463.98 169.10C464.44 169.11 464.89 169.12 465.35 169.12C465.80 169.12 466.25 169.12 466.71 169.12C467.16 169.12 467.62 169.11 468.07 169.10C468.53 169.10 468.98 169.09 469.44 169.08C469.89 169.06 470.35 169.05 470.80 169.04C471.26 169.03 471.71 169.01 472.16 169.00C472.62 168.99 473.07 168.98 473.53 168.97C473.98 168.96 474.44 168.96 474.89 168.96C475.35 168.95 475.80 168.95 476.26 168.96C476.71 168.97 477.17 168.98 477.62 169.00C478.07 169.02 478.53 169.04 478.98 169.07C479.44 169.11 479.89 169.14 480.35 169.19C480.80 169.24 481.26 169.29 481.71 169.35C482.17 169.41 482.62 169.48 483.08 169.56C483.53 169.63 483.98 169.72 484.44 169.81C484.89 169.90 485.35 170.00 485.80 170.10C486.26 170.20 486.71 170.31 487.17 170.42C487.62 170.54 488.08 170.66 488.53 170.78C488.98 170.90 489.44 171.02 489.89 171.15C490.35 171.27 490.80 171.40 491.26 171.52C491.71 171.65 492.17 171.77 492.62 171.89C493.08 172.01 493.53 172.13 493.99 172.24C494.44 172.36 494.89 172.47 495.35 172.57C495.80 172.67 496.26 172.76 496.71 172.85C497.17 172.93 497.62 173.01 498.08 173.08C498.53 173.14 498.99 173.20 499.44 173.24C499.90 173.29 500.35 173.32 500.80 173.34C501.26 173.36 501.71 173.37 502.17 173.36C502.62 173.36 503.08 173.34 503.53 173.31C503.99 173.28 504.44 173.23 504.90 173.18C505.35 173.12 505.80 173.05 506.26 172.97C506.71 172.89 507.17 172.80 507.62 172.69C508.08 172.59 508.53 172.48 508.99 172.36C509.44 172.24 509.90 172.11 510.35 171.97C510.81 171.83 511.26 171.69 511.71 171.54C512.17 171.39 512.62 171.24 513.08 171.09C513.53 170.93 513.99 170.77 514.44 170.62C514.90 170.46 515.35 170.31 515.81 170.16C516.26 170.00 516.72 169.85 517.17 169.71C517.62 169.57 518.08 169.43 518.53 169.30C518.99 169.17 519.44 169.05 519.90 168.93C520.35 168.82 520.81 168.72 521.26 168.63C521.72 168.54 522.17 168.45 522.63 168.39C523.08 168.32 523.53 168.27 523.99 168.23C524.44 168.19 524.90 168.16 525.35 168.15C525.81 168.13 526.26 168.13 526.72 168.15C527.17 168.17 527.63 168.20 528.08 168.24C528.54 168.28 528.99 168.34 529.44 168.41C529.90 168.48 530.58 168.61 530.81 168.65" fill="none" stroke="#8a12d8" stroke-width="0.95"/>
<path d="M313.96 169.57C314.19 169.54 314.87 169.45 315.33 169.39C315.78 169.33 316.24 169.27 316.69 169.22C317.15 169.16 317.60 169.11 318.06 169.06C318.51 169.02 318.96 168.98 319.42 168.95C319.87 168.92 320.33 168.90 320.78 168.90C321.24 168.89 321.69 168.89 322.15 168.91C322.60 168.93 323.06 168.96 323.51 169.00C323.97 169.04 324.42 169.09 324.87 169.15C325.33 169.21 325.78 169.29 326.24 169.36C326.69 169.44 327.15 169.53 327.60 169.62C328.06 169.71 328.51 169.81 328.97 169.90C329.42 169.99 329.87 170.09 330.33 170.18C330.78 170.27 331.24 170.35 331.69 170.43C332.15 170.51 332.60 170.58 333.06 170.64C333.51 170.69 333.97 170.74 334.42 170.78C334.88 170.81 335.33 170.83 335.78 170.84C336.24 170.85 336.69 170.84 337.15 170.82C337.60 170.80 338.06 170.76 338.51 170.71C338.97 170.66 339.42 170.60 339.88 170.53C340.33 170.46 340.79 170.37 341.24 170.28C341.69 170.19 342.15 170.09 342.60 169.99C343.06 169.89 343.51 169.79 343.97 169.68C344.42 169.58 344.88 169.47 345.33 169.37C345.79 169.27 346.24 169.18 346.70 169.08C347.15 168.99 347.60 168.91 348.06 168.83C348.51 168.75 348.97 168.68 349.42 168.61C349.88 168.54 350.33 168.49 350.79 168.42C351.24 168.35 351.70 168.30 352.15 168.22C352.60 168.14 353.06 168.07 353.51 167.96C353.97 167.85 354.42 167.73 354.88 167.55C355.33 167.37 355.79 167.16 356.24 166.87C356.70 166.58 357.15 166.25 357.61 165.79C358.06 165.33 358.51 164.81 358.97 164.14C359.42 163.46 359.88 162.69 360.33 161.73C360.79 160.78 361.24 159.69 361.70 158.41C362.15 157.13 362.61 155.68 363.06 154.03C363.52 152.39 363.97 150.55 364.42 148.52C364.88 146.50 365.33 144.26 365.79 141.87C366.24 139.49 366.70 136.89 367.15 134.19C367.61 131.50 368.06 128.61 368.52 125.70C368.97 122.79 369.43 119.73 369.88 116.75C370.33 113.76 370.79 110.69 371.24 107.80C371.70 104.92 372.15 102.02 372.61 99.42C373.06 96.81 373.52 94.31 373.97 92.17C374.43 90.04 374.88 88.12 375.33 86.62C375.79 85.13 376.24 83.94 376.70 83.21C377.15 82.47 377.61 82.27 378.06 82.20C378.52 82.14 378.97 82.31 379.43 82.81C379.88 83.30 380.34 84.00 380.79 85.16C381.24 86.33 381.70 87.86 382.15 89.80C382.61 91.74 383.06 94.13 383.52 96.80C383.97 99.47 384.43 102.60 384.88 105.84C385.34 109.09 385.79 112.70 386.25 116.26C386.70 119.82 387.15 123.62 387.61 127.20C388.06 130.77 388.52 134.41 388.97 137.73C389.43 141.06 389.88 144.27 390.34 147.13C390.79 149.99 391.25 152.61 391.70 154.91C392.15 157.21 392.61 159.19 393.06 160.92C393.52 162.65 393.97 164.05 394.43 165.28C394.88 166.52 395.34 167.47 395.79 168.32C396.25 169.17 396.70 169.81 397.16 170.40C397.61 170.99 398.06 171.44 398.52 171.88C398.97 172.33 399.43 172.68 399.88 173.05C400.34 173.42 400.79 173.75 401.25 174.10C401.70 174.44 402.16 174.78 402.61 175.13C403.07 175.49 403.52 175.85 403.97 176.22C404.43 176.60 404.88 176.98 405.34 177.38C405.79 177.78 406.25 178.19 406.70 178.60C407.16 179.02 407.61 179.44 408.07 179.87C408.52 180.29 408.98 180.72 409.43 181.15C409.88 181.57 410.34 182.00 410.79 182.41C411.25 182.82 411.70 183.23 412.16 183.61C412.61 183.99 413.07 184.36 413.52 184.71C413.98 185.05 414.43 185.37 414.88 185.66C415.34 185.95 415.79 186.21 416.25 186.43C416.70 186.66 417.16 186.85 417.61 186.99C418.07 187.14 418.52 187.24 418.98 187.30C419.43 187.37 419.89 187.38 420.34 187.36C420.79 187.35 421.25 187.29 421.70 187.22C422.16 187.15 422.61 187.05 423.07 186.94C423.52 186.82 423.98 186.69 424.43 186.53C424.89 186.38 425.34 186.21 425.80 186.02C426.25 185.84 426.70 185.64 427.16 185.43C427.61 185.22 428.07 185.00 428.52 184.78C428.98 184.56 429.43 184.33 429.89 184.10C430.34 183.87 430.80 183.64 431.25 183.41C431.71 183.19 432.16 182.96 432.61 182.74C433.07 182.52 433.52 182.30 433.98 182.08C434.43 181.87 434.89 181.66 435.34 181.44C435.80 181.23 436.25 181.02 436.71 180.80C437.16 180.59 437.62 180.37 438.07 180.15C438.52 179.93 438.98 179.70 439.43 179.46C439.89 179.22 440.34 178.97 440.80 178.72C441.25 178.46 441.71 178.19 442.16 177.91C442.62 177.64 443.07 177.35 443.52 177.05C443.98 176.75 444.43 176.44 444.89 176.13C445.34 175.81 445.80 175.49 446.25 175.17C446.71 174.85 447.16 174.52 447.62 174.19C448.07 173.87 448.53 173.55 448.98 173.23C449.43 172.91 449.89 172.60 450.34 172.30C450.80 172.01 451.25 171.72 451.71 171.45C452.16 171.18 452.62 170.92 453.07 170.68C453.53 170.45 453.98 170.23 454.44 170.03C454.89 169.84 455.34 169.66 455.80 169.52C456.25 169.37 456.71 169.25 457.16 169.15C457.62 169.05 458.07 168.97 458.53 168.93C458.98 168.88 459.44 168.85 459.89 168.85C460.35 168.85 460.80 168.88 461.25 168.92C461.71 168.96 462.16 169.03 462.62 169.11C463.07 169.19 463.53 169.29 463.98 169.40C464.44 169.51 464.89 169.64 465.35 169.77C465.80 169.91 466.25 170.05 466.71 170.20C467.16 170.35 467.62 170.50 468.07 170.66C468.53 170.81 468.98 170.96 469.44 171.11C469.89 171.26 470.35 171.41 470.80 171.54C471.26 171.68 471.71 171.81 472.16 171.93C472.62 172.05 473.07 172.16 473.53 172.25C473.98 172.34 474.44 172.43 474.89 172.50C475.35 172.56 475.80 172.62 476.26 172.66C476.71 172.70 477.17 172.72 477.62 172.74C478.07 172.75 478.53 172.75 478.98 172.73C479.44 172.72 479.89 172.69 480.35 172.65C480.80 172.62 481.26 172.57 481.71 172.51C482.17 172.46 482.62 172.39 483.08 172.32C483.53 172.26 483.98 172.18 484.44 172.11C484.89 172.03 485.35 171.95 485.80 171.87C486.26 171.80 486.71 171.72 487.17 171.65C487.62 171.57 488.08 171.50 488.53 171.44C488.98 171.38 489.44 171.32 489.89 171.26C490.35 171.21 490.80 171.17 491.26 171.13C491.71 171.10 492.17 171.07 492.62 171.05C493.08 171.04 493.53 171.03 493.99 171.03C494.44 171.03 494.89 171.04 495.35 171.05C495.80 171.07 496.26 171.10 496.71 171.13C497.17 171.16 497.62 171.21 498.08 171.25C498.53 171.30 498.99 171.35 499.44 171.41C499.90 171.46 500.35 171.52 500.80 171.58C501.26 171.65 501.71 171.71 502.17 171.77C502.62 171.84 503.08 171.90 503.53 171.97C503.99 172.03 504.44 172.09 504.90 172.15C505.35 172.21 505.80 172.26 506.26 172.31C506.71 172.36 507.17 172.41 507.62 172.45C508.08 172.49 508.53 172.53 508.99 172.56C509.44 172.59 509.90 172.62 510.35 172.64C510.81 172.66 511.26 172.67 511.71 172.68C512.17 172.69 512.62 172.69 513.08 172.69C513.53 172.69 513.99 172.68 514.44 172.67C514.90 172.66 515.35 172.65 515.81 172.63C516.26 172.62 516.72 172.60 517.17 172.58C517.62 172.56 518.08 172.53 518.53 172.51C518.99 172.49 519.44 172.46 519.90 172.44C520.35 172.41 520.81 172.39 521.26 172.36C521.72 172.34 522.17 172.31 522.63 172.29C523.08 172.27 523.53 172.25 523.99 172.23C524.44 172.21 524.90 172.19 525.35 172.18C525.81 172.16 526.26 172.14 526.72 172.13C527.17 172.12 527.63 172.10 528.08 172.09C528.54 172.08 528.99 172.07 529.44 172.06C529.90 172.05 530.58 172.04 530.81 172.04" fill="none" stroke="#8a12d8" stroke-width="0.95"/>
<path d="M313.96 170.48C314.19 170.48 314.87 170.49 315.33 170.50C315.78 170.51 316.24 170.53 316.69 170.56C317.15 170.58 317.60 170.62 318.06 170.65C318.51 170.69 318.96 170.73 319.42 170.78C319.87 170.82 320.33 170.87 320.78 170.92C321.24 170.97 321.69 171.02 322.15 171.07C322.60 171.12 323.06 171.18 323.51 171.22C323.97 171.27 324.42 171.32 324.87 171.36C325.33 171.40 325.78 171.43 326.24 171.46C326.69 171.49 327.15 171.51 327.60 171.53C328.06 171.54 328.51 171.55 328.97 171.54C329.42 171.54 329.87 171.53 330.33 171.51C330.78 171.49 331.24 171.46 331.69 171.42C332.15 171.38 332.60 171.34 333.06 171.28C333.51 171.23 333.97 171.17 334.42 171.10C334.88 171.03 335.33 170.96 335.78 170.88C336.24 170.81 336.69 170.73 337.15 170.64C337.60 170.56 338.06 170.48 338.51 170.39C338.97 170.31 339.42 170.23 339.88 170.15C340.33 170.07 340.79 170.00 341.24 169.92C341.69 169.85 342.15 169.79 342.60 169.73C343.06 169.66 343.51 169.61 343.97 169.56C344.42 169.51 344.88 169.46 345.33 169.42C345.79 169.38 346.24 169.34 346.70 169.30C347.15 169.26 347.60 169.23 348.06 169.18C348.51 169.13 348.97 169.08 349.42 169.01C349.88 168.94 350.33 168.87 350.79 168.76C351.24 168.65 351.70 168.52 352.15 168.34C352.60 168.16 353.06 167.95 353.51 167.68C353.97 167.40 354.42 167.08 354.88 166.67C355.33 166.26 355.79 165.79 356.24 165.21C356.70 164.63 357.15 163.97 357.61 163.19C358.06 162.40 358.51 161.52 358.97 160.51C359.42 159.49 359.88 158.36 360.33 157.09C360.79 155.82 361.24 154.43 361.70 152.90C362.15 151.38 362.61 149.72 363.06 147.95C363.52 146.18 363.97 144.27 364.42 142.29C364.88 140.31 365.33 138.20 365.79 136.05C366.24 133.91 366.70 131.66 367.15 129.42C367.61 127.18 368.06 124.87 368.52 122.62C368.97 120.38 369.43 118.10 369.88 115.94C370.33 113.79 370.79 111.65 371.24 109.69C371.70 107.72 372.15 105.83 372.61 104.16C373.06 102.49 373.52 100.94 373.97 99.65C374.43 98.36 374.88 97.24 375.33 96.39C375.79 95.54 376.24 94.92 376.70 94.55C377.15 94.17 377.61 94.08 378.06 94.13C378.52 94.18 378.97 94.40 379.43 94.85C379.88 95.30 380.34 95.95 380.79 96.84C381.24 97.73 381.70 98.85 382.15 100.17C382.61 101.49 383.06 103.06 383.52 104.76C383.97 106.47 384.43 108.41 384.88 110.43C385.34 112.45 385.79 114.66 386.25 116.90C386.70 119.14 387.15 121.51 387.61 123.86C388.06 126.21 388.52 128.63 388.97 130.98C389.43 133.33 389.88 135.69 390.34 137.95C390.79 140.20 391.25 142.42 391.70 144.51C392.15 146.60 392.61 148.61 393.06 150.48C393.52 152.35 393.97 154.11 394.43 155.73C394.88 157.36 395.34 158.85 395.79 160.23C396.25 161.60 396.70 162.84 397.16 163.99C397.61 165.13 398.06 166.14 398.52 167.07C398.97 168.01 399.43 168.83 399.88 169.59C400.34 170.35 400.79 171.01 401.25 171.64C401.70 172.26 402.16 172.81 402.61 173.33C403.07 173.85 403.52 174.31 403.97 174.76C404.43 175.21 404.88 175.61 405.34 176.00C405.79 176.40 406.25 176.76 406.70 177.12C407.16 177.48 407.61 177.82 408.07 178.15C408.52 178.48 408.98 178.79 409.43 179.10C409.88 179.41 410.34 179.70 410.79 179.99C411.25 180.27 411.70 180.54 412.16 180.80C412.61 181.05 413.07 181.30 413.52 181.52C413.98 181.75 414.43 181.96 414.88 182.15C415.34 182.33 415.79 182.50 416.25 182.65C416.70 182.79 417.16 182.91 417.61 183.01C418.07 183.10 418.52 183.17 418.98 183.22C419.43 183.26 419.89 183.27 420.34 183.26C420.79 183.26 421.25 183.22 421.70 183.18C422.16 183.14 422.61 183.08 423.07 183.01C423.52 182.94 423.98 182.86 424.43 182.76C424.89 182.67 425.34 182.56 425.80 182.44C426.25 182.32 426.70 182.19 427.16 182.05C427.61 181.92 428.07 181.77 428.52 181.63C428.98 181.49 429.43 181.33 429.89 181.19C430.34 181.04 430.80 180.89 431.25 180.74C431.71 180.60 432.16 180.46 432.61 180.32C433.07 180.18 433.52 180.05 433.98 179.92C434.43 179.80 434.89 179.67 435.34 179.55C435.80 179.43 436.25 179.31 436.71 179.19C437.16 179.07 437.62 178.95 438.07 178.82C438.52 178.69 438.98 178.55 439.43 178.41C439.89 178.26 440.34 178.10 440.80 177.92C441.25 177.74 441.71 177.55 442.16 177.34C442.62 177.13 443.07 176.90 443.52 176.66C443.98 176.41 444.43 176.14 444.89 175.86C445.34 175.57 445.80 175.27 446.25 174.95C446.71 174.64 447.16 174.31 447.62 173.97C448.07 173.64 448.53 173.29 448.98 172.94C449.43 172.59 449.89 172.24 450.34 171.90C450.80 171.56 451.25 171.21 451.71 170.89C452.16 170.56 452.62 170.25 453.07 169.95C453.53 169.66 453.98 169.39 454.44 169.14C454.89 168.89 455.34 168.67 455.80 168.48C456.25 168.29 456.71 168.12 457.16 168.00C457.62 167.87 458.07 167.77 458.53 167.71C458.98 167.65 459.44 167.62 459.89 167.62C460.35 167.63 460.80 167.67 461.25 167.73C461.71 167.80 462.16 167.90 462.62 168.02C463.07 168.14 463.53 168.29 463.98 168.45C464.44 168.61 464.89 168.80 465.35 168.99C465.80 169.18 466.25 169.40 466.71 169.60C467.16 169.81 467.62 170.03 468.07 170.24C468.53 170.45 468.98 170.67 469.44 170.87C469.89 171.07 470.35 171.27 470.80 171.44C471.26 171.62 471.71 171.79 472.16 171.94C472.62 172.09 473.07 172.22 473.53 172.33C473.98 172.44 474.44 172.53 474.89 172.60C475.35 172.68 475.80 172.73 476.26 172.76C476.71 172.79 477.17 172.81 477.62 172.81C478.07 172.81 478.53 172.79 478.98 172.76C479.44 172.73 479.89 172.68 480.35 172.64C480.80 172.59 481.26 172.52 481.71 172.46C482.17 172.40 482.62 172.33 483.08 172.27C483.53 172.20 483.98 172.14 484.44 172.08C484.89 172.02 485.35 171.96 485.80 171.91C486.26 171.86 486.71 171.81 487.17 171.77C487.62 171.74 488.08 171.71 488.53 171.69C488.98 171.67 489.44 171.66 489.89 171.65C490.35 171.65 490.80 171.65 491.26 171.65C491.71 171.66 492.17 171.67 492.62 171.69C493.08 171.70 493.53 171.72 493.99 171.73C494.44 171.74 494.89 171.76 495.35 171.76C495.80 171.77 496.26 171.78 496.71 171.77C497.17 171.76 497.62 171.75 498.08 171.73C498.53 171.71 498.99 171.68 499.44 171.63C499.90 171.59 500.35 171.54 500.80 171.47C501.26 171.40 501.71 171.33 502.17 171.24C502.62 171.15 503.08 171.06 503.53 170.95C503.99 170.85 504.44 170.74 504.90 170.63C505.35 170.51 505.80 170.39 506.26 170.28C506.71 170.16 507.17 170.05 507.62 169.94C508.08 169.83 508.53 169.73 508.99 169.64C509.44 169.55 509.90 169.46 510.35 169.40C510.81 169.34 511.26 169.29 511.71 169.26C512.17 169.23 512.62 169.22 513.08 169.23C513.53 169.24 513.99 169.28 514.44 169.33C514.90 169.39 515.35 169.47 515.81 169.57C516.26 169.66 516.72 169.79 517.17 169.93C517.62 170.07 518.08 170.23 518.53 170.40C518.99 170.57 519.44 170.77 519.90 170.96C520.35 171.16 520.81 171.37 521.26 171.58C521.72 171.79 522.17 172.01 522.63 172.21C523.08 172.42 523.53 172.63 523.99 172.83C524.44 173.02 524.90 173.21 525.35 173.38C525.81 173.54 526.26 173.70 526.72 173.83C527.17 173.96 527.63 174.07 528.08 174.15C528.54 174.23 528.99 174.29 529.44 174.32C529.90 174.36 530.58 174.34 530.81 174.34" fill="none" stroke="#8a12d8" stroke-width="0.95"/>
<rect x="187.30" y="60.60" width="75.40" height="24.70" fill="#fff" stroke="#c4c4c4" stroke-width="0.9"/>
<text x="190.70" y="70.00" class="lg">Head velocity</text>
<text x="190.70" y="80.70" class="lg">Eye velocity</text>
<path d="M242.90 67.50h15.2" stroke="#8a12d8" stroke-width="2.4"/>
<path d="M242.90 78.10h15.2" stroke="#1cc80a" stroke-width="2.4"/>
<rect x="463.50" y="60.40" width="75.30" height="24.90" fill="#fff" stroke="#c4c4c4" stroke-width="0.9"/>
<text x="466.90" y="69.80" class="lg">Head velocity</text>
<text x="466.90" y="80.50" class="lg">Eye velocity</text>
<path d="M519.10 67.30h15.2" stroke="#8a12d8" stroke-width="2.4"/>
<path d="M519.10 77.90h15.2" stroke="#1cc80a" stroke-width="2.4"/>
</svg>
</body></html>
